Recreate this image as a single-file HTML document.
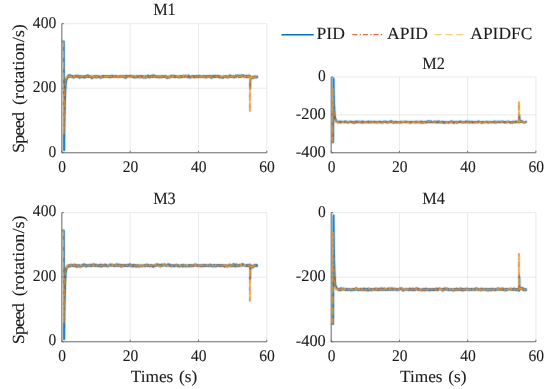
<!DOCTYPE html>
<html><head><meta charset="utf-8"><title>Motor speeds</title>
<style>
html,body{margin:0;padding:0;background:#fff;}
body{width:550px;height:389px;overflow:hidden;}
svg text{font-family:"Liberation Serif", "DejaVu Serif", serif;fill:#1c1c1c;stroke:#1c1c1c;stroke-width:0.1px;text-rendering:geometricPrecision;}
</style></head><body>
<svg width="550" height="389" viewBox="0 0 550 389" style="display:block">
<rect width="550" height="389" fill="#fff"/>
<defs><filter id="soft" x="-5%" y="-5%" width="110%" height="110%" color-interpolation-filters="sRGB"><feConvolveMatrix order="3" kernelMatrix="0.02 0.09 0.02 0.09 0.56 0.09 0.02 0.09 0.02" divisor="1" edgeMode="none" preserveAlpha="false"/></filter></defs>
<g><line x1="61.85" y1="23.7" x2="61.85" y2="152.75" stroke="#e4e4e4" stroke-width="0.8"/><line x1="130.17" y1="23.7" x2="130.17" y2="152.75" stroke="#e4e4e4" stroke-width="0.8"/><line x1="198.48" y1="23.7" x2="198.48" y2="152.75" stroke="#e4e4e4" stroke-width="0.8"/><line x1="266.80" y1="23.7" x2="266.80" y2="152.75" stroke="#e4e4e4" stroke-width="0.8"/><line x1="61.85" y1="152.75" x2="266.8" y2="152.75" stroke="#e4e4e4" stroke-width="0.8"/><line x1="61.85" y1="88.22" x2="266.8" y2="88.22" stroke="#e4e4e4" stroke-width="0.8"/><line x1="61.85" y1="23.70" x2="266.8" y2="23.70" stroke="#e4e4e4" stroke-width="0.8"/><path d="M61.85 23.7V152.75H266.8" fill="none" stroke="#707070" stroke-width="1"/><path d="M61.85 152.75v-2M130.17 152.75v-2M198.48 152.75v-2M266.80 152.75v-2M61.85 152.75h2M61.85 88.22h2M61.85 23.70h2" fill="none" stroke="#707070" stroke-width="1"/><g filter="url(#soft)"><polyline points="61.9,41.4 61.9,41.4 61.9,41.4 62.0,41.4 62.0,41.4 62.0,41.4 62.1,41.4 62.1,41.4 62.1,41.4 62.2,41.4 62.2,41.4 62.2,41.4 62.3,41.4 62.3,41.4 62.3,41.4 62.4,41.4 62.4,41.4 62.4,41.4 62.5,41.4 62.5,41.4 62.5,41.4 62.6,41.4 62.6,41.4 62.6,41.4 62.7,41.4 62.7,41.4 62.7,41.4 62.8,41.4 62.8,41.4 62.8,41.4 62.9,41.4 62.9,41.4 62.9,41.4 63.0,41.4 63.0,41.4 63.0,41.4 63.1,41.4 63.1,41.4 63.1,41.4 63.2,41.4 63.2,41.4 63.3,41.4 63.3,41.4 63.3,41.4 63.4,41.4 63.4,41.4 63.4,41.4 63.5,41.4 63.5,41.4 63.5,41.4 63.6,41.4 63.6,41.4 63.6,41.4 63.7,41.4 63.7,41.4 63.7,41.4 63.8,41.4 63.8,41.4 63.8,52.3 63.9,63.2 63.9,74.1 63.9,84.9 64.0,95.8 64.0,106.7 64.0,117.6 64.1,128.4 64.1,139.3 64.1,150.2 64.2,146.7 64.2,143.5 64.2,140.4 64.3,137.4 64.3,134.6 64.3,131.9 64.4,129.3 64.4,126.4 64.4,125.1 64.5,122.0 64.5,120.5 64.5,118.3 64.6,115.7 64.6,113.9 64.7,113.3 64.7,111.0 64.7,109.4 64.8,108.6 64.8,106.6 64.8,104.9 64.9,103.7 64.9,103.0 64.9,100.8 65.0,100.2 65.0,99.3 65.0,98.6 65.1,96.9 65.1,96.0 65.1,95.7 65.2,94.6 65.2,93.6 65.2,93.5 65.3,92.2 65.3,91.8 65.3,90.9 65.4,89.7 65.4,89.5 65.4,88.7 65.5,87.9 65.5,87.3 65.5,86.7 65.6,86.6 65.6,86.0 65.6,85.5 65.7,84.0 65.7,85.0 65.7,84.3 65.8,84.3 65.8,83.8 65.8,83.6 65.9,82.7 65.9,83.2 65.9,82.7 66.0,82.8 66.0,81.3 66.1,80.5 66.1,81.3 66.1,80.8 66.2,80.3 66.2,80.6 66.2,80.2 66.3,80.0 66.3,80.3 66.3,80.5 66.4,80.3 66.4,79.5 66.4,79.9 66.5,79.7 66.5,78.9 66.5,79.5 66.6,78.4 66.6,78.7 66.6,79.2 66.7,79.5 66.7,78.8 66.7,78.9 66.8,78.5 66.8,78.1 66.8,79.0 66.9,78.5 66.9,78.3 66.9,77.8 67.0,78.1 67.0,78.5 67.0,77.4 67.1,77.3 67.1,77.8 67.1,77.7 67.2,77.8 67.2,77.3 67.2,77.0 67.3,78.4 67.3,76.9 67.5,77.2 67.6,76.6 67.7,76.5 67.9,77.2 68.0,76.9 68.1,76.3 68.3,76.5 68.4,75.7 68.5,76.6 68.7,76.7 68.8,75.6 69.0,75.1 69.1,75.8 69.2,76.1 69.4,76.0 69.5,75.4 69.6,75.7 69.8,75.4 69.9,76.1 70.0,76.7 70.2,76.2 70.3,75.8 70.5,75.6 70.6,75.5 70.7,76.3 70.9,76.1 71.0,76.4 71.1,76.5 71.3,76.2 71.4,76.1 71.6,76.5 71.7,76.5 71.8,76.4 72.0,76.6 72.1,76.5 72.2,76.2 72.4,76.9 72.5,76.1 72.6,76.7 72.8,76.8 72.9,76.2 73.1,77.2 73.2,76.4 73.3,77.4 73.5,77.8 73.6,76.8 73.7,77.0 73.9,77.3 74.0,76.9 74.1,76.9 74.3,76.5 74.4,76.3 74.6,76.8 74.7,77.0 74.8,76.2 75.0,76.8 75.1,76.0 75.2,75.8 75.4,75.8 75.5,76.1 75.6,75.8 75.8,75.7 75.9,76.7 76.1,76.4 76.2,75.7 76.3,76.6 76.5,76.4 76.6,76.3 76.7,76.4 76.9,76.6 77.0,76.1 77.2,76.1 77.3,75.9 77.4,76.3 77.6,76.4 77.7,76.6 77.8,76.7 78.0,76.9 78.1,75.8 78.2,77.1 78.4,76.2 78.5,76.8 78.7,77.2 78.8,77.0 78.9,76.5 79.1,76.3 79.2,77.4 79.3,75.9 79.5,76.7 79.6,77.0 79.7,77.1 79.9,77.8 80.0,76.4 80.2,76.9 80.3,76.7 80.4,76.7 80.6,76.6 80.7,76.8 80.8,77.2 81.0,76.1 81.1,76.9 81.3,76.4 81.4,77.1 81.5,76.9 81.7,76.4 81.8,76.8 81.9,76.5 82.1,76.5 82.2,77.1 82.3,76.5 82.5,76.5 82.6,76.7 82.8,77.0 82.9,77.3 83.0,76.9 83.2,76.8 83.3,76.9 83.4,76.5 83.6,76.5 83.7,77.4 83.8,76.9 84.0,76.6 84.1,76.6 84.3,76.1 84.4,76.7 84.5,76.6 84.7,76.8 84.8,76.8 84.9,77.6 85.1,77.1 85.2,76.9 85.4,76.5 85.5,76.8 85.6,76.3 85.8,76.6 85.9,76.4 86.0,76.4 86.2,76.6 86.3,76.1 86.4,75.8 86.6,76.4 86.7,76.6 86.9,76.7 87.0,76.5 87.1,75.9 87.3,75.8 87.4,76.4 87.5,76.1 87.7,77.0 87.8,75.3 87.9,76.7 88.1,75.6 88.2,76.8 88.4,75.7 88.5,76.2 88.6,76.5 88.8,76.7 88.9,77.1 89.0,76.8 89.2,76.3 89.3,76.7 89.4,76.8 89.6,76.4 89.7,76.8 89.9,76.3 90.0,77.0 90.1,76.6 90.3,76.2 90.4,76.5 90.5,77.0 90.7,76.6 90.8,76.7 91.0,77.0 91.1,76.2 91.2,76.7 91.4,77.4 91.5,77.1 91.6,77.1 91.8,78.3 91.9,77.0 92.0,76.9 92.2,77.5 92.3,77.1 92.5,77.2 92.6,77.5 92.7,76.8 92.9,77.2 93.0,76.6 93.1,77.3 93.3,77.3 93.4,76.6 93.5,76.9 93.7,76.9 93.8,77.3 94.0,76.4 94.1,76.0 94.2,76.0 94.4,76.3 94.5,76.5 94.6,76.5 94.8,76.2 94.9,76.6 95.1,76.6 95.2,77.0 95.3,76.5 95.5,76.5 95.6,77.3 95.7,76.6 95.9,76.0 96.0,76.5 96.1,77.3 96.3,76.4 96.4,77.6 96.6,76.3 96.7,76.5 96.8,76.4 97.0,77.2 97.1,77.4 97.2,76.4 97.4,76.7 97.5,76.4 97.6,77.1 97.8,76.8 97.9,76.2 98.1,76.6 98.2,76.6 98.3,76.5 98.5,76.6 98.6,76.7 98.7,76.8 98.9,76.3 99.0,76.6 99.2,76.5 99.3,76.8 99.4,76.4 99.6,77.5 99.7,77.2 99.8,77.1 100.0,76.7 100.1,77.2 100.2,77.6 100.4,77.1 100.5,76.9 100.7,77.9 100.8,77.1 100.9,77.2 101.1,77.3 101.2,77.3 101.3,77.0 101.5,77.0 101.6,76.6 101.7,77.4 101.9,76.2 102.0,77.2 102.2,77.0 102.3,76.4 102.4,76.2 102.6,76.6 102.7,76.9 102.8,76.4 103.0,76.0 103.1,76.7 103.2,76.5 103.4,76.0 103.5,76.8 103.7,77.1 103.8,76.6 103.9,76.6 104.1,77.0 104.2,76.7 104.3,76.4 104.5,76.6 104.6,76.4 104.8,76.4 104.9,76.0 105.0,76.5 105.2,76.8 105.3,76.6 105.4,76.3 105.6,77.0 105.7,76.7 105.8,76.7 106.0,76.2 106.1,76.7 106.3,76.7 106.4,76.6 106.5,76.4 106.7,76.4 106.8,76.3 106.9,76.8 107.1,76.0 107.2,76.1 107.3,76.2 107.5,76.1 107.6,76.0 107.8,76.7 107.9,75.9 108.0,76.9 108.2,76.8 108.3,76.8 108.4,76.9 108.6,76.0 108.7,76.8 108.9,77.2 109.0,76.6 109.1,76.7 109.3,77.0 109.4,76.5 109.5,76.6 109.7,76.7 109.8,76.3 109.9,76.2 110.1,76.5 110.2,76.4 110.4,77.4 110.5,76.9 110.6,77.0 110.8,76.1 110.9,76.9 111.0,76.0 111.2,76.9 111.3,76.7 111.4,76.6 111.6,76.1 111.7,76.8 111.9,76.0 112.0,76.4 112.1,75.6 112.3,76.8 112.4,76.8 112.5,76.3 112.7,76.9 112.8,76.3 113.0,77.1 113.1,76.6 113.2,76.5 113.4,76.9 113.5,77.1 113.6,76.9 113.8,76.6 113.9,76.3 114.0,76.6 114.2,77.0 114.3,76.3 114.5,76.7 114.6,76.8 114.7,76.2 114.9,76.7 115.0,76.4 115.1,76.2 115.3,76.6 115.4,76.5 115.5,76.7 115.7,76.1 115.8,76.6 116.0,76.9 116.1,76.3 116.2,76.4 116.4,76.2 116.5,76.0 116.6,76.5 116.8,76.8 116.9,76.5 117.0,76.5 117.2,76.7 117.3,76.9 117.5,76.9 117.6,77.0 117.7,76.8 117.9,76.8 118.0,77.2 118.1,77.1 118.3,76.9 118.4,76.9 118.6,76.5 118.7,77.0 118.8,76.4 119.0,76.9 119.1,76.5 119.2,76.8 119.4,76.7 119.5,76.8 119.6,76.2 119.8,77.1 119.9,76.6 120.1,76.2 120.2,75.9 120.3,75.9 120.5,76.8 120.6,76.4 120.7,76.6 120.9,76.3 121.0,76.5 121.1,76.3 121.3,76.1 121.4,76.4 121.6,76.0 121.7,76.5 121.8,76.4 122.0,76.3 122.1,76.5 122.2,76.5 122.4,77.0 122.5,76.9 122.7,76.2 122.8,76.0 122.9,76.4 123.1,76.6 123.2,76.5 123.3,77.0 123.5,76.6 123.6,76.6 123.7,77.0 123.9,76.7 124.0,77.2 124.2,77.3 124.3,76.8 124.4,77.2 124.6,77.1 124.7,76.5 124.8,77.7 125.0,77.4 125.1,76.6 125.2,75.8 125.4,76.8 125.5,76.1 125.7,77.2 125.8,76.0 125.9,77.3 126.1,77.6 126.2,76.6 126.3,76.4 126.5,76.5 126.6,76.5 126.8,75.9 126.9,76.9 127.0,76.3 127.2,77.1 127.3,75.9 127.4,76.7 127.6,76.8 127.7,76.9 127.8,77.0 128.0,76.9 128.1,76.9 128.3,76.3 128.4,75.9 128.5,76.8 128.7,76.0 128.8,76.4 128.9,76.4 129.1,76.1 129.2,76.1 129.3,76.4 129.5,76.4 129.6,76.0 129.8,75.8 129.9,75.7 130.0,75.8 130.2,76.3 130.3,76.0 130.4,76.4 130.6,76.0 130.7,76.0 130.8,76.1 131.0,76.2 131.1,76.0 131.3,76.0 131.4,76.5 131.5,75.8 131.7,75.8 131.8,76.3 131.9,76.4 132.1,77.0 132.2,76.4 132.4,76.6 132.5,76.5 132.6,76.6 132.8,75.9 132.9,76.1 133.0,76.4 133.2,77.2 133.3,76.2 133.4,77.0 133.6,76.0 133.7,77.1 133.9,76.6 134.0,76.8 134.1,76.9 134.3,76.6 134.4,76.6 134.5,76.7 134.7,77.3 134.8,77.6 134.9,77.2 135.1,76.9 135.2,76.8 135.4,76.8 135.5,76.8 135.6,76.8 135.8,77.0 135.9,76.6 136.0,76.4 136.2,76.7 136.3,77.2 136.5,76.8 136.6,76.0 136.7,76.9 136.9,76.5 137.0,77.2 137.1,76.8 137.3,76.5 137.4,76.9 137.5,76.8 137.7,76.5 137.8,76.6 138.0,76.6 138.1,76.8 138.2,76.2 138.4,76.4 138.5,77.2 138.6,77.0 138.8,76.6 138.9,76.1 139.0,77.2 139.2,77.3 139.3,76.6 139.5,76.7 139.6,77.1 139.7,77.5 139.9,77.3 140.0,77.2 140.1,77.4 140.3,76.6 140.4,77.1 140.6,76.1 140.7,76.9 140.8,77.3 141.0,77.2 141.1,76.8 141.2,76.3 141.4,76.8 141.5,76.2 141.6,76.5 141.8,76.4 141.9,77.0 142.1,76.7 142.2,77.1 142.3,77.3 142.5,76.7 142.6,77.3 142.7,76.5 142.9,76.0 143.0,76.5 143.1,76.9 143.3,76.4 143.4,76.6 143.6,76.9 143.7,77.0 143.8,77.7 144.0,76.8 144.1,76.9 144.2,77.4 144.4,77.2 144.5,76.9 144.6,77.3 144.8,76.8 144.9,77.6 145.1,76.8 145.2,77.0 145.3,77.0 145.5,76.3 145.6,77.0 145.7,77.7 145.9,77.5 146.0,77.2 146.2,77.1 146.3,77.1 146.4,76.7 146.6,76.5 146.7,76.4 146.8,77.2 147.0,76.3 147.1,76.5 147.2,77.1 147.4,76.6 147.5,76.1 147.7,76.0 147.8,76.9 147.9,75.5 148.1,76.2 148.2,76.1 148.3,77.0 148.5,75.8 148.6,76.8 148.7,77.1 148.9,76.9 149.0,76.7 149.2,77.1 149.3,76.2 149.4,77.0 149.6,77.5 149.7,76.6 149.8,76.9 150.0,77.3 150.1,76.7 150.3,76.5 150.4,77.1 150.5,76.7 150.7,76.7 150.8,76.1 150.9,76.3 151.1,75.7 151.2,76.4 151.3,76.3 151.5,76.0 151.6,76.7 151.8,76.3 151.9,76.9 152.0,76.0 152.2,76.4 152.3,76.1 152.4,75.6 152.6,76.2 152.7,76.6 152.8,76.1 153.0,76.9 153.1,76.4 153.3,76.1 153.4,76.7 153.5,75.9 153.7,75.7 153.8,76.3 153.9,75.3 154.1,76.7 154.2,76.1 154.4,76.4 154.5,76.7 154.6,76.3 154.8,76.3 154.9,76.3 155.0,76.4 155.2,76.5 155.3,76.2 155.4,77.1 155.6,76.8 155.7,75.9 155.9,76.6 156.0,76.7 156.1,77.1 156.3,77.1 156.4,77.0 156.5,76.6 156.7,77.1 156.8,76.9 156.9,76.9 157.1,77.1 157.2,76.9 157.4,77.1 157.5,76.4 157.6,76.8 157.8,76.9 157.9,76.5 158.0,76.8 158.2,76.7 158.3,76.6 158.4,77.0 158.6,76.6 158.7,76.2 158.9,76.8 159.0,77.0 159.1,77.3 159.3,77.4 159.4,76.9 159.5,76.8 159.7,76.6 159.8,76.8 160.0,76.6 160.1,76.5 160.2,76.2 160.4,76.9 160.5,76.5 160.6,77.0 160.8,77.1 160.9,76.7 161.0,76.8 161.2,77.0 161.3,77.5 161.5,76.4 161.6,76.4 161.7,76.6 161.9,76.1 162.0,76.5 162.1,76.9 162.3,75.9 162.4,76.3 162.5,76.3 162.7,76.2 162.8,76.6 163.0,77.0 163.1,76.6 163.2,76.6 163.4,77.0 163.5,76.7 163.6,76.7 163.8,76.5 163.9,77.0 164.1,76.6 164.2,76.9 164.3,76.7 164.5,76.4 164.6,76.6 164.7,76.1 164.9,77.1 165.0,76.5 165.1,76.2 165.3,76.6 165.4,76.9 165.6,76.3 165.7,76.8 165.8,76.9 166.0,77.2 166.1,77.4 166.2,76.8 166.4,76.7 166.5,76.4 166.6,76.7 166.8,77.0 166.9,77.3 167.1,76.8 167.2,77.0 167.3,78.1 167.5,76.7 167.6,77.1 167.7,76.8 167.9,77.2 168.0,77.8 168.2,76.8 168.3,77.2 168.4,77.2 168.6,76.9 168.7,76.9 168.8,76.8 169.0,77.0 169.1,77.3 169.2,77.0 169.4,77.5 169.5,76.5 169.7,77.1 169.8,76.7 169.9,76.7 170.1,77.2 170.2,76.3 170.3,77.0 170.5,76.7 170.6,77.0 170.7,76.8 170.9,77.1 171.0,76.6 171.2,76.5 171.3,76.4 171.4,75.8 171.6,76.2 171.7,76.6 171.8,76.2 172.0,76.1 172.1,76.2 172.2,76.5 172.4,75.8 172.5,76.2 172.7,76.6 172.8,76.3 172.9,76.5 173.1,76.4 173.2,76.7 173.3,75.8 173.5,76.3 173.6,76.2 173.8,76.8 173.9,76.6 174.0,76.4 174.2,76.3 174.3,75.8 174.4,76.8 174.6,76.8 174.7,76.4 174.8,77.0 175.0,76.7 175.1,76.6 175.3,76.5 175.4,76.7 175.5,76.1 175.7,76.6 175.8,77.2 175.9,76.6 176.1,76.3 176.2,76.2 176.3,76.4 176.5,76.1 176.6,76.9 176.8,76.2 176.9,77.0 177.0,76.5 177.2,76.9 177.3,76.6 177.4,76.7 177.6,76.8 177.7,76.6 177.9,77.3 178.0,76.9 178.1,76.9 178.3,76.8 178.4,77.0 178.5,76.6 178.7,76.6 178.8,77.1 178.9,77.0 179.1,77.5 179.2,76.8 179.4,76.2 179.5,77.1 179.6,76.5 179.8,76.9 179.9,76.9 180.0,76.0 180.2,76.6 180.3,76.7 180.4,76.3 180.6,76.5 180.7,76.4 180.9,77.2 181.0,76.6 181.1,76.4 181.3,76.4 181.4,76.9 181.5,77.1 181.7,76.0 181.8,76.5 182.0,76.3 182.1,75.9 182.2,76.9 182.4,76.3 182.5,76.0 182.6,76.1 182.8,76.2 182.9,76.7 183.0,75.9 183.2,76.0 183.3,75.8 183.5,75.5 183.6,76.8 183.7,75.9 183.9,76.6 184.0,76.4 184.1,76.4 184.3,76.4 184.4,76.5 184.5,76.5 184.7,76.9 184.8,76.5 185.0,76.4 185.1,76.8 185.2,76.4 185.4,76.1 185.5,75.8 185.6,76.3 185.8,75.4 185.9,76.3 186.0,76.3 186.2,76.5 186.3,76.4 186.5,76.0 186.6,76.7 186.7,76.0 186.9,76.4 187.0,76.7 187.1,76.0 187.3,75.9 187.4,76.2 187.6,76.7 187.7,76.3 187.8,77.1 188.0,76.5 188.1,77.3 188.2,77.2 188.4,77.0 188.5,76.4 188.6,75.5 188.8,77.1 188.9,76.6 189.1,76.8 189.2,76.8 189.3,76.7 189.5,77.4 189.6,76.4 189.7,76.8 189.9,77.2 190.0,76.9 190.1,77.6 190.3,77.2 190.4,76.8 190.6,77.2 190.7,77.6 190.8,77.4 191.0,77.0 191.1,76.8 191.2,77.3 191.4,77.2 191.5,77.3 191.7,77.2 191.8,76.3 191.9,76.4 192.1,76.6 192.2,76.1 192.3,77.0 192.5,76.1 192.6,76.6 192.7,76.8 192.9,76.7 193.0,76.6 193.2,76.2 193.3,77.0 193.4,76.6 193.6,76.5 193.7,76.6 193.8,76.6 194.0,75.9 194.1,76.5 194.2,77.4 194.4,76.5 194.5,76.4 194.7,76.7 194.8,76.4 194.9,76.3 195.1,76.5 195.2,77.1 195.3,76.9 195.5,76.5 195.6,77.2 195.8,76.5 195.9,76.4 196.0,77.0 196.2,76.8 196.3,76.7 196.4,76.1 196.6,76.7 196.7,77.0 196.8,76.6 197.0,76.4 197.1,76.3 197.3,76.0 197.4,75.9 197.5,76.6 197.7,76.5 197.8,76.2 197.9,76.7 198.1,76.5 198.2,76.2 198.3,76.0 198.5,77.3 198.6,76.9 198.8,77.2 198.9,75.7 199.0,76.1 199.2,76.4 199.3,76.6 199.4,76.6 199.6,76.3 199.7,76.7 199.8,76.6 200.0,76.2 200.1,75.9 200.3,76.9 200.4,76.7 200.5,76.9 200.7,76.6 200.8,77.2 200.9,76.4 201.1,76.9 201.2,76.9 201.4,76.8 201.5,76.8 201.6,76.5 201.8,76.9 201.9,76.4 202.0,76.7 202.2,77.0 202.3,76.4 202.4,76.4 202.6,77.1 202.7,76.9 202.9,76.7 203.0,76.3 203.1,76.7 203.3,75.9 203.4,77.1 203.5,76.8 203.7,76.1 203.8,76.3 203.9,77.1 204.1,76.6 204.2,77.0 204.4,76.5 204.5,76.3 204.6,76.4 204.8,77.4 204.9,77.1 205.0,76.8 205.2,76.8 205.3,76.9 205.5,76.0 205.6,77.2 205.7,76.6 205.9,76.8 206.0,77.2 206.1,76.2 206.3,77.2 206.4,77.6 206.5,76.7 206.7,77.1 206.8,76.5 207.0,76.3 207.1,77.0 207.2,77.0 207.4,77.0 207.5,75.9 207.6,76.8 207.8,76.2 207.9,76.9 208.0,76.9 208.2,76.8 208.3,76.6 208.5,76.4 208.6,76.2 208.7,76.4 208.9,76.4 209.0,75.9 209.1,76.4 209.3,76.3 209.4,76.2 209.6,75.9 209.7,75.7 209.8,76.5 210.0,76.6 210.1,76.2 210.2,75.9 210.4,77.1 210.5,76.6 210.6,76.6 210.8,76.2 210.9,76.6 211.1,77.1 211.2,76.9 211.3,78.0 211.5,77.4 211.6,77.6 211.7,77.3 211.9,76.7 212.0,77.3 212.1,77.1 212.3,76.2 212.4,76.7 212.6,76.0 212.7,76.7 212.8,77.3 213.0,76.6 213.1,76.6 213.2,77.1 213.4,76.3 213.5,76.9 213.6,75.7 213.8,76.8 213.9,75.9 214.1,76.3 214.2,76.4 214.3,76.5 214.5,76.2 214.6,76.8 214.7,76.6 214.9,77.0 215.0,76.4 215.2,76.5 215.3,76.7 215.4,75.7 215.6,76.9 215.7,76.8 215.8,76.1 216.0,76.5 216.1,76.1 216.2,76.6 216.4,76.8 216.5,76.3 216.7,76.6 216.8,76.3 216.9,76.3 217.1,76.0 217.2,75.9 217.3,76.3 217.5,76.1 217.6,76.3 217.7,75.8 217.9,75.9 218.0,76.1 218.2,76.2 218.3,76.4 218.4,77.0 218.6,76.6 218.7,77.0 218.8,76.2 219.0,77.0 219.1,76.8 219.3,76.4 219.4,77.1 219.5,77.5 219.7,77.0 219.8,76.4 219.9,76.4 220.1,76.7 220.2,76.3 220.3,76.9 220.5,77.2 220.6,76.4 220.8,77.1 220.9,77.5 221.0,77.2 221.2,77.2 221.3,77.0 221.4,77.1 221.6,76.7 221.7,77.3 221.8,77.1 222.0,77.1 222.1,77.3 222.3,77.2 222.4,77.6 222.5,76.7 222.7,77.2 222.8,77.0 222.9,78.0 223.1,77.0 223.2,76.6 223.4,76.7 223.5,77.1 223.6,77.2 223.8,76.8 223.9,76.8 224.0,76.2 224.2,76.7 224.3,76.7 224.4,76.8 224.6,76.0 224.7,76.1 224.9,76.8 225.0,76.7 225.1,76.3 225.3,76.4 225.4,76.4 225.5,76.1 225.7,76.6 225.8,76.2 225.9,76.6 226.1,76.7 226.2,76.2 226.4,76.4 226.5,77.3 226.6,76.6 226.8,76.5 226.9,76.6 227.0,77.1 227.2,76.5 227.3,77.2 227.4,76.9 227.6,76.7 227.7,76.7 227.9,76.8 228.0,76.3 228.1,77.0 228.3,77.5 228.4,76.8 228.5,76.9 228.7,76.8 228.8,77.0 229.0,76.4 229.1,76.9 229.2,76.5 229.4,76.9 229.5,76.3 229.6,76.4 229.8,75.9 229.9,75.3 230.0,76.3 230.2,76.6 230.3,76.1 230.5,76.1 230.6,76.8 230.7,76.3 230.9,76.4 231.0,76.9 231.1,76.5 231.3,76.5 231.4,76.4 231.5,76.3 231.7,76.0 231.8,76.8 232.0,76.3 232.1,76.5 232.2,76.3 232.4,76.8 232.5,76.4 232.6,77.0 232.8,76.8 232.9,76.9 233.1,77.3 233.2,76.4 233.3,77.1 233.5,76.8 233.6,76.5 233.7,76.4 233.9,76.8 234.0,76.9 234.1,76.6 234.3,77.2 234.4,76.5 234.6,76.4 234.7,76.6 234.8,77.2 235.0,75.9 235.1,76.0 235.2,76.1 235.4,76.7 235.5,75.5 235.6,76.8 235.8,76.2 235.9,75.8 236.1,76.9 236.2,75.7 236.3,75.8 236.5,75.9 236.6,75.9 236.7,75.6 236.9,75.6 237.0,75.6 237.2,75.7 237.3,75.5 237.4,76.0 237.6,76.1 237.7,76.0 237.8,75.7 238.0,76.2 238.1,76.3 238.2,76.4 238.4,76.1 238.5,76.8 238.7,77.1 238.8,76.4 238.9,76.8 239.1,75.6 239.2,75.9 239.3,76.5 239.5,76.3 239.6,76.7 239.7,76.2 239.9,76.7 240.0,76.3 240.2,76.0 240.3,75.7 240.4,76.4 240.6,76.3 240.7,76.5 240.8,76.5 241.0,77.0 241.1,76.9 241.2,75.4 241.4,76.2 241.5,75.6 241.7,76.0 241.8,76.2 241.9,75.9 242.1,75.7 242.2,75.5 242.3,76.2 242.5,76.3 242.6,75.6 242.8,75.7 242.9,75.9 243.0,75.7 243.2,75.2 243.3,76.3 243.4,75.8 243.6,75.8 243.7,75.6 243.8,76.3 244.0,76.5 244.1,75.7 244.3,75.9 244.4,76.5 244.5,76.9 244.7,76.7 244.8,76.5 244.9,77.2 245.1,76.2 245.2,76.4 245.3,77.1 245.5,76.9 245.6,76.5 245.8,75.8 245.9,76.9 246.0,76.3 246.2,76.6 246.3,77.0 246.4,76.2 246.6,75.7 246.7,76.0 246.9,76.3 247.0,76.5 247.1,76.5 247.3,76.2 247.4,76.2 247.5,77.2 247.7,76.3 247.8,76.9 247.9,76.1 248.1,75.7 248.2,76.7 248.4,76.5 248.5,76.1 248.6,76.2 248.8,75.7 248.9,76.5 249.0,76.5 249.2,75.9 249.3,76.5 249.4,75.7 249.4,76.0 249.4,75.9 249.5,76.5 249.5,76.5 249.6,76.4 249.6,76.8 249.6,75.9 249.7,76.7 249.7,76.4 249.7,75.7 249.8,76.5 249.8,76.7 249.8,76.1 249.9,77.3 249.9,77.2 249.9,76.9 250.0,76.6 250.0,77.0 250.0,76.7 250.1,76.2 250.1,79.6 250.1,82.7 250.2,85.9 250.2,88.8 250.2,86.3 250.3,83.4 250.3,81.9 250.3,81.5 250.4,80.0 250.4,79.8 250.4,78.7 250.5,79.0 250.5,78.1 250.5,77.9 250.6,78.0 250.6,78.2 250.6,77.6 250.7,78.4 250.7,78.8 250.7,78.4 250.8,77.7 250.8,77.1 250.8,76.7 250.9,77.3 250.9,76.8 251.0,77.2 251.0,77.4 251.0,77.3 251.1,77.4 251.1,77.5 251.1,76.9 251.2,77.3 251.2,77.1 251.2,77.0 251.3,77.6 251.3,77.5 251.3,77.5 251.4,77.6 251.4,77.5 251.4,77.3 251.5,77.4 251.5,77.2 251.5,77.3 251.6,77.3 251.6,78.2 251.6,77.6 251.7,77.2 251.7,77.2 251.7,78.0 251.8,77.6 251.8,77.0 251.8,77.9 251.9,78.1 251.9,77.1 251.9,77.6 252.0,78.1 252.0,77.7 252.0,77.4 252.1,76.8 252.1,77.5 252.1,77.3 252.2,77.7 252.2,77.8 252.2,78.2 252.3,78.1 252.3,77.9 252.4,77.8 252.4,77.9 252.4,77.7 252.5,76.5 252.6,78.0 252.7,77.7 252.9,77.0 253.0,77.5 253.1,76.9 253.3,77.6 253.4,77.6 253.5,77.9 253.7,77.4 253.8,77.7 254.0,77.5 254.1,76.9 254.2,76.9 254.4,77.3 254.5,76.6 254.6,77.3 254.8,76.4 254.9,76.5 255.0,76.9 255.2,76.6 255.3,77.2 255.5,77.0 255.6,77.0 255.7,76.9 255.9,77.0 256.0,77.6 256.1,76.6 256.3,77.0 256.4,77.4 256.6,76.9 256.7,77.1 256.8,76.8 257.0,77.1 257.1,76.6 257.2,77.1 257.4,76.5" fill="none" stroke="#0072BD" stroke-width="2.0" stroke-linejoin="round"/><polyline points="61.9,41.4 61.9,41.4 61.9,41.4 62.0,41.4 62.0,41.4 62.0,41.4 62.1,41.4 62.1,41.4 62.1,41.4 62.2,41.4 62.2,41.4 62.2,41.4 62.3,41.4 62.3,41.4 62.3,41.4 62.4,41.4 62.4,41.4 62.4,41.4 62.5,41.4 62.5,41.4 62.5,41.4 62.6,41.4 62.6,41.4 62.6,41.4 62.7,41.4 62.7,41.4 62.7,41.4 62.8,41.4 62.8,41.4 62.8,41.4 62.9,41.4 62.9,41.4 62.9,41.4 63.0,41.4 63.0,41.4 63.0,41.4 63.1,41.4 63.1,41.4 63.1,41.4 63.2,41.4 63.2,41.4 63.3,41.4 63.3,41.4 63.3,41.4 63.4,41.4 63.4,41.4 63.4,41.4 63.5,41.4 63.5,50.7 63.5,60.0 63.6,69.2 63.6,78.5 63.6,87.7 63.7,97.0 63.7,106.3 63.7,115.5 63.8,124.8 63.8,134.0 63.8,131.4 63.9,128.8 63.9,126.4 63.9,124.1 64.0,121.9 64.0,119.8 64.0,117.8 64.1,115.8 64.1,114.0 64.1,112.3 64.2,110.6 64.2,109.0 64.2,107.5 64.3,106.1 64.3,104.7 64.3,103.4 64.4,102.2 64.4,101.1 64.4,99.7 64.5,98.8 64.5,97.9 64.5,97.1 64.6,95.7 64.6,95.5 64.7,93.9 64.7,92.8 64.7,92.8 64.8,92.0 64.8,91.4 64.8,90.2 64.9,90.1 64.9,89.1 64.9,88.6 65.0,88.2 65.0,87.4 65.0,87.6 65.1,86.7 65.1,86.3 65.1,85.8 65.2,85.8 65.2,85.0 65.2,84.5 65.3,84.2 65.3,83.7 65.3,83.9 65.4,83.2 65.4,82.8 65.4,82.4 65.5,81.9 65.5,81.5 65.5,80.9 65.6,81.2 65.6,80.7 65.6,81.2 65.7,80.9 65.7,80.3 65.7,80.2 65.8,80.2 65.8,79.8 65.8,80.1 65.9,79.3 65.9,79.4 65.9,79.8 66.0,79.4 66.0,78.9 66.1,78.2 66.1,79.6 66.1,78.6 66.2,78.5 66.2,78.5 66.2,78.3 66.3,78.1 66.3,78.5 66.3,78.3 66.4,78.2 66.4,78.3 66.4,78.0 66.5,77.7 66.5,77.7 66.5,78.2 66.6,77.9 66.6,77.9 66.6,78.3 66.7,77.7 66.7,77.6 66.7,77.6 66.8,78.0 66.8,77.9 66.8,77.6 66.9,77.5 66.9,77.7 66.9,77.3 67.0,77.3 67.0,78.1 67.0,77.3 67.1,77.1 67.1,77.4 67.1,76.9 67.2,76.9 67.2,76.9 67.2,77.1 67.3,77.3 67.3,76.8 67.5,76.9 67.6,76.4 67.7,76.6 67.9,76.1 68.0,75.8 68.1,75.6 68.3,75.7 68.4,75.6 68.5,76.2 68.7,76.2 68.8,75.5 69.0,75.5 69.1,76.0 69.2,76.0 69.4,75.7 69.5,75.5 69.6,75.9 69.8,76.1 69.9,75.9 70.0,76.6 70.2,75.6 70.3,76.0 70.5,75.8 70.6,76.2 70.7,76.8 70.9,76.6 71.0,76.3 71.1,76.0 71.3,76.7 71.4,76.4 71.6,76.4 71.7,76.6 71.8,76.8 72.0,76.5 72.1,76.9 72.2,76.6 72.4,76.2 72.5,76.6 72.6,76.4 72.8,76.4 72.9,76.2 73.1,77.3 73.2,76.5 73.3,76.8 73.5,77.5 73.6,77.4 73.7,77.3 73.9,77.4 74.0,76.7 74.1,76.8 74.3,76.6 74.4,76.0 74.6,76.7 74.7,77.3 74.8,76.3 75.0,76.4 75.1,76.3 75.2,76.0 75.4,76.7 75.5,75.8 75.6,76.6 75.8,76.1 75.9,76.1 76.1,76.4 76.2,75.4 76.3,77.0 76.5,76.2 76.6,76.3 76.7,76.5 76.9,76.1 77.0,76.6 77.2,76.0 77.3,75.8 77.4,76.6 77.6,76.7 77.7,76.6 77.8,76.6 78.0,76.4 78.1,76.1 78.2,76.1 78.4,76.1 78.5,76.4 78.7,76.8 78.8,76.9 78.9,76.6 79.1,76.7 79.2,76.7 79.3,76.7 79.5,77.1 79.6,76.9 79.7,77.1 79.9,77.5 80.0,76.2 80.2,76.5 80.3,77.3 80.4,76.6 80.6,76.9 80.7,76.8 80.8,76.5 81.0,76.6 81.1,76.7 81.3,76.1 81.4,76.9 81.5,76.7 81.7,76.5 81.8,76.4 81.9,76.7 82.1,76.5 82.2,76.6 82.3,76.3 82.5,76.4 82.6,76.9 82.8,77.0 82.9,76.7 83.0,76.9 83.2,77.4 83.3,76.7 83.4,77.0 83.6,77.0 83.7,77.0 83.8,77.2 84.0,76.9 84.1,76.5 84.3,76.9 84.4,76.7 84.5,76.8 84.7,76.8 84.8,77.1 84.9,76.4 85.1,76.9 85.2,76.4 85.4,76.9 85.5,76.7 85.6,76.7 85.8,76.9 85.9,77.2 86.0,76.0 86.2,77.0 86.3,76.6 86.4,76.0 86.6,76.6 86.7,76.4 86.9,76.5 87.0,76.7 87.1,75.7 87.3,76.5 87.4,76.4 87.5,76.1 87.7,76.2 87.8,76.2 87.9,76.5 88.1,76.3 88.2,77.1 88.4,76.2 88.5,76.7 88.6,76.8 88.8,76.6 88.9,76.9 89.0,76.4 89.2,76.3 89.3,77.3 89.4,76.5 89.6,77.0 89.7,76.3 89.9,76.3 90.0,76.4 90.1,76.2 90.3,76.4 90.4,76.4 90.5,77.2 90.7,76.7 90.8,77.1 91.0,76.9 91.1,76.8 91.2,76.6 91.4,77.5 91.5,77.1 91.6,77.7 91.8,77.2 91.9,77.7 92.0,76.9 92.2,77.8 92.3,77.2 92.5,76.9 92.6,77.7 92.7,77.5 92.9,77.1 93.0,77.1 93.1,77.6 93.3,76.5 93.4,76.7 93.5,76.5 93.7,76.4 93.8,77.0 94.0,76.8 94.1,76.1 94.2,76.8 94.4,76.6 94.5,76.4 94.6,76.3 94.8,76.0 94.9,77.2 95.1,75.9 95.2,76.6 95.3,76.5 95.5,76.6 95.6,77.3 95.7,76.9 95.9,76.8 96.0,76.5 96.1,77.2 96.3,77.3 96.4,76.8 96.6,76.4 96.7,76.5 96.8,75.9 97.0,77.1 97.1,77.0 97.2,76.4 97.4,76.2 97.5,76.4 97.6,77.2 97.8,77.1 97.9,76.6 98.1,77.0 98.2,76.3 98.3,76.7 98.5,76.8 98.6,76.9 98.7,76.5 98.9,76.2 99.0,76.8 99.2,76.4 99.3,76.9 99.4,76.5 99.6,76.9 99.7,76.8 99.8,76.9 100.0,76.5 100.1,77.1 100.2,77.0 100.4,77.1 100.5,77.2 100.7,77.3 100.8,77.5 100.9,77.4 101.1,77.3 101.2,76.8 101.3,76.9 101.5,77.2 101.6,76.7 101.7,76.1 101.9,76.7 102.0,77.1 102.2,77.4 102.3,76.7 102.4,77.2 102.6,76.1 102.7,77.0 102.8,76.5 103.0,76.6 103.1,76.9 103.2,76.6 103.4,76.3 103.5,76.6 103.7,76.5 103.8,76.5 103.9,77.3 104.1,77.1 104.2,76.9 104.3,76.8 104.5,77.2 104.6,77.3 104.8,76.7 104.9,76.9 105.0,76.5 105.2,76.6 105.3,76.1 105.4,76.7 105.6,76.9 105.7,76.8 105.8,76.8 106.0,76.5 106.1,76.3 106.3,76.0 106.4,76.2 106.5,76.2 106.7,76.4 106.8,76.0 106.9,76.4 107.1,75.8 107.2,76.3 107.3,76.3 107.5,76.7 107.6,76.3 107.8,76.1 107.9,76.3 108.0,76.3 108.2,77.1 108.3,76.7 108.4,77.2 108.6,76.4 108.7,76.5 108.9,77.1 109.0,77.0 109.1,76.9 109.3,75.8 109.4,76.7 109.5,76.9 109.7,76.5 109.8,76.7 109.9,76.8 110.1,76.6 110.2,76.9 110.4,76.3 110.5,76.9 110.6,76.9 110.8,76.8 110.9,76.6 111.0,76.4 111.2,76.8 111.3,76.4 111.4,76.5 111.6,76.2 111.7,76.1 111.9,76.2 112.0,75.9 112.1,76.4 112.3,76.8 112.4,76.4 112.5,76.4 112.7,76.3 112.8,76.4 113.0,76.9 113.1,76.7 113.2,76.4 113.4,77.4 113.5,77.0 113.6,76.8 113.8,76.8 113.9,76.9 114.0,76.6 114.2,77.1 114.3,76.8 114.5,76.4 114.6,76.8 114.7,76.3 114.9,77.2 115.0,76.4 115.1,76.1 115.3,76.4 115.4,76.7 115.5,76.4 115.7,76.8 115.8,76.2 116.0,76.4 116.1,76.0 116.2,76.4 116.4,76.5 116.5,76.3 116.6,76.7 116.8,76.3 116.9,76.3 117.0,76.3 117.2,76.3 117.3,76.0 117.5,77.3 117.6,76.6 117.7,76.2 117.9,76.2 118.0,77.0 118.1,76.8 118.3,76.7 118.4,76.7 118.6,76.9 118.7,76.7 118.8,77.1 119.0,77.1 119.1,76.3 119.2,77.0 119.4,76.5 119.5,76.4 119.6,76.3 119.8,76.4 119.9,76.9 120.1,76.1 120.2,76.2 120.3,76.5 120.5,76.5 120.6,75.9 120.7,76.8 120.9,76.0 121.0,76.8 121.1,76.5 121.3,76.0 121.4,76.4 121.6,75.9 121.7,76.1 121.8,76.6 122.0,76.4 122.1,76.4 122.2,75.6 122.4,76.5 122.5,77.0 122.7,75.7 122.8,75.9 122.9,76.8 123.1,77.1 123.2,76.7 123.3,76.7 123.5,76.1 123.6,77.1 123.7,77.0 123.9,76.9 124.0,76.7 124.2,77.5 124.3,77.2 124.4,76.8 124.6,76.9 124.7,76.7 124.8,77.0 125.0,77.0 125.1,76.8 125.2,76.6 125.4,76.5 125.5,76.6 125.7,76.8 125.8,76.3 125.9,77.2 126.1,76.8 126.2,76.8 126.3,76.7 126.5,75.7 126.6,76.4 126.8,75.8 126.9,76.3 127.0,76.4 127.2,76.8 127.3,76.3 127.4,76.9 127.6,76.4 127.7,77.2 127.8,76.8 128.0,76.9 128.1,76.9 128.3,76.7 128.4,76.6 128.5,76.8 128.7,76.3 128.8,76.5 128.9,76.4 129.1,76.1 129.2,76.5 129.3,77.0 129.5,76.5 129.6,75.8 129.8,76.3 129.9,76.2 130.0,76.0 130.2,75.9 130.3,76.3 130.4,75.5 130.6,76.2 130.7,75.8 130.8,76.2 131.0,75.8 131.1,76.0 131.3,76.0 131.4,76.4 131.5,76.7 131.7,76.0 131.8,76.6 131.9,75.8 132.1,76.0 132.2,76.6 132.4,77.1 132.5,75.9 132.6,76.8 132.8,76.4 132.9,76.6 133.0,76.3 133.2,77.0 133.3,76.3 133.4,77.0 133.6,76.2 133.7,77.4 133.9,76.7 134.0,77.0 134.1,76.8 134.3,77.1 134.4,77.3 134.5,76.4 134.7,77.1 134.8,77.1 134.9,77.1 135.1,76.9 135.2,76.8 135.4,77.2 135.5,77.3 135.6,76.4 135.8,77.4 135.9,76.5 136.0,76.6 136.2,76.0 136.3,76.5 136.5,77.0 136.6,76.4 136.7,76.8 136.9,76.1 137.0,76.7 137.1,76.6 137.3,76.3 137.4,76.4 137.5,76.6 137.7,76.5 137.8,76.2 138.0,76.5 138.1,76.4 138.2,76.6 138.4,76.4 138.5,77.0 138.6,76.8 138.8,76.3 138.9,76.5 139.0,77.3 139.2,77.0 139.3,76.8 139.5,77.5 139.6,76.7 139.7,77.9 139.9,77.2 140.0,77.3 140.1,76.9 140.3,77.1 140.4,77.1 140.6,76.8 140.7,76.5 140.8,76.6 141.0,77.0 141.1,77.6 141.2,76.8 141.4,76.8 141.5,75.7 141.6,77.0 141.8,76.8 141.9,76.8 142.1,76.3 142.2,77.0 142.3,76.6 142.5,77.0 142.6,77.0 142.7,76.2 142.9,76.8 143.0,76.6 143.1,75.9 143.3,76.8 143.4,76.8 143.6,76.9 143.7,76.7 143.8,77.7 144.0,77.0 144.1,77.5 144.2,77.4 144.4,77.0 144.5,77.1 144.6,77.3 144.8,77.1 144.9,77.4 145.1,77.2 145.2,76.6 145.3,76.7 145.5,76.6 145.6,76.9 145.7,76.7 145.9,77.0 146.0,76.7 146.2,77.3 146.3,77.4 146.4,77.5 146.6,76.4 146.7,76.5 146.8,76.6 147.0,76.9 147.1,76.4 147.2,77.1 147.4,76.5 147.5,76.4 147.7,76.3 147.8,76.7 147.9,76.6 148.1,76.2 148.2,76.1 148.3,76.3 148.5,76.2 148.6,76.8 148.7,76.7 148.9,76.1 149.0,76.9 149.2,76.6 149.3,76.6 149.4,76.5 149.6,76.9 149.7,76.6 149.8,76.7 150.0,77.4 150.1,77.1 150.3,77.2 150.4,77.2 150.5,76.9 150.7,76.5 150.8,76.5 150.9,76.2 151.1,75.9 151.2,76.4 151.3,76.6 151.5,76.1 151.6,75.7 151.8,76.3 151.9,76.9 152.0,76.0 152.2,76.4 152.3,76.0 152.4,76.2 152.6,75.9 152.7,76.5 152.8,76.6 153.0,76.5 153.1,76.1 153.3,75.8 153.4,76.7 153.5,75.6 153.7,75.8 153.8,76.0 153.9,75.8 154.1,76.4 154.2,75.9 154.4,76.2 154.5,76.2 154.6,77.0 154.8,76.3 154.9,76.5 155.0,77.1 155.2,76.4 155.3,77.0 155.4,76.4 155.6,76.9 155.7,76.6 155.9,76.8 156.0,75.7 156.1,76.4 156.3,76.9 156.4,76.3 156.5,76.3 156.7,76.4 156.8,76.7 156.9,76.2 157.1,76.6 157.2,76.8 157.4,76.2 157.5,76.5 157.6,76.3 157.8,76.1 157.9,76.7 158.0,76.2 158.2,76.6 158.3,76.6 158.4,76.6 158.6,76.5 158.7,76.7 158.9,76.6 159.0,77.0 159.1,77.1 159.3,76.8 159.4,76.6 159.5,76.2 159.7,77.5 159.8,76.8 160.0,76.9 160.1,76.8 160.2,76.6 160.4,77.0 160.5,77.1 160.6,76.9 160.8,76.5 160.9,76.5 161.0,77.0 161.2,77.1 161.3,77.1 161.5,76.3 161.6,76.7 161.7,77.0 161.9,76.7 162.0,75.9 162.1,76.3 162.3,76.0 162.4,76.4 162.5,76.3 162.7,76.3 162.8,77.0 163.0,76.8 163.1,76.7 163.2,76.4 163.4,76.9 163.5,77.2 163.6,76.4 163.8,76.5 163.9,77.1 164.1,76.2 164.2,76.5 164.3,76.2 164.5,76.9 164.6,76.2 164.7,76.4 164.9,77.0 165.0,76.7 165.1,76.5 165.3,76.8 165.4,76.5 165.6,76.6 165.7,77.3 165.8,76.4 166.0,77.0 166.1,77.2 166.2,77.1 166.4,77.3 166.5,76.9 166.6,76.8 166.8,76.4 166.9,77.2 167.1,77.1 167.2,77.2 167.3,78.2 167.5,77.2 167.6,77.5 167.7,77.0 167.9,77.7 168.0,77.2 168.2,76.5 168.3,77.3 168.4,77.0 168.6,76.8 168.7,77.0 168.8,76.9 169.0,76.7 169.1,77.1 169.2,76.9 169.4,77.6 169.5,76.1 169.7,77.0 169.8,77.2 169.9,76.8 170.1,77.0 170.2,76.9 170.3,77.3 170.5,76.3 170.6,76.7 170.7,76.8 170.9,76.6 171.0,76.9 171.2,76.4 171.3,76.3 171.4,76.7 171.6,76.0 171.7,76.4 171.8,76.1 172.0,76.0 172.1,76.0 172.2,75.7 172.4,76.1 172.5,76.0 172.7,75.9 172.8,76.6 172.9,76.6 173.1,76.3 173.2,76.7 173.3,76.0 173.5,76.9 173.6,76.2 173.8,76.5 173.9,76.4 174.0,76.3 174.2,76.7 174.3,76.2 174.4,76.7 174.6,76.9 174.7,76.9 174.8,76.5 175.0,76.1 175.1,76.7 175.3,76.5 175.4,76.7 175.5,76.0 175.7,76.5 175.8,76.7 175.9,76.4 176.1,76.4 176.2,76.3 176.3,76.4 176.5,75.9 176.6,76.4 176.8,76.4 176.9,76.8 177.0,76.7 177.2,76.5 177.3,76.4 177.4,76.8 177.6,76.8 177.7,76.6 177.9,76.8 178.0,77.0 178.1,76.2 178.3,76.9 178.4,77.1 178.5,76.6 178.7,76.7 178.8,76.8 178.9,77.1 179.1,76.8 179.2,77.1 179.4,76.8 179.5,76.5 179.6,76.9 179.8,76.8 179.9,77.2 180.0,76.8 180.2,76.5 180.3,76.5 180.4,76.8 180.6,76.4 180.7,76.4 180.9,76.6 181.0,76.7 181.1,76.8 181.3,75.9 181.4,77.0 181.5,76.8 181.7,76.6 181.8,76.6 182.0,76.2 182.1,76.6 182.2,76.5 182.4,76.5 182.5,76.2 182.6,76.2 182.8,76.6 182.9,75.8 183.0,75.8 183.2,76.6 183.3,75.5 183.5,75.6 183.6,76.5 183.7,76.6 183.9,76.0 184.0,76.5 184.1,76.3 184.3,76.0 184.4,76.8 184.5,76.5 184.7,76.0 184.8,76.9 185.0,76.9 185.1,76.5 185.2,76.2 185.4,76.0 185.5,76.2 185.6,76.5 185.8,75.9 185.9,75.8 186.0,76.4 186.2,76.1 186.3,75.9 186.5,75.9 186.6,76.5 186.7,75.5 186.9,76.0 187.0,75.9 187.1,76.4 187.3,76.1 187.4,76.4 187.6,76.7 187.7,76.0 187.8,76.1 188.0,76.9 188.1,76.9 188.2,77.0 188.4,76.5 188.5,76.2 188.6,76.1 188.8,77.0 188.9,77.3 189.1,76.8 189.2,77.4 189.3,76.6 189.5,76.7 189.6,76.7 189.7,76.8 189.9,77.0 190.0,77.1 190.1,77.2 190.3,77.0 190.4,76.8 190.6,77.0 190.7,77.0 190.8,77.3 191.0,77.0 191.1,77.1 191.2,77.0 191.4,77.2 191.5,77.2 191.7,77.3 191.8,76.6 191.9,76.8 192.1,76.5 192.2,76.7 192.3,77.3 192.5,76.3 192.6,76.4 192.7,77.5 192.9,76.8 193.0,76.4 193.2,76.8 193.3,76.9 193.4,76.3 193.6,76.4 193.7,76.8 193.8,76.5 194.0,76.8 194.1,76.6 194.2,76.9 194.4,76.2 194.5,76.8 194.7,76.3 194.8,76.6 194.9,76.3 195.1,76.7 195.2,76.8 195.3,76.8 195.5,76.8 195.6,76.6 195.8,76.7 195.9,76.1 196.0,76.9 196.2,77.1 196.3,76.3 196.4,76.7 196.6,76.8 196.7,76.2 196.8,76.3 197.0,76.4 197.1,76.6 197.3,75.9 197.4,76.1 197.5,76.3 197.7,76.2 197.8,76.9 197.9,76.9 198.1,76.7 198.2,76.6 198.3,76.1 198.5,76.4 198.6,75.8 198.8,76.7 198.9,76.2 199.0,76.4 199.2,76.2 199.3,76.4 199.4,77.0 199.6,76.5 199.7,76.5 199.8,77.2 200.0,76.6 200.1,75.9 200.3,76.8 200.4,76.7 200.5,76.9 200.7,77.0 200.8,76.9 200.9,77.1 201.1,76.7 201.2,77.2 201.4,76.6 201.5,76.7 201.6,76.6 201.8,77.4 201.9,76.7 202.0,76.8 202.2,76.6 202.3,77.1 202.4,76.8 202.6,76.8 202.7,76.9 202.9,76.8 203.0,76.3 203.1,77.2 203.3,77.2 203.4,77.0 203.5,76.7 203.7,77.1 203.8,76.4 203.9,76.9 204.1,76.7 204.2,77.1 204.4,76.7 204.5,76.1 204.6,76.5 204.8,76.8 204.9,77.0 205.0,77.1 205.2,76.1 205.3,76.9 205.5,76.6 205.6,77.0 205.7,76.2 205.9,77.1 206.0,76.7 206.1,76.8 206.3,76.8 206.4,77.0 206.5,76.4 206.7,76.8 206.8,77.1 207.0,76.3 207.1,76.5 207.2,76.6 207.4,76.8 207.5,76.7 207.6,77.4 207.8,76.8 207.9,76.8 208.0,76.7 208.2,76.5 208.3,77.3 208.5,77.0 208.6,76.4 208.7,76.2 208.9,77.0 209.0,76.7 209.1,76.1 209.3,76.4 209.4,76.5 209.6,76.9 209.7,76.2 209.8,76.4 210.0,76.3 210.1,76.5 210.2,76.3 210.4,76.4 210.5,76.7 210.6,76.5 210.8,76.9 210.9,76.8 211.1,77.6 211.2,77.4 211.3,77.3 211.5,77.3 211.6,76.9 211.7,77.2 211.9,76.6 212.0,77.2 212.1,77.2 212.3,76.8 212.4,77.4 212.6,76.5 212.7,76.9 212.8,76.4 213.0,76.4 213.1,76.3 213.2,76.6 213.4,76.2 213.5,76.9 213.6,76.2 213.8,76.3 213.9,76.0 214.1,76.3 214.2,76.3 214.3,76.7 214.5,76.4 214.6,76.4 214.7,76.8 214.9,76.9 215.0,76.8 215.2,76.4 215.3,76.3 215.4,76.1 215.6,76.7 215.7,76.4 215.8,76.1 216.0,76.3 216.1,76.9 216.2,77.6 216.4,76.6 216.5,76.5 216.7,76.5 216.8,77.0 216.9,76.9 217.1,76.4 217.2,76.0 217.3,76.7 217.5,75.9 217.6,76.2 217.7,76.2 217.9,76.3 218.0,76.3 218.2,76.2 218.3,76.9 218.4,76.2 218.6,76.8 218.7,76.4 218.8,76.2 219.0,76.7 219.1,77.2 219.3,76.6 219.4,76.9 219.5,77.2 219.7,77.2 219.8,76.8 219.9,76.5 220.1,76.8 220.2,76.1 220.3,76.6 220.5,77.5 220.6,76.9 220.8,77.4 220.9,77.2 221.0,76.9 221.2,76.8 221.3,77.2 221.4,77.1 221.6,76.7 221.7,76.6 221.8,77.0 222.0,76.9 222.1,77.0 222.3,77.2 222.4,77.3 222.5,77.0 222.7,76.9 222.8,77.0 222.9,77.2 223.1,76.5 223.2,76.9 223.4,77.2 223.5,77.1 223.6,76.5 223.8,76.5 223.9,76.7 224.0,76.2 224.2,77.1 224.3,76.3 224.4,76.9 224.6,76.1 224.7,76.1 224.9,76.7 225.0,76.5 225.1,75.7 225.3,76.5 225.4,76.5 225.5,76.7 225.7,77.0 225.8,76.2 225.9,77.0 226.1,76.6 226.2,76.7 226.4,77.1 226.5,76.6 226.6,76.8 226.8,76.6 226.9,76.4 227.0,77.0 227.2,76.8 227.3,76.9 227.4,76.4 227.6,77.4 227.7,77.1 227.9,77.5 228.0,76.8 228.1,76.8 228.3,77.0 228.4,76.3 228.5,76.5 228.7,76.2 228.8,76.7 229.0,75.6 229.1,76.8 229.2,76.5 229.4,76.5 229.5,76.5 229.6,75.8 229.8,75.6 229.9,76.0 230.0,75.9 230.2,76.6 230.3,76.0 230.5,76.3 230.6,76.4 230.7,76.4 230.9,76.1 231.0,76.6 231.1,76.3 231.3,76.1 231.4,76.4 231.5,75.8 231.7,75.7 231.8,76.7 232.0,76.2 232.1,77.0 232.2,76.7 232.4,76.7 232.5,76.6 232.6,77.1 232.8,76.6 232.9,76.5 233.1,77.2 233.2,76.5 233.3,76.8 233.5,76.2 233.6,77.2 233.7,76.3 233.9,77.2 234.0,76.8 234.1,76.9 234.3,76.6 234.4,76.3 234.6,76.4 234.7,76.1 234.8,76.5 235.0,76.1 235.1,76.0 235.2,76.3 235.4,76.8 235.5,76.4 235.6,76.3 235.8,76.3 235.9,75.5 236.1,76.4 236.2,75.6 236.3,76.4 236.5,75.9 236.6,76.3 236.7,75.6 236.9,76.0 237.0,75.8 237.2,75.8 237.3,75.7 237.4,75.7 237.6,76.0 237.7,75.3 237.8,76.0 238.0,76.6 238.1,75.8 238.2,76.0 238.4,75.9 238.5,75.7 238.7,76.6 238.8,76.7 238.9,76.8 239.1,76.3 239.2,76.1 239.3,76.2 239.5,76.6 239.6,76.9 239.7,76.0 239.9,77.0 240.0,76.8 240.2,76.7 240.3,75.7 240.4,76.2 240.6,76.2 240.7,76.0 240.8,76.4 241.0,75.9 241.1,76.3 241.2,76.0 241.4,76.2 241.5,76.0 241.7,76.7 241.8,76.0 241.9,75.8 242.1,76.0 242.2,75.5 242.3,75.4 242.5,75.5 242.6,75.7 242.8,75.9 242.9,75.1 243.0,76.0 243.2,75.8 243.3,75.7 243.4,75.4 243.6,75.6 243.7,75.9 243.8,76.6 244.0,76.4 244.1,76.2 244.3,75.9 244.4,76.0 244.5,77.3 244.7,76.6 244.8,76.7 244.9,77.1 245.1,76.6 245.2,76.7 245.3,77.2 245.5,76.5 245.6,76.3 245.8,76.0 245.9,76.8 246.0,76.7 246.2,77.3 246.3,76.9 246.4,76.5 246.6,76.9 246.7,76.5 246.9,76.4 247.0,76.2 247.1,76.1 247.3,76.4 247.4,75.9 247.5,76.6 247.7,76.4 247.8,76.3 247.9,76.2 248.1,76.4 248.2,76.2 248.4,76.7 248.5,76.2 248.6,76.6 248.8,76.1 248.9,76.4 249.0,76.6 249.2,75.8 249.3,76.3 249.4,76.5 249.4,75.8 249.4,76.2 249.5,76.1 249.5,76.6 249.6,76.0 249.6,76.7 249.6,76.4 249.7,76.3 249.7,76.8 249.7,76.5 249.8,85.1 249.8,94.4 249.8,103.6 249.9,112.5 249.9,104.8 249.9,97.6 250.0,93.3 250.0,89.2 250.0,86.5 250.1,83.8 250.1,82.5 250.1,80.8 250.2,80.4 250.2,79.9 250.2,79.3 250.3,78.7 250.3,78.4 250.3,77.9 250.4,77.4 250.4,77.6 250.4,77.5 250.5,77.6 250.5,77.4 250.5,77.3 250.6,78.0 250.6,77.6 250.6,77.6 250.7,78.4 250.7,78.1 250.7,77.9 250.8,77.3 250.8,77.4 250.8,77.3 250.9,77.6 250.9,77.0 251.0,77.0 251.0,77.0 251.0,77.7 251.1,76.7 251.1,77.1 251.1,77.1 251.2,77.3 251.2,77.2 251.2,76.8 251.3,77.5 251.3,77.6 251.3,77.6 251.4,77.3 251.4,77.6 251.4,76.9 251.5,78.0 251.5,77.1 251.5,77.4 251.6,77.1 251.6,77.4 251.6,77.2 251.7,77.7 251.7,77.3 251.7,77.9 251.8,77.6 251.8,77.4 251.8,78.1 251.9,78.0 251.9,77.6 251.9,77.4 252.0,78.2 252.0,78.0 252.0,77.3 252.1,77.7 252.1,77.0 252.1,77.8 252.2,77.7 252.2,77.8 252.2,78.4 252.3,77.3 252.3,77.7 252.4,77.6 252.4,77.8 252.4,77.4 252.5,77.1 252.6,78.0 252.7,78.1 252.9,77.1 253.0,77.7 253.1,77.3 253.3,76.9 253.4,77.9 253.5,77.4 253.7,77.3 253.8,77.2 254.0,77.1 254.1,77.2 254.2,76.6 254.4,77.2 254.5,76.3 254.6,76.4 254.8,76.8 254.9,76.4 255.0,77.0 255.2,76.6 255.3,77.0 255.5,76.9 255.6,76.4 255.7,76.7 255.9,77.1 256.0,77.0 256.1,77.3 256.3,76.9 256.4,76.8 256.6,77.3 256.7,76.9" fill="none" stroke="#D95319" stroke-width="1.3" stroke-linejoin="round" stroke-dasharray="5 2.35 1.2 2.05" stroke-dashoffset="6"/><polyline points="61.9,41.4 61.9,41.4 61.9,41.4 62.0,41.4 62.0,41.4 62.0,41.4 62.1,41.4 62.1,41.4 62.1,41.4 62.2,41.4 62.2,41.4 62.2,41.4 62.3,41.4 62.3,41.4 62.3,41.4 62.4,41.4 62.4,41.4 62.4,41.4 62.5,41.4 62.5,41.4 62.5,41.4 62.6,41.4 62.6,41.4 62.6,41.4 62.7,41.4 62.7,41.4 62.7,41.4 62.8,41.4 62.8,41.4 62.8,41.4 62.9,41.4 62.9,41.4 62.9,41.4 63.0,41.4 63.0,41.4 63.0,41.4 63.1,41.4 63.1,41.4 63.1,41.4 63.2,41.4 63.2,41.4 63.3,41.4 63.3,41.4 63.3,41.4 63.4,41.4 63.4,41.4 63.4,41.4 63.5,41.4 63.5,50.6 63.5,59.8 63.6,69.0 63.6,78.2 63.6,87.4 63.7,96.6 63.7,105.8 63.7,115.0 63.8,124.2 63.8,133.4 63.8,130.8 63.9,128.2 63.9,125.8 63.9,123.5 64.0,121.4 64.0,119.3 64.0,117.3 64.1,115.4 64.1,113.6 64.1,111.9 64.2,110.2 64.2,108.7 64.2,107.2 64.3,105.8 64.3,104.4 64.3,103.1 64.4,101.9 64.4,101.0 64.4,99.9 64.5,98.4 64.5,97.3 64.5,96.2 64.6,95.8 64.6,94.9 64.7,93.9 64.7,92.9 64.7,92.3 64.8,91.3 64.8,91.0 64.8,90.7 64.9,89.4 64.9,89.1 64.9,88.2 65.0,88.0 65.0,87.4 65.0,87.2 65.1,86.5 65.1,86.7 65.1,85.5 65.2,85.4 65.2,85.2 65.2,84.2 65.3,84.2 65.3,83.5 65.3,83.3 65.4,83.0 65.4,83.2 65.4,82.6 65.5,81.6 65.5,81.6 65.5,81.3 65.6,81.1 65.6,80.9 65.6,80.3 65.7,80.2 65.7,80.2 65.7,79.9 65.8,80.4 65.8,79.7 65.8,80.3 65.9,80.0 65.9,79.3 65.9,79.5 66.0,78.9 66.0,79.2 66.1,78.4 66.1,79.3 66.1,78.5 66.2,78.6 66.2,77.9 66.2,78.8 66.3,77.7 66.3,78.3 66.3,78.6 66.4,78.6 66.4,77.6 66.4,78.0 66.5,78.1 66.5,77.5 66.5,77.9 66.6,78.0 66.6,78.0 66.6,77.5 66.7,78.0 66.7,77.4 66.7,77.6 66.8,78.0 66.8,77.6 66.8,77.9 66.9,77.5 66.9,77.8 66.9,77.3 67.0,77.6 67.0,77.7 67.0,77.4 67.1,76.9 67.1,76.8 67.1,76.8 67.2,76.8 67.2,76.7 67.2,77.0 67.3,76.9 67.3,76.6 67.5,76.7 67.6,76.3 67.7,76.6 67.9,76.0 68.0,76.4 68.1,76.2 68.3,76.5 68.4,75.4 68.5,76.7 68.7,76.4 68.8,76.2 69.0,74.9 69.1,75.4 69.2,76.1 69.4,76.4 69.5,75.8 69.6,76.1 69.8,75.9 69.9,75.9 70.0,76.5 70.2,76.0 70.3,75.9 70.5,75.8 70.6,76.1 70.7,76.5 70.9,76.2 71.0,76.1 71.1,76.7 71.3,76.2 71.4,76.4 71.6,76.2 71.7,76.6 71.8,76.2 72.0,76.6 72.1,76.6 72.2,76.5 72.4,76.8 72.5,76.3 72.6,76.7 72.8,77.1 72.9,76.9 73.1,77.1 73.2,76.6 73.3,77.3 73.5,76.9 73.6,76.9 73.7,76.7 73.9,76.5 74.0,76.3 74.1,76.8 74.3,77.3 74.4,76.6 74.6,76.7 74.7,76.4 74.8,76.4 75.0,75.8 75.1,76.0 75.2,76.1 75.4,76.3 75.5,75.9 75.6,76.3 75.8,76.2 75.9,76.3 76.1,76.3 76.2,76.3 76.3,76.2 76.5,75.9 76.6,76.1 76.7,75.9 76.9,76.7 77.0,76.6 77.2,75.8 77.3,75.9 77.4,76.0 77.6,76.5 77.7,76.4 77.8,76.7 78.0,76.8 78.1,75.9 78.2,76.4 78.4,76.4 78.5,76.2 78.7,76.9 78.8,77.1 78.9,76.7 79.1,76.6 79.2,76.4 79.3,76.7 79.5,76.9 79.6,76.8 79.7,76.8 79.9,77.1 80.0,76.6 80.2,76.6 80.3,77.4 80.4,76.2 80.6,76.7 80.7,77.0 80.8,77.5 81.0,76.8 81.1,77.1 81.3,76.0 81.4,76.2 81.5,76.9 81.7,76.2 81.8,76.7 81.9,76.7 82.1,77.0 82.2,77.0 82.3,76.5 82.5,76.6 82.6,76.5 82.8,76.6 82.9,76.5 83.0,76.8 83.2,77.0 83.3,76.6 83.4,77.0 83.6,76.3 83.7,77.2 83.8,76.8 84.0,76.9 84.1,76.7 84.3,76.4 84.4,76.7 84.5,76.7 84.7,76.9 84.8,77.1 84.9,76.8 85.1,77.1 85.2,77.1 85.4,76.6 85.5,76.5 85.6,77.0 85.8,76.7 85.9,76.7 86.0,76.3 86.2,76.6 86.3,76.7 86.4,76.3 86.6,76.5 86.7,76.4 86.9,76.4 87.0,76.2 87.1,75.8 87.3,75.7 87.4,76.3 87.5,76.2 87.7,76.6 87.8,75.8 87.9,76.1 88.1,76.4 88.2,76.9 88.4,76.3 88.5,76.2 88.6,76.2 88.8,76.6 88.9,77.3 89.0,77.2 89.2,76.6 89.3,76.8 89.4,76.5 89.6,76.8 89.7,76.6 89.9,76.3 90.0,76.7 90.1,76.7 90.3,76.7 90.4,76.3 90.5,76.6 90.7,76.2 90.8,76.5 91.0,77.1 91.1,75.7 91.2,77.2 91.4,77.5 91.5,77.3 91.6,78.0 91.8,77.6 91.9,77.4 92.0,77.2 92.2,77.4 92.3,77.4 92.5,77.3 92.6,77.7 92.7,77.1 92.9,77.0 93.0,76.6 93.1,77.5 93.3,76.6 93.4,76.8 93.5,76.6 93.7,76.9 93.8,76.9 94.0,76.7 94.1,76.0 94.2,76.9 94.4,76.3 94.5,76.5 94.6,76.4 94.8,76.4 94.9,77.2 95.1,76.1 95.2,76.9 95.3,76.4 95.5,76.8 95.6,77.2 95.7,76.3 95.9,76.6 96.0,77.0 96.1,76.9 96.3,76.6 96.4,77.3 96.6,76.3 96.7,76.6 96.8,76.4 97.0,76.8 97.1,76.9 97.2,76.6 97.4,76.6 97.5,76.8 97.6,76.8 97.8,76.3 97.9,76.3 98.1,76.4 98.2,76.9 98.3,77.0 98.5,76.6 98.6,76.8 98.7,76.6 98.9,76.3 99.0,76.8 99.2,76.5 99.3,77.0 99.4,77.2 99.6,76.9 99.7,76.8 99.8,76.9 100.0,76.8 100.1,77.5 100.2,77.2 100.4,77.0 100.5,76.9 100.7,77.7 100.8,77.1 100.9,77.6 101.1,77.3 101.2,76.7 101.3,77.3 101.5,76.9 101.6,76.4 101.7,76.2 101.9,76.6 102.0,76.8 102.2,77.2 102.3,76.4 102.4,76.6 102.6,76.5 102.7,77.0 102.8,76.4 103.0,76.3 103.1,76.5 103.2,76.6 103.4,76.3 103.5,76.4 103.7,76.8 103.8,77.2 103.9,77.0 104.1,77.1 104.2,76.6 104.3,76.7 104.5,76.5 104.6,77.0 104.8,76.3 104.9,76.6 105.0,77.0 105.2,76.5 105.3,76.7 105.4,76.1 105.6,76.1 105.7,77.2 105.8,76.8 106.0,75.6 106.1,76.8 106.3,76.2 106.4,77.0 106.5,76.2 106.7,76.5 106.8,76.3 106.9,76.7 107.1,75.8 107.2,76.2 107.3,76.1 107.5,76.3 107.6,76.6 107.8,76.2 107.9,75.8 108.0,76.4 108.2,76.5 108.3,76.5 108.4,76.8 108.6,75.9 108.7,76.3 108.9,77.0 109.0,76.5 109.1,76.8 109.3,76.4 109.4,76.5 109.5,77.1 109.7,76.5 109.8,76.2 109.9,77.0 110.1,76.7 110.2,76.8 110.4,76.8 110.5,76.6 110.6,77.1 110.8,75.9 110.9,76.9 111.0,76.3 111.2,76.1 111.3,76.2 111.4,76.1 111.6,76.2 111.7,76.3 111.9,76.4 112.0,75.7 112.1,76.4 112.3,76.8 112.4,76.6 112.5,76.5 112.7,76.8 112.8,76.5 113.0,77.0 113.1,76.6 113.2,76.4 113.4,77.2 113.5,77.0 113.6,77.4 113.8,77.1 113.9,76.9 114.0,77.2 114.2,76.5 114.3,76.9 114.5,76.6 114.6,76.3 114.7,76.4 114.9,76.6 115.0,76.5 115.1,76.1 115.3,77.1 115.4,76.1 115.5,76.6 115.7,75.8 115.8,76.3 116.0,76.3 116.1,75.6 116.2,76.2 116.4,76.1 116.5,76.0 116.6,75.9 116.8,76.4 116.9,76.9 117.0,76.4 117.2,76.5 117.3,76.2 117.5,76.8 117.6,76.8 117.7,76.7 117.9,76.4 118.0,76.7 118.1,76.4 118.3,76.2 118.4,76.9 118.6,76.9 118.7,76.6 118.8,77.5 119.0,76.7 119.1,76.9 119.2,76.8 119.4,77.1 119.5,76.9 119.6,76.4 119.8,77.2 119.9,76.7 120.1,76.6 120.2,76.0 120.3,76.4 120.5,76.7 120.6,76.3 120.7,76.8 120.9,76.7 121.0,76.4 121.1,76.3 121.3,76.0 121.4,76.6 121.6,75.8 121.7,76.3 121.8,76.3 122.0,76.0 122.1,77.0 122.2,76.4 122.4,76.7 122.5,77.2 122.7,76.0 122.8,76.5 122.9,76.2 123.1,77.0 123.2,76.6 123.3,77.0 123.5,76.3 123.6,77.0 123.7,76.8 123.9,76.9 124.0,76.4 124.2,77.0 124.3,77.1 124.4,76.7 124.6,77.1 124.7,77.1 124.8,77.6 125.0,77.8 125.1,77.2 125.2,77.1 125.4,77.1 125.5,76.1 125.7,77.1 125.8,76.8 125.9,76.8 126.1,76.7 126.2,76.2 126.3,76.3 126.5,76.3 126.6,76.1 126.8,76.1 126.9,76.6 127.0,76.7 127.2,76.1 127.3,76.6 127.4,76.7 127.6,76.5 127.7,76.7 127.8,76.5 128.0,77.8 128.1,77.0 128.3,76.7 128.4,76.3 128.5,77.1 128.7,76.5 128.8,76.3 128.9,76.4 129.1,76.1 129.2,76.1 129.3,76.3 129.5,76.6 129.6,76.5 129.8,76.2 129.9,76.0 130.0,75.8 130.2,76.5 130.3,76.3 130.4,76.1 130.6,76.1 130.7,75.8 130.8,76.1 131.0,76.0 131.1,76.1 131.3,76.1 131.4,76.6 131.5,76.1 131.7,76.7 131.8,76.1 131.9,75.9 132.1,76.2 132.2,76.0 132.4,76.1 132.5,75.9 132.6,76.8 132.8,76.3 132.9,75.7 133.0,76.6 133.2,76.8 133.3,76.6 133.4,77.1 133.6,76.6 133.7,77.3 133.9,77.4 134.0,77.4 134.1,76.7 134.3,76.2 134.4,76.3 134.5,76.9 134.7,77.1 134.8,77.1 134.9,76.8 135.1,76.7 135.2,76.4 135.4,76.5 135.5,76.9 135.6,76.9 135.8,77.3 135.9,76.2 136.0,76.9 136.2,76.5 136.3,76.9 136.5,76.3 136.6,76.2 136.7,76.6 136.9,76.8 137.0,77.0 137.1,76.8 137.3,76.4 137.4,75.9 137.5,77.0 137.7,76.9 137.8,76.5 138.0,76.4 138.1,76.8 138.2,76.7 138.4,76.6 138.5,77.0 138.6,76.9 138.8,76.6 138.9,76.8 139.0,77.2 139.2,76.7 139.3,76.8 139.5,77.0 139.6,77.0 139.7,77.5 139.9,77.2 140.0,77.6 140.1,77.4 140.3,77.9 140.4,76.7 140.6,76.7 140.7,76.6 140.8,77.1 141.0,77.0 141.1,77.1 141.2,76.8 141.4,76.7 141.5,76.5 141.6,76.9 141.8,76.8 141.9,77.1 142.1,76.4 142.2,77.0 142.3,77.1 142.5,76.6 142.6,76.5 142.7,76.5 142.9,76.5 143.0,76.3 143.1,76.0 143.3,76.3 143.4,76.5 143.6,76.4 143.7,77.0 143.8,77.8 144.0,76.4 144.1,77.0 144.2,77.1 144.4,77.4 144.5,76.8 144.6,77.1 144.8,77.6 144.9,76.9 145.1,76.5 145.2,76.6 145.3,76.8 145.5,76.2 145.6,77.3 145.7,76.9 145.9,77.2 146.0,77.1 146.2,77.2 146.3,77.4 146.4,76.9 146.6,76.7 146.7,76.1 146.8,77.2 147.0,76.2 147.1,76.4 147.2,76.7 147.4,76.7 147.5,76.3 147.7,76.8 147.8,76.2 147.9,76.5 148.1,76.3 148.2,76.4 148.3,76.2 148.5,76.8 148.6,76.7 148.7,77.1 148.9,76.5 149.0,76.4 149.2,76.4 149.3,76.6 149.4,76.9 149.6,76.9 149.7,76.2 149.8,76.3 150.0,76.6 150.1,77.0 150.3,76.5 150.4,76.6 150.5,76.4 150.7,76.1 150.8,76.5 150.9,76.1 151.1,76.5 151.2,76.0 151.3,76.4 151.5,76.2 151.6,76.3 151.8,76.0 151.9,76.7 152.0,76.1 152.2,76.5 152.3,76.2 152.4,76.0 152.6,75.7 152.7,76.6 152.8,76.0 153.0,76.0 153.1,76.2 153.3,76.0 153.4,76.4 153.5,75.7 153.7,75.8 153.8,76.0 153.9,76.0 154.1,76.6 154.2,76.1 154.4,76.9 154.5,76.1 154.6,76.1 154.8,75.9 154.9,76.5 155.0,76.5 155.2,76.5 155.3,76.6 155.4,77.0 155.6,77.2 155.7,76.0 155.9,76.8 156.0,76.3 156.1,76.8 156.3,77.1 156.4,76.5 156.5,76.7 156.7,75.9 156.8,76.3 156.9,76.3 157.1,76.3 157.2,76.6 157.4,76.3 157.5,77.0 157.6,76.7 157.8,76.9 157.9,76.8 158.0,77.1 158.2,76.4 158.3,76.5 158.4,76.4 158.6,76.4 158.7,77.0 158.9,76.8 159.0,76.1 159.1,76.2 159.3,77.2 159.4,77.2 159.5,76.7 159.7,76.5 159.8,77.2 160.0,77.1 160.1,77.1 160.2,76.6 160.4,76.6 160.5,76.7 160.6,77.3 160.8,76.6 160.9,76.1 161.0,77.1 161.2,77.2 161.3,76.7 161.5,76.7 161.6,76.1 161.7,76.7 161.9,76.1 162.0,76.7 162.1,76.6 162.3,76.3 162.4,76.4 162.5,76.6 162.7,76.5 162.8,76.5 163.0,76.7 163.1,76.4 163.2,76.6 163.4,77.1 163.5,76.9 163.6,76.7 163.8,76.4 163.9,76.9 164.1,76.9 164.2,76.5 164.3,76.4 164.5,76.9 164.6,76.0 164.7,76.3 164.9,76.7 165.0,76.3 165.1,76.5 165.3,76.7 165.4,76.6 165.6,76.6 165.7,76.4 165.8,76.4 166.0,76.9 166.1,76.6 166.2,77.1 166.4,77.2 166.5,77.3 166.6,76.6 166.8,77.0 166.9,77.4 167.1,76.6 167.2,76.7 167.3,77.3 167.5,77.1 167.6,77.7 167.7,76.4 167.9,76.9 168.0,77.0 168.2,77.0 168.3,77.1 168.4,77.7 168.6,76.8 168.7,76.8 168.8,77.1 169.0,77.0 169.1,76.7 169.2,76.8 169.4,76.6 169.5,76.5 169.7,77.3 169.8,76.8 169.9,76.4 170.1,77.0 170.2,76.8 170.3,76.6 170.5,76.7 170.6,77.5 170.7,76.7 170.9,76.8 171.0,77.1 171.2,75.9 171.3,76.5 171.4,76.3 171.6,76.7 171.7,76.5 171.8,76.8 172.0,76.5 172.1,76.7 172.2,76.0 172.4,76.3 172.5,75.9 172.7,76.2 172.8,76.8 172.9,76.3 173.1,76.3 173.2,76.5 173.3,75.6 173.5,76.4 173.6,76.3 173.8,76.7 173.9,76.3 174.0,76.6 174.2,76.2 174.3,76.7 174.4,76.8 174.6,77.1 174.7,77.0 174.8,76.8 175.0,76.4 175.1,77.0 175.3,76.5 175.4,76.3 175.5,76.2 175.7,75.9 175.8,76.6 175.9,76.4 176.1,76.4 176.2,76.6 176.3,76.2 176.5,76.0 176.6,76.8 176.8,76.7 176.9,76.5 177.0,76.9 177.2,76.5 177.3,76.6 177.4,76.6 177.6,77.1 177.7,76.1 177.9,77.2 178.0,76.6 178.1,76.7 178.3,77.5 178.4,77.5 178.5,76.3 178.7,76.8 178.8,77.4 178.9,76.8 179.1,76.9 179.2,76.4 179.4,77.2 179.5,77.3 179.6,76.4 179.8,76.8 179.9,76.7 180.0,76.8 180.2,76.4 180.3,76.8 180.4,76.5 180.6,76.4 180.7,76.2 180.9,76.9 181.0,76.4 181.1,76.1 181.3,76.4 181.4,76.7 181.5,77.0 181.7,76.5 181.8,76.7 182.0,76.3 182.1,76.5 182.2,76.8 182.4,76.2 182.5,76.2 182.6,76.8 182.8,76.4 182.9,77.0 183.0,75.7 183.2,76.1 183.3,75.6 183.5,76.0 183.6,76.5 183.7,76.3 183.9,75.5 184.0,76.0 184.1,76.8 184.3,76.1 184.4,76.4 184.5,76.5 184.7,76.3 184.8,76.2 185.0,76.7 185.1,76.4 185.2,76.3 185.4,75.8 185.5,76.4 185.6,75.9 185.8,75.7 185.9,75.9 186.0,76.5 186.2,76.4 186.3,76.4 186.5,76.1 186.6,76.2 186.7,75.3 186.9,75.6 187.0,75.5 187.1,76.3 187.3,76.5 187.4,76.5 187.6,76.6 187.7,76.4 187.8,76.3 188.0,76.7 188.1,76.8 188.2,76.7 188.4,76.4 188.5,76.3 188.6,76.5 188.8,77.0 188.9,76.8 189.1,77.2 189.2,77.2 189.3,77.1 189.5,77.2 189.6,76.9 189.7,77.1 189.9,77.1 190.0,77.2 190.1,77.2 190.3,77.0 190.4,77.4 190.6,77.3 190.7,77.5 190.8,77.3 191.0,77.0 191.1,77.0 191.2,77.0 191.4,77.2 191.5,77.1 191.7,77.6 191.8,77.0 191.9,76.6 192.1,76.0 192.2,76.6 192.3,77.1 192.5,76.3 192.6,76.3 192.7,77.3 192.9,76.7 193.0,77.0 193.2,76.8 193.3,76.8 193.4,76.6 193.6,76.8 193.7,76.9 193.8,76.7 194.0,76.5 194.1,76.5 194.2,77.0 194.4,76.7 194.5,76.7 194.7,76.5 194.8,76.8 194.9,76.9 195.1,76.6 195.2,76.5 195.3,76.7 195.5,76.5 195.6,76.6 195.8,76.7 195.9,76.5 196.0,76.9 196.2,76.9 196.3,76.6 196.4,76.6 196.6,77.0 196.7,76.8 196.8,76.7 197.0,76.6 197.1,76.5 197.3,76.4 197.4,76.2 197.5,76.1 197.7,76.1 197.8,75.8 197.9,77.0 198.1,76.3 198.2,76.0 198.3,75.8 198.5,76.3 198.6,76.8 198.8,77.1 198.9,76.1 199.0,76.2 199.2,76.0 199.3,76.3 199.4,76.6 199.6,76.4 199.7,77.1 199.8,76.8 200.0,76.5 200.1,76.3 200.3,77.2 200.4,77.1 200.5,77.0 200.7,76.6 200.8,76.4 200.9,76.8 201.1,76.4 201.2,77.1 201.4,76.7 201.5,76.7 201.6,76.4 201.8,77.3 201.9,76.4 202.0,77.0 202.2,76.5 202.3,76.8 202.4,76.5 202.6,76.8 202.7,76.8 202.9,76.8 203.0,76.0 203.1,76.3 203.3,77.0 203.4,76.6 203.5,76.9 203.7,76.3 203.8,76.7 203.9,77.1 204.1,76.7 204.2,76.6 204.4,76.5 204.5,76.5 204.6,77.0 204.8,76.8 204.9,77.3 205.0,77.6 205.2,76.4 205.3,76.5 205.5,75.9 205.6,76.6 205.7,76.6 205.9,76.5 206.0,77.1 206.1,76.9 206.3,77.0 206.4,77.1 206.5,77.0 206.7,76.8 206.8,76.6 207.0,77.1 207.1,77.2 207.2,76.7 207.4,76.3 207.5,76.7 207.6,76.6 207.8,76.9 207.9,77.1 208.0,76.9 208.2,76.2 208.3,76.8 208.5,76.6 208.6,76.6 208.7,76.6 208.9,77.0 209.0,76.9 209.1,76.7 209.3,76.6 209.4,76.1 209.6,76.1 209.7,75.5 209.8,76.4 210.0,76.6 210.1,76.2 210.2,75.7 210.4,77.1 210.5,76.5 210.6,76.5 210.8,76.9 210.9,77.5 211.1,77.6 211.2,76.8 211.3,77.1 211.5,77.0 211.6,77.2 211.7,77.1 211.9,77.0 212.0,77.0 212.1,77.2 212.3,76.7 212.4,76.7 212.6,76.8 212.7,76.6 212.8,76.5 213.0,76.4 213.1,76.3 213.2,76.7 213.4,76.5 213.5,76.2 213.6,76.1 213.8,76.2 213.9,76.8 214.1,76.0 214.2,76.3 214.3,76.4 214.5,76.1 214.6,75.9 214.7,76.2 214.9,76.1 215.0,76.6 215.2,76.2 215.3,76.1 215.4,76.2 215.6,76.4 215.7,76.8 215.8,76.7 216.0,76.2 216.1,76.8 216.2,77.0 216.4,76.6 216.5,76.6 216.7,76.2 216.8,76.8 216.9,76.5 217.1,76.2 217.2,76.2 217.3,76.2 217.5,76.0 217.6,76.6 217.7,76.1 217.9,76.4 218.0,76.3 218.2,76.3 218.3,76.7 218.4,77.0 218.6,76.8 218.7,76.5 218.8,76.9 219.0,77.1 219.1,76.9 219.3,77.0 219.4,77.0 219.5,76.7 219.7,77.1 219.8,76.5 219.9,76.7 220.1,76.8 220.2,76.8 220.3,76.8 220.5,77.1 220.6,76.8 220.8,77.2 220.9,76.7 221.0,77.0 221.2,77.1 221.3,77.1 221.4,76.9 221.6,76.6 221.7,76.7 221.8,76.6 222.0,76.7 222.1,77.0 222.3,76.7 222.4,76.9 222.5,77.3 222.7,77.0 222.8,76.5 222.9,78.1 223.1,76.9 223.2,76.7 223.4,76.9 223.5,77.3 223.6,76.8 223.8,76.7 223.9,77.0 224.0,76.4 224.2,76.6 224.3,75.8 224.4,76.6 224.6,76.2 224.7,76.5 224.9,76.0 225.0,76.4 225.1,76.2 225.3,76.6 225.4,76.1 225.5,75.8 225.7,76.5 225.8,76.8 225.9,76.7 226.1,76.2 226.2,76.8 226.4,75.8 226.5,76.4 226.6,76.8 226.8,76.5 226.9,76.9 227.0,77.2 227.2,77.2 227.3,77.2 227.4,76.8 227.6,77.1 227.7,76.4 227.9,76.9 228.0,76.8 228.1,77.0 228.3,77.2 228.4,76.9 228.5,76.7 228.7,77.3 228.8,77.0 229.0,75.7 229.1,76.4 229.2,76.7 229.4,76.4 229.5,76.7 229.6,76.2 229.8,76.0 229.9,76.2 230.0,76.1 230.2,76.4 230.3,76.5 230.5,76.2 230.6,75.9 230.7,76.6 230.9,76.5 231.0,76.1 231.1,76.6 231.3,76.6 231.4,76.2 231.5,76.3 231.7,76.4 231.8,76.6 232.0,76.2 232.1,76.7 232.2,76.3 232.4,76.5 232.5,76.4 232.6,76.6 232.8,76.9 232.9,76.4 233.1,77.4 233.2,76.1 233.3,77.7 233.5,76.5 233.6,76.8 233.7,76.6 233.9,76.6 234.0,76.1 234.1,76.7 234.3,76.7 234.4,76.3 234.6,76.3 234.7,76.7 234.8,76.4 235.0,76.0 235.1,76.5 235.2,76.2 235.4,76.2 235.5,75.7 235.6,76.4 235.8,76.2 235.9,75.4 236.1,76.4 236.2,76.0 236.3,76.1 236.5,75.7 236.6,76.0 236.7,76.1 236.9,75.5 237.0,76.3 237.2,75.6 237.3,75.5 237.4,75.7 237.6,75.9 237.7,75.9 237.8,75.8 238.0,76.1 238.1,76.4 238.2,76.4 238.4,76.3 238.5,76.2 238.7,77.1 238.8,76.6 238.9,76.2 239.1,76.0 239.2,75.9 239.3,76.8 239.5,76.4 239.6,76.8 239.7,76.3 239.9,77.1 240.0,76.8 240.2,76.6 240.3,75.4 240.4,76.7 240.6,76.3 240.7,76.7 240.8,77.0 241.0,76.4 241.1,76.2 241.2,76.6 241.4,77.0 241.5,76.3 241.7,75.9 241.8,75.6 241.9,75.8 242.1,75.8 242.2,75.7 242.3,76.0 242.5,75.7 242.6,75.6 242.8,75.7 242.9,75.5 243.0,75.4 243.2,76.4 243.3,77.0 243.4,76.2 243.6,76.0 243.7,76.3 243.8,76.3 244.0,76.6 244.1,76.4 244.3,76.0 244.4,76.1 244.5,77.0 244.7,76.6 244.8,76.5 244.9,76.9 245.1,75.6 245.2,76.9 245.3,77.6 245.5,76.3 245.6,76.3 245.8,76.2 245.9,76.6 246.0,76.1 246.2,77.2 246.3,76.9 246.4,76.7 246.6,76.3 246.7,76.3 246.9,76.3 247.0,76.4 247.1,75.8 247.3,76.8 247.4,76.1 247.5,76.9 247.7,76.4 247.8,76.4 247.9,76.5 248.1,76.2 248.2,76.4 248.4,76.6 248.5,76.3 248.6,75.7 248.8,76.2 248.9,76.7 249.0,76.6 249.2,76.1 249.3,76.1 249.4,76.4 249.4,75.6 249.4,76.7 249.5,76.1 249.5,76.5 249.6,76.1 249.6,76.6 249.6,76.2 249.7,76.5 249.7,76.4 249.7,76.9 249.8,85.5 249.8,93.9 249.8,102.2 249.9,112.0 249.9,103.9 249.9,96.6 250.0,92.0 250.0,88.6 250.0,85.9 250.1,84.0 250.1,82.9 250.1,81.5 250.2,80.8 250.2,80.5 250.2,79.3 250.3,78.7 250.3,78.0 250.3,78.3 250.4,77.8 250.4,77.7 250.4,78.2 250.5,77.8 250.5,77.9 250.5,76.8 250.6,77.5 250.6,77.9 250.6,77.3 250.7,77.7 250.7,78.6 250.7,78.2 250.8,77.7 250.8,77.2 250.8,77.6 250.9,77.4 250.9,77.4 251.0,76.8 251.0,76.8 251.0,77.6 251.1,76.7 251.1,77.6 251.1,77.8 251.2,77.7 251.2,77.5 251.2,77.3 251.3,76.9 251.3,77.5 251.3,77.4 251.4,77.7 251.4,77.5 251.4,77.0 251.5,77.8 251.5,77.4 251.5,78.2 251.6,76.8 251.6,77.3 251.6,77.3 251.7,77.7 251.7,77.5 251.7,77.1 251.8,77.7 251.8,77.5 251.8,77.7 251.9,77.9 251.9,77.5 251.9,77.8 252.0,77.4 252.0,78.1 252.0,77.5 252.1,77.2 252.1,77.8 252.1,77.8 252.2,77.6 252.2,77.4 252.2,77.9 252.3,76.9 252.3,77.6 252.4,76.8 252.4,77.5 252.4,77.8 252.5,76.6 252.6,77.7 252.7,77.3 252.9,77.5 253.0,77.6 253.1,77.2 253.3,77.7 253.4,77.7 253.5,77.2 253.7,78.0 253.8,77.3 254.0,77.0 254.1,77.6 254.2,76.7 254.4,77.0 254.5,76.4 254.6,77.2 254.8,76.8 254.9,76.7 255.0,77.4 255.2,76.9 255.3,77.1 255.5,76.8 255.6,76.8 255.7,76.7 255.9,76.6 256.0,77.0 256.1,77.0 256.3,76.8 256.4,77.1 256.6,77.1 256.7,76.8" fill="none" stroke="#EDB120" stroke-width="0.8" stroke-linejoin="round" stroke-dasharray="7.2 3.7" stroke-dashoffset="0"/></g><text x="62.15" y="172.10" text-anchor="middle" font-size="16.3" textLength="7.73" lengthAdjust="spacingAndGlyphs">0</text><text x="130.47" y="172.10" text-anchor="middle" font-size="16.3" textLength="15.56" lengthAdjust="spacingAndGlyphs">20</text><text x="198.78" y="172.10" text-anchor="middle" font-size="16.3" textLength="15.56" lengthAdjust="spacingAndGlyphs">40</text><text x="267.10" y="172.10" text-anchor="middle" font-size="16.3" textLength="15.56" lengthAdjust="spacingAndGlyphs">60</text><text x="56.25" y="156.60" text-anchor="end" font-size="16.3" textLength="7.73" lengthAdjust="spacingAndGlyphs">0</text><text x="56.25" y="92.07" text-anchor="end" font-size="16.3" textLength="23.39" lengthAdjust="spacingAndGlyphs">200</text><text x="56.25" y="27.55" text-anchor="end" font-size="16.3" textLength="23.39" lengthAdjust="spacingAndGlyphs">400</text><text x="164.43" y="15.35" text-anchor="middle" font-size="17.3" textLength="22.6" lengthAdjust="spacingAndGlyphs">M1</text><text transform="translate(23.6 88.55) rotate(-90)" text-anchor="middle" font-size="17" textLength="128.9" lengthAdjust="spacingAndGlyphs" word-spacing="3.0"><tspan letter-spacing="-0.8">Speed</tspan> (rotation/s)</text></g>
<g><line x1="331.20" y1="77.0" x2="331.20" y2="152.75" stroke="#e4e4e4" stroke-width="0.8"/><line x1="399.43" y1="77.0" x2="399.43" y2="152.75" stroke="#e4e4e4" stroke-width="0.8"/><line x1="467.67" y1="77.0" x2="467.67" y2="152.75" stroke="#e4e4e4" stroke-width="0.8"/><line x1="535.90" y1="77.0" x2="535.90" y2="152.75" stroke="#e4e4e4" stroke-width="0.8"/><line x1="331.2" y1="152.75" x2="535.9" y2="152.75" stroke="#e4e4e4" stroke-width="0.8"/><line x1="331.2" y1="114.88" x2="535.9" y2="114.88" stroke="#e4e4e4" stroke-width="0.8"/><line x1="331.2" y1="77.00" x2="535.9" y2="77.00" stroke="#e4e4e4" stroke-width="0.8"/><path d="M331.2 77.0V152.75H535.9" fill="none" stroke="#707070" stroke-width="1"/><path d="M331.20 152.75v-2M399.43 152.75v-2M467.67 152.75v-2M535.90 152.75v-2M331.2 152.75h2M331.2 114.88h2M331.2 77.00h2" fill="none" stroke="#707070" stroke-width="1"/><g filter="url(#soft)"><polyline points="331.2,142.3 331.2,142.3 331.3,142.3 331.3,142.3 331.3,142.3 331.4,142.3 331.4,142.3 331.4,142.3 331.5,142.3 331.5,142.3 331.5,142.3 331.6,142.3 331.6,142.3 331.6,142.3 331.7,142.3 331.7,142.3 331.7,142.3 331.8,142.3 331.8,142.3 331.8,142.3 331.9,142.3 331.9,142.3 332.0,142.3 332.0,142.3 332.0,142.3 332.1,142.3 332.1,142.3 332.1,142.3 332.2,142.3 332.2,142.3 332.2,142.3 332.3,142.3 332.3,142.3 332.3,142.3 332.4,142.3 332.4,142.3 332.4,142.3 332.5,142.3 332.5,142.3 332.5,142.3 332.6,142.3 332.6,142.3 332.6,142.3 332.7,142.3 332.7,142.3 332.7,142.3 332.8,142.3 332.8,142.3 332.8,142.3 332.9,142.3 332.9,142.3 332.9,142.3 333.0,142.3 333.0,142.3 333.0,142.3 333.1,142.3 333.1,142.3 333.1,142.3 333.2,136.0 333.2,129.6 333.2,123.2 333.3,116.8 333.3,110.4 333.3,104.0 333.4,97.7 333.4,91.3 333.5,84.9 333.5,78.5 333.5,80.5 333.6,82.5 333.6,84.3 333.6,86.1 333.7,87.7 333.7,89.3 333.7,90.9 333.8,92.6 333.8,93.8 333.8,95.0 333.9,96.3 333.9,97.5 333.9,98.7 334.0,99.4 334.0,101.5 334.0,102.1 334.1,103.0 334.1,104.0 334.1,104.8 334.2,105.4 334.2,106.1 334.2,106.9 334.3,107.9 334.3,108.0 334.3,108.9 334.4,109.2 334.4,109.9 334.4,110.3 334.5,111.2 334.5,111.6 334.5,112.3 334.6,112.6 334.6,113.6 334.6,113.8 334.7,113.7 334.7,114.8 334.7,115.3 334.8,115.6 334.8,115.7 334.9,116.3 334.9,116.6 334.9,116.8 335.0,117.0 335.0,117.6 335.0,117.1 335.1,118.0 335.1,117.5 335.1,117.9 335.2,118.4 335.2,118.5 335.2,118.6 335.3,118.9 335.3,118.6 335.3,119.1 335.4,119.2 335.4,119.2 335.4,119.0 335.5,119.2 335.5,119.2 335.5,119.5 335.6,119.5 335.6,120.0 335.6,119.5 335.7,119.6 335.7,119.6 335.7,119.7 335.8,119.6 335.8,120.1 335.8,119.9 335.9,120.2 335.9,120.2 335.9,120.2 336.0,120.0 336.0,121.0 336.0,120.4 336.1,120.7 336.1,120.4 336.1,121.0 336.2,121.0 336.2,121.5 336.2,121.2 336.3,121.1 336.3,121.3 336.4,121.2 336.4,121.4 336.4,121.1 336.5,121.4 336.5,121.5 336.5,121.5 336.6,121.3 336.6,121.7 336.6,121.6 336.7,121.9 336.8,121.8 336.9,121.6 337.1,121.8 337.2,121.9 337.3,122.2 337.5,122.3 337.6,122.3 337.8,122.1 337.9,122.4 338.0,121.8 338.2,122.2 338.3,122.1 338.4,122.1 338.6,121.7 338.7,122.0 338.8,122.0 339.0,122.1 339.1,121.9 339.3,122.2 339.4,121.8 339.5,122.0 339.7,121.8 339.8,121.8 339.9,122.3 340.1,122.1 340.2,122.1 340.3,122.0 340.5,122.4 340.6,122.2 340.8,122.4 340.9,122.2 341.0,121.6 341.2,122.1 341.3,122.1 341.4,121.8 341.6,122.2 341.7,122.4 341.8,122.1 342.0,122.3 342.1,122.3 342.3,122.3 342.4,122.1 342.5,122.0 342.7,122.2 342.8,122.0 342.9,121.8 343.1,122.1 343.2,121.9 343.3,122.3 343.5,122.2 343.6,122.3 343.8,122.2 343.9,122.0 344.0,122.0 344.2,121.5 344.3,122.1 344.4,122.4 344.6,121.9 344.7,121.9 344.8,122.1 345.0,121.7 345.1,121.7 345.3,121.5 345.4,122.1 345.5,122.1 345.7,121.5 345.8,121.9 345.9,122.2 346.1,121.9 346.2,122.2 346.3,121.7 346.5,122.0 346.6,122.0 346.8,121.7 346.9,121.7 347.0,122.3 347.2,122.0 347.3,122.2 347.4,122.3 347.6,122.5 347.7,122.3 347.8,122.4 348.0,122.2 348.1,122.3 348.3,121.8 348.4,122.1 348.5,122.0 348.7,122.5 348.8,122.3 348.9,122.2 349.1,122.1 349.2,122.3 349.4,122.3 349.5,122.2 349.6,121.9 349.8,122.1 349.9,122.1 350.0,122.1 350.2,122.0 350.3,122.1 350.4,122.1 350.6,122.1 350.7,121.6 350.9,121.8 351.0,121.6 351.1,122.1 351.3,122.1 351.4,122.1 351.5,122.1 351.7,122.3 351.8,122.1 351.9,122.2 352.1,122.0 352.2,122.4 352.4,122.6 352.5,122.0 352.6,122.1 352.8,121.7 352.9,121.9 353.0,122.2 353.2,122.1 353.3,121.9 353.4,122.4 353.6,122.4 353.7,122.5 353.9,122.4 354.0,122.5 354.1,122.1 354.3,122.9 354.4,122.4 354.5,123.1 354.7,121.9 354.8,122.6 354.9,122.2 355.1,122.4 355.2,121.8 355.4,122.2 355.5,122.0 355.6,121.8 355.8,122.1 355.9,122.3 356.0,121.8 356.2,121.7 356.3,121.6 356.4,122.0 356.6,121.6 356.7,122.2 356.9,121.9 357.0,122.2 357.1,121.9 357.3,121.8 357.4,121.9 357.5,121.5 357.7,121.6 357.8,121.8 357.9,121.7 358.1,122.1 358.2,121.9 358.4,122.2 358.5,122.3 358.6,122.0 358.8,122.2 358.9,121.8 359.0,122.3 359.2,121.9 359.3,121.9 359.4,121.9 359.6,122.2 359.7,122.0 359.9,121.6 360.0,121.7 360.1,121.8 360.3,122.0 360.4,121.8 360.5,122.3 360.7,122.1 360.8,122.4 360.9,121.8 361.1,122.3 361.2,122.1 361.4,122.1 361.5,121.8 361.6,122.1 361.8,122.5 361.9,121.7 362.0,122.2 362.2,122.6 362.3,122.0 362.5,121.8 362.6,122.1 362.7,121.9 362.9,122.1 363.0,121.8 363.1,121.6 363.3,121.8 363.4,122.4 363.5,121.8 363.7,122.1 363.8,122.1 364.0,122.1 364.1,122.2 364.2,122.0 364.4,122.3 364.5,121.7 364.6,121.8 364.8,122.0 364.9,122.0 365.0,122.2 365.2,122.1 365.3,122.4 365.5,122.3 365.6,121.9 365.7,122.5 365.9,122.3 366.0,122.2 366.1,122.1 366.3,121.9 366.4,122.2 366.5,122.1 366.7,122.3 366.8,122.3 367.0,122.3 367.1,121.9 367.2,122.1 367.4,121.9 367.5,122.2 367.6,121.9 367.8,121.8 367.9,121.8 368.0,122.3 368.2,121.8 368.3,122.0 368.5,122.2 368.6,122.4 368.7,121.8 368.9,122.2 369.0,121.8 369.1,122.4 369.3,122.3 369.4,122.0 369.5,122.3 369.7,122.0 369.8,122.0 370.0,122.0 370.1,121.9 370.2,122.4 370.4,122.3 370.5,122.0 370.6,122.0 370.8,121.9 370.9,122.2 371.0,122.2 371.2,121.7 371.3,122.2 371.5,121.9 371.6,122.2 371.7,121.9 371.9,122.4 372.0,122.2 372.1,122.0 372.3,122.2 372.4,122.0 372.5,122.3 372.7,122.0 372.8,122.1 373.0,122.0 373.1,122.2 373.2,121.9 373.4,121.7 373.5,121.9 373.6,122.1 373.8,121.5 373.9,121.6 374.1,122.0 374.2,122.2 374.3,122.1 374.5,122.3 374.6,122.1 374.7,122.1 374.9,121.7 375.0,121.9 375.1,122.1 375.3,122.1 375.4,122.3 375.6,122.3 375.7,122.2 375.8,122.0 376.0,122.1 376.1,122.1 376.2,122.1 376.4,122.4 376.5,122.1 376.6,122.1 376.8,122.0 376.9,122.2 377.1,122.1 377.2,121.9 377.3,122.4 377.5,122.3 377.6,122.2 377.7,122.2 377.9,122.4 378.0,122.1 378.1,122.1 378.3,122.0 378.4,121.9 378.6,122.1 378.7,122.2 378.8,122.0 379.0,122.0 379.1,122.2 379.2,122.1 379.4,121.5 379.5,121.7 379.6,122.0 379.8,122.2 379.9,121.7 380.1,121.7 380.2,121.9 380.3,121.9 380.5,122.0 380.6,122.0 380.7,122.0 380.9,121.9 381.0,122.2 381.1,122.4 381.3,122.4 381.4,122.4 381.6,122.1 381.7,122.2 381.8,122.1 382.0,122.4 382.1,122.5 382.2,122.2 382.4,122.3 382.5,122.6 382.6,121.9 382.8,122.1 382.9,122.0 383.1,122.1 383.2,121.9 383.3,122.6 383.5,121.9 383.6,122.1 383.7,122.2 383.9,122.3 384.0,122.1 384.1,121.6 384.3,122.1 384.4,121.8 384.6,121.9 384.7,121.8 384.8,122.0 385.0,121.6 385.1,122.1 385.2,122.0 385.4,121.9 385.5,121.8 385.7,121.7 385.8,121.7 385.9,122.2 386.1,122.2 386.2,121.9 386.3,122.2 386.5,122.1 386.6,122.4 386.7,121.7 386.9,122.3 387.0,122.2 387.2,122.2 387.3,122.4 387.4,121.9 387.6,122.4 387.7,122.0 387.8,121.9 388.0,122.4 388.1,121.9 388.2,122.0 388.4,122.3 388.5,121.9 388.7,122.0 388.8,122.6 388.9,122.2 389.1,122.3 389.2,122.1 389.3,122.2 389.5,121.8 389.6,121.4 389.7,121.9 389.9,122.3 390.0,121.7 390.2,121.8 390.3,122.0 390.4,121.3 390.6,121.4 390.7,122.0 390.8,121.5 391.0,121.5 391.1,121.3 391.2,121.5 391.4,121.5 391.5,121.9 391.7,121.5 391.8,121.9 391.9,121.5 392.1,122.1 392.2,121.6 392.3,121.8 392.5,122.0 392.6,121.8 392.7,122.5 392.9,121.7 393.0,122.0 393.2,122.6 393.3,122.5 393.4,122.1 393.6,121.9 393.7,122.1 393.8,122.0 394.0,122.0 394.1,122.6 394.2,122.8 394.4,122.3 394.5,122.2 394.7,122.4 394.8,121.9 394.9,121.9 395.1,122.2 395.2,122.1 395.3,121.9 395.5,121.7 395.6,122.1 395.7,121.7 395.9,121.8 396.0,122.2 396.2,122.1 396.3,122.3 396.4,122.2 396.6,122.5 396.7,122.1 396.8,122.2 397.0,122.3 397.1,122.1 397.2,122.0 397.4,122.2 397.5,122.1 397.7,122.6 397.8,122.4 397.9,122.2 398.1,122.1 398.2,122.1 398.3,122.4 398.5,122.0 398.6,122.2 398.8,121.9 398.9,121.9 399.0,121.9 399.2,122.1 399.3,122.4 399.4,122.2 399.6,122.1 399.7,122.1 399.8,122.2 400.0,122.0 400.1,122.5 400.3,121.9 400.4,122.3 400.5,122.2 400.7,122.5 400.8,121.8 400.9,122.6 401.1,122.5 401.2,122.5 401.3,122.3 401.5,122.1 401.6,121.9 401.8,122.2 401.9,122.0 402.0,122.0 402.2,121.9 402.3,122.1 402.4,122.2 402.6,122.1 402.7,122.1 402.8,122.2 403.0,121.8 403.1,122.2 403.3,122.1 403.4,122.1 403.5,121.8 403.7,121.7 403.8,122.2 403.9,121.8 404.1,121.7 404.2,121.9 404.3,121.6 404.5,121.8 404.6,121.9 404.8,121.8 404.9,121.9 405.0,122.0 405.2,121.9 405.3,122.0 405.4,122.1 405.6,122.0 405.7,121.9 405.8,122.0 406.0,122.0 406.1,122.4 406.3,121.7 406.4,121.8 406.5,122.3 406.7,122.2 406.8,121.7 406.9,122.1 407.1,122.0 407.2,121.9 407.3,122.1 407.5,122.0 407.6,122.1 407.8,122.1 407.9,122.2 408.0,122.2 408.2,122.2 408.3,122.0 408.4,122.1 408.6,122.2 408.7,122.1 408.8,122.4 409.0,121.9 409.1,122.4 409.3,122.3 409.4,122.5 409.5,122.0 409.7,122.1 409.8,122.1 409.9,122.2 410.1,122.7 410.2,122.6 410.4,121.7 410.5,121.8 410.6,121.7 410.8,122.5 410.9,122.1 411.0,122.1 411.2,122.2 411.3,122.4 411.4,122.2 411.6,122.4 411.7,122.0 411.9,122.1 412.0,122.1 412.1,122.2 412.3,122.2 412.4,122.3 412.5,122.2 412.7,121.9 412.8,122.2 412.9,122.2 413.1,122.1 413.2,122.0 413.4,122.2 413.5,121.8 413.6,122.1 413.8,121.9 413.9,122.1 414.0,122.3 414.2,122.2 414.3,122.0 414.4,122.3 414.6,122.5 414.7,122.0 414.9,122.5 415.0,122.6 415.1,122.3 415.3,122.2 415.4,122.2 415.5,122.3 415.7,121.9 415.8,122.1 415.9,121.7 416.1,122.2 416.2,121.8 416.4,122.3 416.5,121.9 416.6,121.8 416.8,121.6 416.9,121.8 417.0,122.0 417.2,121.9 417.3,122.0 417.4,122.2 417.6,122.4 417.7,122.0 417.9,121.7 418.0,122.1 418.1,122.4 418.3,121.9 418.4,122.1 418.5,122.1 418.7,122.4 418.8,122.0 418.9,122.2 419.1,122.3 419.2,122.1 419.4,122.0 419.5,121.7 419.6,122.0 419.8,121.7 419.9,122.0 420.0,122.0 420.2,122.4 420.3,122.1 420.4,122.3 420.6,121.7 420.7,121.8 420.9,122.3 421.0,121.6 421.1,122.4 421.3,122.0 421.4,122.2 421.5,122.4 421.7,121.7 421.8,122.3 422.0,122.5 422.1,122.0 422.2,122.1 422.4,121.9 422.5,122.3 422.6,122.2 422.8,122.7 422.9,122.3 423.0,122.4 423.2,122.3 423.3,122.4 423.5,122.6 423.6,122.3 423.7,122.0 423.9,122.0 424.0,121.9 424.1,121.7 424.3,122.0 424.4,122.1 424.5,121.9 424.7,122.3 424.8,122.1 425.0,122.1 425.1,122.5 425.2,122.4 425.4,122.2 425.5,122.3 425.6,122.3 425.8,122.3 425.9,122.0 426.0,121.7 426.2,121.8 426.3,122.0 426.5,122.0 426.6,122.1 426.7,121.9 426.9,122.4 427.0,122.5 427.1,121.8 427.3,122.1 427.4,121.7 427.5,121.5 427.7,121.6 427.8,122.0 428.0,121.7 428.1,121.8 428.2,121.1 428.4,121.9 428.5,121.7 428.6,121.8 428.8,121.8 428.9,121.6 429.0,122.2 429.2,121.7 429.3,121.9 429.5,121.5 429.6,121.8 429.7,121.7 429.9,122.1 430.0,121.9 430.1,121.7 430.3,122.0 430.4,121.2 430.5,121.6 430.7,122.1 430.8,121.9 431.0,121.7 431.1,121.6 431.2,121.9 431.4,121.9 431.5,122.0 431.6,121.7 431.8,122.2 431.9,122.1 432.0,121.9 432.2,122.1 432.3,122.0 432.5,122.3 432.6,122.4 432.7,121.9 432.9,122.3 433.0,122.2 433.1,122.2 433.3,122.3 433.4,122.0 433.6,122.3 433.7,122.0 433.8,121.9 434.0,122.3 434.1,121.6 434.2,121.8 434.4,121.8 434.5,122.1 434.6,121.7 434.8,122.1 434.9,121.4 435.1,122.2 435.2,121.7 435.3,122.0 435.5,121.7 435.6,121.7 435.7,122.2 435.9,121.7 436.0,122.3 436.1,122.1 436.3,122.5 436.4,122.3 436.6,122.1 436.7,122.1 436.8,122.5 437.0,122.3 437.1,122.1 437.2,121.9 437.4,122.6 437.5,122.2 437.6,121.5 437.8,122.1 437.9,122.0 438.1,121.9 438.2,122.0 438.3,122.0 438.5,121.8 438.6,121.8 438.7,122.2 438.9,122.0 439.0,121.2 439.1,121.9 439.3,122.3 439.4,121.7 439.6,122.1 439.7,122.6 439.8,122.4 440.0,122.2 440.1,122.4 440.2,121.9 440.4,122.4 440.5,122.2 440.6,122.2 440.8,122.5 440.9,122.3 441.1,122.1 441.2,122.2 441.3,122.2 441.5,122.3 441.6,121.8 441.7,122.0 441.9,121.9 442.0,121.9 442.1,121.4 442.3,121.7 442.4,122.0 442.6,122.1 442.7,122.0 442.8,122.3 443.0,122.5 443.1,122.3 443.2,122.6 443.4,122.0 443.5,122.1 443.6,122.7 443.8,122.1 443.9,122.3 444.1,121.9 444.2,122.5 444.3,122.6 444.5,122.4 444.6,122.0 444.7,122.2 444.9,122.6 445.0,122.7 445.1,122.6 445.3,122.5 445.4,122.4 445.6,122.0 445.7,122.7 445.8,122.7 446.0,122.4 446.1,122.2 446.2,122.5 446.4,122.3 446.5,122.0 446.7,121.9 446.8,122.1 446.9,122.2 447.1,122.1 447.2,122.1 447.3,122.2 447.5,122.1 447.6,122.4 447.7,122.0 447.9,122.3 448.0,122.5 448.2,122.1 448.3,122.2 448.4,122.4 448.6,122.3 448.7,122.6 448.8,122.4 449.0,122.1 449.1,122.0 449.2,122.5 449.4,122.4 449.5,122.3 449.7,122.2 449.8,122.5 449.9,122.1 450.1,122.2 450.2,122.0 450.3,122.0 450.5,122.2 450.6,121.5 450.7,122.2 450.9,122.1 451.0,121.9 451.2,122.1 451.3,121.6 451.4,121.9 451.6,121.7 451.7,121.5 451.8,122.0 452.0,121.5 452.1,122.0 452.2,122.2 452.4,121.4 452.5,122.4 452.7,122.0 452.8,122.0 452.9,122.5 453.1,122.5 453.2,122.2 453.3,122.2 453.5,122.3 453.6,122.3 453.7,122.3 453.9,123.1 454.0,122.3 454.2,122.4 454.3,122.4 454.4,122.4 454.6,122.2 454.7,122.1 454.8,122.1 455.0,121.7 455.1,122.1 455.2,122.1 455.4,122.0 455.5,122.1 455.7,122.0 455.8,122.0 455.9,122.3 456.1,122.1 456.2,122.0 456.3,122.1 456.5,122.0 456.6,121.9 456.7,122.5 456.9,122.9 457.0,122.5 457.2,121.8 457.3,122.1 457.4,122.0 457.6,122.0 457.7,122.2 457.8,122.3 458.0,122.0 458.1,121.8 458.3,121.9 458.4,122.2 458.5,122.3 458.7,122.1 458.8,122.0 458.9,122.1 459.1,121.8 459.2,122.1 459.3,121.9 459.5,122.2 459.6,122.2 459.8,121.9 459.9,122.0 460.0,122.1 460.2,121.8 460.3,122.1 460.4,122.1 460.6,121.6 460.7,122.1 460.8,122.0 461.0,121.8 461.1,121.8 461.3,122.2 461.4,122.1 461.5,121.9 461.7,122.4 461.8,122.4 461.9,122.1 462.1,121.9 462.2,122.2 462.3,122.0 462.5,122.4 462.6,122.3 462.8,122.3 462.9,122.1 463.0,122.5 463.2,121.9 463.3,122.4 463.4,122.2 463.6,122.5 463.7,122.1 463.8,122.5 464.0,122.4 464.1,122.3 464.3,122.1 464.4,122.0 464.5,122.0 464.7,121.8 464.8,122.2 464.9,121.9 465.1,121.9 465.2,122.0 465.3,121.6 465.5,122.3 465.6,121.8 465.8,121.8 465.9,122.1 466.0,122.3 466.2,121.9 466.3,122.2 466.4,122.3 466.6,121.8 466.7,122.1 466.8,121.9 467.0,121.7 467.1,122.2 467.3,121.8 467.4,121.8 467.5,122.2 467.7,121.7 467.8,122.0 467.9,122.2 468.1,121.8 468.2,122.1 468.3,122.1 468.5,122.2 468.6,121.7 468.8,122.2 468.9,122.6 469.0,121.8 469.2,122.1 469.3,122.3 469.4,121.8 469.6,121.8 469.7,121.9 469.9,121.9 470.0,122.2 470.1,122.1 470.3,122.4 470.4,122.0 470.5,122.1 470.7,121.8 470.8,122.5 470.9,121.7 471.1,122.4 471.2,122.1 471.4,121.9 471.5,122.3 471.6,122.0 471.8,122.1 471.9,122.2 472.0,122.2 472.2,122.4 472.3,121.9 472.4,122.2 472.6,121.8 472.7,121.9 472.9,121.8 473.0,122.5 473.1,122.2 473.3,122.4 473.4,122.2 473.5,122.4 473.7,122.6 473.8,122.3 473.9,122.6 474.1,122.5 474.2,122.4 474.4,122.3 474.5,122.0 474.6,122.0 474.8,122.2 474.9,122.3 475.0,121.8 475.2,122.3 475.3,122.2 475.4,122.3 475.6,122.1 475.7,122.4 475.9,122.1 476.0,122.0 476.1,122.5 476.3,122.3 476.4,122.3 476.5,122.1 476.7,121.9 476.8,121.9 476.9,122.1 477.1,122.3 477.2,121.7 477.4,122.2 477.5,121.9 477.6,121.9 477.8,122.1 477.9,121.9 478.0,121.7 478.2,121.6 478.3,121.9 478.4,122.0 478.6,121.8 478.7,121.6 478.9,122.4 479.0,122.2 479.1,121.6 479.3,121.9 479.4,121.7 479.5,122.0 479.7,121.9 479.8,122.1 479.9,122.1 480.1,122.0 480.2,121.9 480.4,122.1 480.5,122.4 480.6,122.4 480.8,122.4 480.9,122.2 481.0,122.6 481.2,122.3 481.3,122.2 481.4,122.3 481.6,122.1 481.7,122.8 481.9,122.3 482.0,122.3 482.1,122.1 482.3,122.3 482.4,122.0 482.5,122.2 482.7,121.9 482.8,122.2 483.0,122.2 483.1,122.5 483.2,122.0 483.4,122.2 483.5,121.9 483.6,122.1 483.8,122.0 483.9,122.2 484.0,122.1 484.2,122.2 484.3,122.1 484.5,122.2 484.6,122.0 484.7,122.4 484.9,122.4 485.0,122.2 485.1,122.4 485.3,121.9 485.4,121.9 485.5,121.9 485.7,121.8 485.8,122.1 486.0,122.1 486.1,121.9 486.2,121.8 486.4,122.2 486.5,122.1 486.6,121.9 486.8,122.2 486.9,121.8 487.0,122.0 487.2,122.1 487.3,122.3 487.5,122.2 487.6,122.2 487.7,122.3 487.9,122.5 488.0,122.4 488.1,122.2 488.3,122.2 488.4,122.4 488.5,122.4 488.7,121.9 488.8,122.1 489.0,122.0 489.1,122.2 489.2,122.1 489.4,122.4 489.5,121.9 489.6,121.9 489.8,122.0 489.9,121.9 490.0,121.8 490.2,121.9 490.3,121.7 490.5,122.0 490.6,121.8 490.7,122.0 490.9,122.2 491.0,122.0 491.1,122.2 491.3,122.4 491.4,121.9 491.5,122.3 491.7,122.5 491.8,122.3 492.0,122.3 492.1,122.3 492.2,122.3 492.4,122.2 492.5,122.3 492.6,122.0 492.8,122.3 492.9,122.0 493.0,122.3 493.2,122.3 493.3,121.9 493.5,121.8 493.6,121.7 493.7,121.9 493.9,121.8 494.0,122.0 494.1,122.2 494.3,122.4 494.4,121.9 494.6,121.6 494.7,121.7 494.8,121.8 495.0,122.4 495.1,121.6 495.2,121.8 495.4,122.0 495.5,121.7 495.6,122.4 495.8,122.4 495.9,122.2 496.1,122.6 496.2,121.8 496.3,122.5 496.5,122.1 496.6,122.1 496.7,121.9 496.9,121.9 497.0,122.0 497.1,121.8 497.3,122.2 497.4,121.9 497.6,121.9 497.7,121.8 497.8,122.1 498.0,121.7 498.1,122.0 498.2,121.5 498.4,121.6 498.5,122.1 498.6,121.7 498.8,121.8 498.9,122.2 499.1,122.0 499.2,122.0 499.3,122.1 499.5,122.0 499.6,122.1 499.7,122.1 499.9,122.0 500.0,122.1 500.1,122.3 500.3,121.9 500.4,122.2 500.6,122.0 500.7,122.0 500.8,122.4 501.0,121.6 501.1,122.2 501.2,121.7 501.4,121.9 501.5,121.8 501.6,121.7 501.8,121.9 501.9,121.7 502.1,121.5 502.2,121.5 502.3,121.7 502.5,121.6 502.6,121.6 502.7,121.6 502.9,121.8 503.0,121.8 503.1,121.8 503.3,121.7 503.4,122.3 503.6,122.2 503.7,121.8 503.8,122.1 504.0,122.2 504.1,122.0 504.2,122.0 504.4,122.0 504.5,122.0 504.6,122.4 504.8,122.0 504.9,122.4 505.1,122.0 505.2,122.2 505.3,122.3 505.5,121.9 505.6,121.9 505.7,121.9 505.9,122.5 506.0,121.8 506.2,122.0 506.3,122.6 506.4,121.7 506.6,121.9 506.7,121.9 506.8,122.1 507.0,122.3 507.1,122.0 507.2,121.9 507.4,122.0 507.5,122.2 507.7,122.3 507.8,121.9 507.9,121.7 508.1,121.9 508.2,121.4 508.3,121.8 508.5,121.8 508.6,121.6 508.7,121.7 508.9,121.9 509.0,121.9 509.2,121.8 509.3,122.0 509.4,122.3 509.6,122.1 509.7,122.6 509.8,122.3 510.0,122.3 510.1,122.7 510.2,122.2 510.4,122.3 510.5,122.6 510.7,122.3 510.8,122.1 510.9,122.4 511.1,122.4 511.2,122.1 511.3,122.4 511.5,122.3 511.6,122.4 511.7,122.4 511.9,122.3 512.0,122.3 512.2,122.0 512.3,122.2 512.4,122.4 512.6,122.7 512.7,122.4 512.8,122.0 513.0,121.5 513.1,122.1 513.2,122.1 513.4,122.2 513.5,122.2 513.7,122.2 513.8,122.0 513.9,122.2 514.1,122.1 514.2,122.1 514.3,121.9 514.5,122.3 514.6,122.0 514.7,122.4 514.9,122.0 515.0,122.0 515.2,122.1 515.3,122.2 515.4,122.0 515.6,121.8 515.7,121.6 515.8,121.8 516.0,121.4 516.1,121.7 516.2,122.0 516.4,122.1 516.5,122.1 516.7,122.3 516.8,122.0 516.9,122.2 517.1,122.1 517.2,121.9 517.3,122.2 517.5,121.6 517.6,121.8 517.7,121.7 517.9,121.8 518.0,121.9 518.2,122.1 518.3,121.7 518.4,121.9 518.5,122.0 518.5,121.7 518.6,122.0 518.6,122.2 518.6,121.8 518.7,121.9 518.7,121.9 518.7,121.9 518.8,122.0 518.8,121.9 518.8,122.2 518.9,122.6 518.9,121.9 518.9,122.3 519.0,122.2 519.0,122.1 519.0,122.6 519.1,122.1 519.1,122.1 519.1,122.3 519.2,122.2 519.2,120.6 519.3,118.6 519.3,116.7 519.3,115.2 519.4,116.5 519.4,117.6 519.4,118.3 519.5,119.3 519.5,120.3 519.5,120.6 519.6,120.5 519.6,120.6 519.6,121.4 519.7,121.1 519.7,121.2 519.7,121.6 519.8,121.5 519.8,121.5 519.8,121.9 519.9,121.4 519.9,121.7 519.9,121.9 520.0,121.9 520.0,121.6 520.0,122.0 520.1,121.6 520.1,121.6 520.1,121.7 520.2,121.8 520.2,121.9 520.2,121.7 520.3,121.4 520.3,121.8 520.3,121.8 520.4,121.7 520.4,121.8 520.4,121.7 520.5,122.1 520.5,121.8 520.5,121.8 520.6,121.1 520.6,121.7 520.6,121.2 520.7,121.6 520.7,121.1 520.8,121.1 520.8,121.2 520.8,121.4 520.9,120.8 520.9,121.1 520.9,120.9 521.0,120.8 521.0,121.2 521.0,121.2 521.1,121.4 521.1,121.2 521.1,121.4 521.2,121.1 521.2,121.5 521.2,121.9 521.3,121.6 521.3,121.3 521.3,121.2 521.4,121.2 521.4,121.6 521.4,121.3 521.5,121.6 521.5,121.7 521.5,121.6 521.6,121.8 521.7,121.1 521.8,121.4 522.0,122.0 522.1,121.5 522.3,121.6 522.4,121.8 522.5,121.5 522.7,121.6 522.8,122.1 522.9,121.7 523.1,121.8 523.2,121.9 523.3,122.4 523.5,122.2 523.6,122.1 523.8,122.2 523.9,122.2 524.0,122.3 524.2,122.4 524.3,122.5 524.4,122.0 524.6,122.2 524.7,122.3 524.8,122.2 525.0,122.1 525.1,122.2 525.3,121.8 525.4,121.8 525.5,122.3 525.7,122.1 525.8,122.1 525.9,122.1 526.1,121.7 526.2,122.1 526.3,122.0 526.5,122.0" fill="none" stroke="#0072BD" stroke-width="2.0" stroke-linejoin="round"/><polyline points="331.2,142.3 331.2,142.3 331.3,142.3 331.3,142.3 331.3,142.3 331.4,142.3 331.4,142.3 331.4,142.3 331.5,142.3 331.5,142.3 331.5,142.3 331.6,142.3 331.6,142.3 331.6,142.3 331.7,142.3 331.7,142.3 331.7,142.3 331.8,142.3 331.8,142.3 331.8,142.3 331.9,142.3 331.9,142.3 332.0,142.3 332.0,142.3 332.0,142.3 332.1,142.3 332.1,142.3 332.1,142.3 332.2,142.3 332.2,142.3 332.2,142.3 332.3,142.3 332.3,142.3 332.3,142.3 332.4,142.3 332.4,142.3 332.4,142.3 332.5,142.3 332.5,142.3 332.5,142.3 332.6,142.3 332.6,142.3 332.6,142.3 332.7,142.3 332.7,142.3 332.7,142.3 332.8,142.3 332.8,142.3 332.8,136.9 332.9,131.5 332.9,126.0 332.9,120.6 333.0,115.2 333.0,109.7 333.0,104.3 333.1,98.9 333.1,93.4 333.1,88.0 333.2,89.6 333.2,91.1 333.2,92.5 333.3,93.9 333.3,95.2 333.3,96.5 333.4,97.6 333.4,98.8 333.5,99.9 333.5,100.9 333.5,101.9 333.6,102.8 333.6,103.7 333.6,104.6 333.7,105.4 333.7,106.2 333.7,106.9 333.8,107.7 333.8,108.6 333.8,109.3 333.9,109.3 333.9,109.9 333.9,110.9 334.0,111.1 334.0,112.0 334.0,113.0 334.1,112.7 334.1,113.4 334.1,113.6 334.2,114.3 334.2,114.3 334.2,114.8 334.3,115.0 334.3,115.2 334.3,115.8 334.4,115.7 334.4,116.3 334.4,116.8 334.5,116.8 334.5,116.9 334.5,117.2 334.6,117.7 334.6,117.9 334.6,118.0 334.7,118.1 334.7,118.3 334.7,119.0 334.8,119.0 334.8,118.8 334.9,119.7 334.9,119.7 334.9,119.5 335.0,120.2 335.0,119.9 335.0,120.0 335.1,120.3 335.1,120.4 335.1,120.5 335.2,120.1 335.2,120.7 335.2,120.4 335.3,120.8 335.3,120.5 335.3,120.4 335.4,120.8 335.4,120.8 335.4,120.6 335.5,120.7 335.5,120.7 335.5,120.7 335.6,121.0 335.6,120.5 335.6,120.7 335.7,120.8 335.7,120.8 335.7,120.5 335.8,120.5 335.8,120.9 335.8,120.9 335.9,120.7 335.9,121.0 335.9,120.9 336.0,120.9 336.0,121.2 336.0,121.1 336.1,121.2 336.1,121.3 336.1,121.2 336.2,121.6 336.2,121.3 336.2,121.3 336.3,121.6 336.3,121.7 336.4,121.6 336.4,121.6 336.4,121.8 336.5,121.6 336.5,121.7 336.5,121.8 336.6,121.9 336.6,121.7 336.6,121.7 336.7,122.0 336.8,121.9 336.9,122.2 337.1,121.7 337.2,122.3 337.3,122.3 337.5,122.5 337.6,122.4 337.8,122.2 337.9,122.6 338.0,122.3 338.2,122.0 338.3,122.0 338.4,122.2 338.6,121.7 338.7,122.5 338.8,122.0 339.0,122.0 339.1,122.2 339.3,122.1 339.4,121.3 339.5,122.3 339.7,121.7 339.8,122.2 339.9,122.1 340.1,121.8 340.2,121.8 340.3,122.2 340.5,122.3 340.6,121.9 340.8,122.4 340.9,122.0 341.0,121.9 341.2,122.0 341.3,122.1 341.4,122.3 341.6,122.0 341.7,122.2 341.8,122.1 342.0,122.1 342.1,122.2 342.3,122.2 342.4,121.8 342.5,122.1 342.7,122.4 342.8,122.0 342.9,122.2 343.1,122.0 343.2,121.9 343.3,121.9 343.5,122.2 343.6,122.4 343.8,122.2 343.9,121.8 344.0,121.8 344.2,122.1 344.3,121.9 344.4,121.8 344.6,122.0 344.7,121.9 344.8,121.9 345.0,121.6 345.1,121.9 345.3,121.8 345.4,122.2 345.5,122.0 345.7,121.7 345.8,121.9 345.9,122.1 346.1,122.0 346.2,121.9 346.3,121.7 346.5,121.9 346.6,122.1 346.8,121.9 346.9,121.9 347.0,122.0 347.2,121.6 347.3,122.3 347.4,122.6 347.6,122.4 347.7,122.0 347.8,122.1 348.0,122.1 348.1,121.9 348.3,122.0 348.4,122.1 348.5,122.0 348.7,122.2 348.8,122.2 348.9,122.2 349.1,122.1 349.2,121.8 349.4,122.0 349.5,122.2 349.6,121.8 349.8,121.8 349.9,122.0 350.0,121.8 350.2,122.4 350.3,122.0 350.4,122.2 350.6,122.2 350.7,121.8 350.9,121.9 351.0,122.1 351.1,121.7 351.3,122.2 351.4,122.0 351.5,122.3 351.7,122.2 351.8,121.7 351.9,122.2 352.1,122.1 352.2,122.4 352.4,122.4 352.5,122.0 352.6,122.1 352.8,121.9 352.9,122.2 353.0,122.3 353.2,121.9 353.3,122.2 353.4,122.3 353.6,122.3 353.7,122.4 353.9,122.3 354.0,122.2 354.1,122.2 354.3,122.8 354.4,122.4 354.5,122.5 354.7,122.2 354.8,122.2 354.9,122.2 355.1,121.9 355.2,122.0 355.4,122.2 355.5,122.2 355.6,121.9 355.8,121.8 355.9,121.8 356.0,122.0 356.2,122.0 356.3,121.7 356.4,122.2 356.6,121.4 356.7,122.0 356.9,121.8 357.0,122.1 357.1,122.0 357.3,121.8 357.4,121.9 357.5,121.7 357.7,121.9 357.8,121.8 357.9,122.1 358.1,122.1 358.2,122.0 358.4,122.5 358.5,122.4 358.6,121.8 358.8,122.1 358.9,122.1 359.0,122.0 359.2,122.0 359.3,122.1 359.4,122.1 359.6,121.9 359.7,122.1 359.9,121.6 360.0,121.8 360.1,121.7 360.3,121.7 360.4,121.8 360.5,122.3 360.7,122.0 360.8,122.1 360.9,121.9 361.1,122.3 361.2,121.8 361.4,122.1 361.5,122.0 361.6,122.0 361.8,122.5 361.9,122.2 362.0,122.0 362.2,122.2 362.3,122.2 362.5,122.1 362.6,122.4 362.7,122.3 362.9,122.1 363.0,122.3 363.1,121.8 363.3,122.1 363.4,122.1 363.5,121.6 363.7,121.7 363.8,122.0 364.0,122.1 364.1,122.2 364.2,122.1 364.4,122.5 364.5,122.1 364.6,121.9 364.8,122.2 364.9,122.0 365.0,121.9 365.2,122.0 365.3,122.4 365.5,121.9 365.6,121.7 365.7,122.4 365.9,122.2 366.0,122.2 366.1,122.2 366.3,122.2 366.4,122.1 366.5,121.9 366.7,122.3 366.8,122.3 367.0,121.9 367.1,122.1 367.2,122.0 367.4,122.2 367.5,122.3 367.6,122.2 367.8,121.7 367.9,122.2 368.0,122.6 368.2,121.8 368.3,122.1 368.5,122.1 368.6,121.9 368.7,122.0 368.9,122.3 369.0,122.1 369.1,121.9 369.3,122.0 369.4,122.1 369.5,121.6 369.7,122.0 369.8,121.9 370.0,121.9 370.1,122.0 370.2,122.0 370.4,122.1 370.5,122.3 370.6,122.1 370.8,122.1 370.9,121.9 371.0,122.2 371.2,122.1 371.3,122.0 371.5,122.1 371.6,122.4 371.7,121.9 371.9,122.3 372.0,122.0 372.1,122.3 372.3,122.3 372.4,122.1 372.5,121.9 372.7,122.2 372.8,122.5 373.0,122.4 373.1,122.2 373.2,122.0 373.4,121.6 373.5,121.9 373.6,122.0 373.8,121.7 373.9,121.7 374.1,122.0 374.2,122.2 374.3,122.1 374.5,122.0 374.6,122.5 374.7,122.1 374.9,122.1 375.0,122.5 375.1,122.3 375.3,122.2 375.4,122.2 375.6,122.2 375.7,122.2 375.8,122.1 376.0,122.1 376.1,122.2 376.2,122.3 376.4,122.4 376.5,122.2 376.6,122.1 376.8,121.8 376.9,122.2 377.1,122.6 377.2,122.1 377.3,122.2 377.5,122.2 377.6,122.3 377.7,121.8 377.9,122.4 378.0,122.2 378.1,121.6 378.3,121.9 378.4,122.0 378.6,122.5 378.7,122.0 378.8,122.0 379.0,121.6 379.1,121.8 379.2,121.9 379.4,121.7 379.5,121.8 379.6,122.2 379.8,121.9 379.9,121.7 380.1,121.8 380.2,122.1 380.3,121.9 380.5,121.8 380.6,122.2 380.7,121.9 380.9,122.0 381.0,122.2 381.1,122.1 381.3,122.2 381.4,122.1 381.6,122.4 381.7,122.6 381.8,122.3 382.0,122.3 382.1,122.1 382.2,122.2 382.4,122.2 382.5,122.3 382.6,122.1 382.8,122.0 382.9,122.1 383.1,122.1 383.2,122.1 383.3,122.3 383.5,121.9 383.6,122.2 383.7,122.5 383.9,122.1 384.0,122.4 384.1,122.0 384.3,122.1 384.4,122.3 384.6,121.8 384.7,121.8 384.8,121.7 385.0,121.8 385.1,122.0 385.2,121.9 385.4,122.0 385.5,121.8 385.7,121.8 385.8,122.0 385.9,121.8 386.1,122.1 386.2,121.6 386.3,121.9 386.5,121.8 386.6,122.2 386.7,121.9 386.9,122.3 387.0,122.4 387.2,122.2 387.3,122.2 387.4,122.2 387.6,122.1 387.7,122.3 387.8,122.2 388.0,122.0 388.1,122.0 388.2,122.3 388.4,122.5 388.5,122.0 388.7,122.2 388.8,122.2 388.9,121.8 389.1,122.3 389.2,122.0 389.3,122.3 389.5,122.0 389.6,121.9 389.7,122.0 389.9,122.0 390.0,121.7 390.2,121.8 390.3,121.4 390.4,121.5 390.6,121.6 390.7,121.6 390.8,121.9 391.0,121.5 391.1,121.3 391.2,121.8 391.4,121.8 391.5,121.6 391.7,121.6 391.8,121.7 391.9,121.9 392.1,122.1 392.2,121.7 392.3,121.8 392.5,122.1 392.6,121.9 392.7,122.3 392.9,121.9 393.0,122.1 393.2,122.0 393.3,122.4 393.4,121.8 393.6,122.0 393.7,122.5 393.8,122.1 394.0,122.4 394.1,122.0 394.2,122.0 394.4,122.4 394.5,122.3 394.7,122.4 394.8,122.0 394.9,122.1 395.1,122.4 395.2,121.6 395.3,121.8 395.5,122.0 395.6,121.7 395.7,122.5 395.9,122.0 396.0,122.2 396.2,122.0 396.3,122.1 396.4,121.9 396.6,122.3 396.7,122.0 396.8,122.3 397.0,122.1 397.1,122.5 397.2,122.4 397.4,122.0 397.5,122.2 397.7,122.2 397.8,122.2 397.9,122.2 398.1,122.0 398.2,122.2 398.3,122.3 398.5,122.2 398.6,122.0 398.8,122.1 398.9,122.1 399.0,121.7 399.2,121.7 399.3,122.5 399.4,122.0 399.6,122.2 399.7,122.2 399.8,122.2 400.0,122.3 400.1,122.2 400.3,122.3 400.4,122.6 400.5,122.4 400.7,122.2 400.8,122.4 400.9,122.2 401.1,121.9 401.2,122.3 401.3,122.5 401.5,121.6 401.6,122.1 401.8,122.1 401.9,122.2 402.0,121.8 402.2,122.1 402.3,122.0 402.4,121.8 402.6,122.0 402.7,121.9 402.8,122.2 403.0,122.0 403.1,122.2 403.3,122.0 403.4,122.4 403.5,121.8 403.7,121.9 403.8,122.5 403.9,121.7 404.1,122.0 404.2,121.9 404.3,121.7 404.5,121.9 404.6,121.5 404.8,121.6 404.9,121.8 405.0,121.8 405.2,122.1 405.3,122.1 405.4,122.2 405.6,122.0 405.7,121.9 405.8,122.2 406.0,121.7 406.1,122.1 406.3,121.9 406.4,122.1 406.5,122.1 406.7,121.9 406.8,122.3 406.9,121.9 407.1,122.3 407.2,122.2 407.3,122.5 407.5,122.2 407.6,122.4 407.8,122.4 407.9,122.5 408.0,122.2 408.2,122.2 408.3,122.0 408.4,122.3 408.6,122.0 408.7,121.9 408.8,122.4 409.0,122.1 409.1,122.3 409.3,122.3 409.4,122.1 409.5,122.4 409.7,122.5 409.8,122.2 409.9,122.2 410.1,122.2 410.2,122.3 410.4,122.0 410.5,122.0 410.6,122.5 410.8,122.4 410.9,122.1 411.0,122.0 411.2,122.5 411.3,122.1 411.4,122.1 411.6,122.4 411.7,122.3 411.9,122.1 412.0,122.2 412.1,121.9 412.3,122.0 412.4,122.4 412.5,121.9 412.7,121.8 412.8,122.2 412.9,122.1 413.1,121.9 413.2,122.0 413.4,122.0 413.5,122.1 413.6,122.1 413.8,122.4 413.9,122.0 414.0,122.2 414.2,122.1 414.3,122.1 414.4,122.3 414.6,122.2 414.7,121.8 414.9,122.4 415.0,122.4 415.1,122.1 415.3,122.0 415.4,122.0 415.5,122.1 415.7,122.0 415.8,122.0 415.9,121.9 416.1,121.9 416.2,121.9 416.4,122.4 416.5,121.6 416.6,121.6 416.8,122.1 416.9,121.7 417.0,121.9 417.2,121.8 417.3,122.2 417.4,121.9 417.6,122.1 417.7,122.4 417.9,121.9 418.0,122.0 418.1,122.3 418.3,121.9 418.4,122.2 418.5,122.0 418.7,122.1 418.8,122.2 418.9,121.9 419.1,121.9 419.2,122.1 419.4,121.7 419.5,122.0 419.6,122.1 419.8,122.1 419.9,122.1 420.0,122.0 420.2,122.3 420.3,122.3 420.4,121.8 420.6,121.6 420.7,122.3 420.9,122.5 421.0,122.0 421.1,122.2 421.3,121.9 421.4,122.2 421.5,122.0 421.7,122.1 421.8,122.2 422.0,122.3 422.1,122.0 422.2,122.1 422.4,122.6 422.5,122.4 422.6,122.2 422.8,122.3 422.9,122.2 423.0,122.3 423.2,122.5 423.3,122.2 423.5,122.0 423.6,122.4 423.7,122.5 423.9,121.8 424.0,122.2 424.1,122.1 424.3,121.7 424.4,122.3 424.5,121.9 424.7,122.3 424.8,122.1 425.0,122.0 425.1,122.1 425.2,122.6 425.4,122.4 425.5,122.4 425.6,122.1 425.8,122.5 425.9,122.3 426.0,121.7 426.2,121.8 426.3,122.1 426.5,121.7 426.6,122.1 426.7,121.9 426.9,122.1 427.0,122.3 427.1,122.0 427.3,122.1 427.4,121.7 427.5,121.9 427.7,121.8 427.8,122.2 428.0,122.0 428.1,122.1 428.2,121.5 428.4,121.8 428.5,121.6 428.6,122.1 428.8,122.1 428.9,121.6 429.0,121.7 429.2,121.6 429.3,121.8 429.5,121.8 429.6,121.9 429.7,121.6 429.9,121.7 430.0,121.6 430.1,121.8 430.3,121.8 430.4,121.7 430.5,121.6 430.7,121.8 430.8,121.5 431.0,121.8 431.1,121.9 431.2,121.7 431.4,122.0 431.5,122.0 431.6,121.8 431.8,122.0 431.9,122.4 432.0,121.8 432.2,122.0 432.3,122.1 432.5,122.2 432.6,122.2 432.7,121.9 432.9,122.2 433.0,122.1 433.1,121.9 433.3,122.6 433.4,122.0 433.6,122.0 433.7,122.1 433.8,121.9 434.0,121.8 434.1,121.4 434.2,121.7 434.4,121.6 434.5,121.7 434.6,122.1 434.8,121.6 434.9,121.5 435.1,121.9 435.2,121.9 435.3,121.7 435.5,121.9 435.6,122.0 435.7,122.0 435.9,122.1 436.0,122.5 436.1,122.3 436.3,122.2 436.4,122.0 436.6,121.9 436.7,122.2 436.8,122.1 437.0,122.0 437.1,121.9 437.2,122.1 437.4,122.3 437.5,122.2 437.6,122.0 437.8,121.7 437.9,121.8 438.1,121.9 438.2,121.5 438.3,121.6 438.5,121.7 438.6,121.6 438.7,122.0 438.9,121.8 439.0,121.8 439.1,122.1 439.3,122.2 439.4,122.1 439.6,121.8 439.7,122.2 439.8,122.0 440.0,121.9 440.1,122.1 440.2,122.1 440.4,122.1 440.5,122.2 440.6,121.9 440.8,122.4 440.9,122.5 441.1,122.3 441.2,122.2 441.3,122.2 441.5,122.1 441.6,122.2 441.7,121.8 441.9,122.1 442.0,121.9 442.1,121.9 442.3,121.8 442.4,121.8 442.6,122.0 442.7,121.9 442.8,122.2 443.0,122.1 443.1,122.0 443.2,122.5 443.4,122.2 443.5,122.3 443.6,122.5 443.8,122.5 443.9,122.2 444.1,122.2 444.2,122.6 444.3,122.5 444.5,122.4 444.6,122.3 444.7,122.5 444.9,122.3 445.0,122.5 445.1,122.6 445.3,122.3 445.4,122.2 445.6,122.2 445.7,122.4 445.8,122.5 446.0,122.1 446.1,122.0 446.2,122.1 446.4,122.3 446.5,122.0 446.7,122.0 446.8,122.0 446.9,122.1 447.1,122.4 447.2,122.0 447.3,122.3 447.5,122.1 447.6,122.1 447.7,121.8 447.9,122.2 448.0,122.8 448.2,121.9 448.3,122.0 448.4,122.2 448.6,121.8 448.7,122.3 448.8,122.3 449.0,122.1 449.1,122.0 449.2,122.2 449.4,122.5 449.5,122.4 449.7,122.0 449.8,122.5 449.9,122.2 450.1,122.4 450.2,122.1 450.3,122.0 450.5,122.4 450.6,122.0 450.7,122.2 450.9,122.0 451.0,122.2 451.2,122.3 451.3,121.8 451.4,121.8 451.6,121.7 451.7,121.9 451.8,122.1 452.0,121.6 452.1,122.3 452.2,121.9 452.4,121.5 452.5,122.0 452.7,122.2 452.8,122.2 452.9,122.2 453.1,122.1 453.2,122.1 453.3,122.1 453.5,122.2 453.6,122.1 453.7,122.4 453.9,122.6 454.0,121.9 454.2,122.0 454.3,122.4 454.4,122.3 454.6,122.3 454.7,122.2 454.8,122.2 455.0,122.1 455.1,122.4 455.2,122.2 455.4,122.0 455.5,122.5 455.7,122.0 455.8,121.9 455.9,122.1 456.1,122.3 456.2,122.1 456.3,122.1 456.5,122.1 456.6,122.2 456.7,122.0 456.9,122.1 457.0,122.2 457.2,121.6 457.3,122.1 457.4,122.2 457.6,122.0 457.7,122.5 457.8,122.2 458.0,122.1 458.1,121.9 458.3,122.1 458.4,121.7 458.5,122.3 458.7,122.0 458.8,122.2 458.9,122.2 459.1,122.0 459.2,122.0 459.3,122.0 459.5,121.9 459.6,122.1 459.8,122.1 459.9,122.2 460.0,121.8 460.2,122.1 460.3,122.1 460.4,121.8 460.6,121.7 460.7,122.0 460.8,121.9 461.0,122.1 461.1,122.0 461.3,121.7 461.4,122.0 461.5,122.0 461.7,122.1 461.8,122.4 461.9,121.9 462.1,122.2 462.2,122.2 462.3,122.1 462.5,122.2 462.6,122.5 462.8,122.2 462.9,122.4 463.0,122.3 463.2,122.2 463.3,122.3 463.4,122.4 463.6,122.0 463.7,122.2 463.8,122.4 464.0,122.4 464.1,122.3 464.3,122.2 464.4,121.8 464.5,122.5 464.7,122.0 464.8,122.0 464.9,122.1 465.1,122.3 465.2,122.3 465.3,121.7 465.5,122.3 465.6,122.1 465.8,121.9 465.9,122.3 466.0,122.1 466.2,121.9 466.3,122.2 466.4,122.1 466.6,122.1 466.7,122.1 466.8,122.2 467.0,121.7 467.1,122.0 467.3,121.9 467.4,122.1 467.5,122.2 467.7,122.3 467.8,122.4 467.9,122.1 468.1,122.1 468.2,122.1 468.3,122.2 468.5,122.1 468.6,122.0 468.8,122.0 468.9,122.1 469.0,122.0 469.2,122.0 469.3,122.1 469.4,122.0 469.6,121.9 469.7,121.7 469.9,121.8 470.0,122.0 470.1,122.2 470.3,122.2 470.4,122.3 470.5,122.1 470.7,121.9 470.8,122.1 470.9,121.9 471.1,122.3 471.2,122.2 471.4,122.2 471.5,122.2 471.6,121.9 471.8,122.2 471.9,122.3 472.0,122.1 472.2,122.1 472.3,122.1 472.4,122.0 472.6,122.1 472.7,121.9 472.9,122.0 473.0,122.4 473.1,122.1 473.3,122.1 473.4,121.9 473.5,122.1 473.7,122.5 473.8,122.5 473.9,122.5 474.1,122.2 474.2,122.3 474.4,122.3 474.5,122.0 474.6,122.0 474.8,122.2 474.9,122.6 475.0,122.2 475.2,122.3 475.3,122.4 475.4,122.2 475.6,122.2 475.7,122.3 475.9,122.3 476.0,122.2 476.1,122.6 476.3,122.6 476.4,122.4 476.5,122.2 476.7,122.1 476.8,121.8 476.9,122.5 477.1,122.1 477.2,121.9 477.4,121.8 477.5,121.9 477.6,121.9 477.8,121.6 477.9,122.0 478.0,121.7 478.2,122.0 478.3,121.6 478.4,121.7 478.6,121.9 478.7,121.7 478.9,121.9 479.0,121.9 479.1,121.8 479.3,121.8 479.4,121.9 479.5,121.9 479.7,122.0 479.8,122.2 479.9,122.1 480.1,121.9 480.2,122.0 480.4,122.3 480.5,122.1 480.6,122.2 480.8,122.5 480.9,122.5 481.0,122.5 481.2,122.3 481.3,122.5 481.4,122.5 481.6,122.1 481.7,122.7 481.9,121.9 482.0,122.3 482.1,122.1 482.3,122.3 482.4,122.3 482.5,122.2 482.7,121.9 482.8,122.1 483.0,121.9 483.1,122.4 483.2,122.2 483.4,122.1 483.5,122.1 483.6,122.3 483.8,122.5 483.9,122.0 484.0,122.0 484.2,121.9 484.3,122.1 484.5,122.4 484.6,122.0 484.7,122.0 484.9,122.5 485.0,121.8 485.1,122.1 485.3,121.9 485.4,121.7 485.5,122.0 485.7,122.1 485.8,122.2 486.0,121.6 486.1,121.9 486.2,121.7 486.4,121.9 486.5,122.0 486.6,122.2 486.8,122.1 486.9,122.3 487.0,122.0 487.2,122.1 487.3,122.1 487.5,122.1 487.6,122.4 487.7,122.2 487.9,122.2 488.0,122.3 488.1,122.4 488.3,121.9 488.4,122.6 488.5,122.4 488.7,122.1 488.8,122.5 489.0,122.6 489.1,122.2 489.2,122.1 489.4,122.2 489.5,122.3 489.6,121.6 489.8,121.9 489.9,122.0 490.0,121.7 490.2,122.1 490.3,122.0 490.5,122.0 490.6,121.8 490.7,122.2 490.9,122.2 491.0,122.1 491.1,122.3 491.3,122.1 491.4,122.3 491.5,122.3 491.7,121.9 491.8,122.1 492.0,122.3 492.1,122.2 492.2,122.4 492.4,122.1 492.5,121.9 492.6,122.0 492.8,122.2 492.9,122.3 493.0,122.0 493.2,122.1 493.3,121.7 493.5,122.0 493.6,122.0 493.7,121.9 493.9,122.2 494.0,121.9 494.1,122.0 494.3,122.1 494.4,121.8 494.6,122.0 494.7,122.0 494.8,121.8 495.0,122.1 495.1,122.4 495.2,121.9 495.4,122.0 495.5,121.7 495.6,122.3 495.8,122.2 495.9,121.9 496.1,122.2 496.2,122.0 496.3,122.2 496.5,122.1 496.6,122.3 496.7,121.7 496.9,121.9 497.0,121.6 497.1,122.0 497.3,122.1 497.4,121.9 497.6,122.2 497.7,121.9 497.8,121.8 498.0,121.8 498.1,122.1 498.2,121.9 498.4,122.0 498.5,121.9 498.6,122.1 498.8,121.8 498.9,121.8 499.1,121.8 499.2,122.1 499.3,122.0 499.5,122.1 499.6,122.0 499.7,122.1 499.9,121.9 500.0,122.1 500.1,122.1 500.3,121.9 500.4,122.2 500.6,122.2 500.7,122.4 500.8,122.3 501.0,122.0 501.1,121.7 501.2,121.7 501.4,122.0 501.5,121.9 501.6,121.9 501.8,121.9 501.9,121.9 502.1,121.9 502.2,121.9 502.3,121.8 502.5,121.8 502.6,121.8 502.7,121.6 502.9,122.0 503.0,121.6 503.1,121.4 503.3,122.0 503.4,122.0 503.6,122.1 503.7,122.1 503.8,122.4 504.0,122.1 504.1,122.0 504.2,122.2 504.4,121.8 504.5,121.8 504.6,122.0 504.8,122.3 504.9,122.5 505.1,122.4 505.2,122.4 505.3,122.3 505.5,121.9 505.6,122.0 505.7,121.9 505.9,122.2 506.0,121.8 506.2,122.1 506.3,122.2 506.4,122.0 506.6,122.0 506.7,121.8 506.8,122.3 507.0,121.9 507.1,121.6 507.2,122.1 507.4,122.2 507.5,121.9 507.7,122.1 507.8,122.3 507.9,121.9 508.1,121.6 508.2,121.8 508.3,121.9 508.5,121.8 508.6,121.9 508.7,121.5 508.9,122.1 509.0,122.0 509.2,122.1 509.3,121.9 509.4,121.8 509.6,122.0 509.7,122.0 509.8,122.4 510.0,121.9 510.1,122.2 510.2,122.3 510.4,122.2 510.5,122.3 510.7,122.3 510.8,122.2 510.9,122.5 511.1,122.2 511.2,122.4 511.3,122.4 511.5,122.7 511.6,122.4 511.7,121.9 511.9,122.1 512.0,122.4 512.2,121.8 512.3,122.4 512.4,122.4 512.6,122.1 512.7,122.1 512.8,122.2 513.0,121.8 513.1,122.1 513.2,122.0 513.4,122.2 513.5,122.0 513.7,121.8 513.8,121.8 513.9,122.2 514.1,121.9 514.2,122.2 514.3,122.3 514.5,122.2 514.6,122.4 514.7,122.3 514.9,121.9 515.0,121.9 515.2,121.9 515.3,121.9 515.4,122.0 515.6,121.7 515.7,121.9 515.8,121.9 516.0,121.9 516.1,121.7 516.2,121.9 516.4,121.7 516.5,122.1 516.7,121.8 516.8,121.9 516.9,122.0 517.1,121.9 517.2,122.0 517.3,121.8 517.5,122.0 517.6,122.1 517.7,121.8 517.9,121.9 518.0,122.3 518.2,122.1 518.3,122.1 518.4,121.9 518.5,122.0 518.5,122.1 518.6,121.9 518.6,122.0 518.6,122.2 518.7,122.0 518.7,122.2 518.7,121.6 518.8,122.4 518.8,122.1 518.8,122.0 518.9,117.2 518.9,111.5 518.9,106.3 519.0,101.1 519.0,105.6 519.0,109.8 519.1,112.5 519.1,114.8 519.1,116.7 519.2,118.0 519.2,118.8 519.3,119.7 519.3,120.1 519.3,120.3 519.4,120.9 519.4,121.0 519.4,121.0 519.5,121.4 519.5,121.6 519.5,121.6 519.6,121.6 519.6,121.8 519.6,121.6 519.7,121.7 519.7,121.7 519.7,121.9 519.8,121.7 519.8,121.6 519.8,121.8 519.9,121.7 519.9,122.0 519.9,122.0 520.0,121.9 520.0,121.6 520.0,121.9 520.1,121.8 520.1,121.6 520.1,121.9 520.2,121.9 520.2,121.7 520.2,121.9 520.3,121.7 520.3,121.4 520.3,121.7 520.4,121.2 520.4,121.6 520.4,121.6 520.5,121.9 520.5,121.6 520.5,121.6 520.6,121.4 520.6,121.8 520.6,121.9 520.7,121.5 520.7,121.4 520.8,121.3 520.8,120.9 520.8,121.2 520.9,120.8 520.9,121.1 520.9,121.3 521.0,121.0 521.0,121.2 521.0,121.1 521.1,121.3 521.1,121.6 521.1,121.3 521.2,121.8 521.2,121.1 521.2,121.5 521.3,121.4 521.3,121.2 521.3,121.5 521.4,121.2 521.4,121.5 521.4,121.3 521.5,121.7 521.5,121.7 521.5,121.8 521.6,121.7 521.7,121.1 521.8,121.4 522.0,121.6 522.1,121.7 522.3,121.5 522.4,121.8 522.5,121.5 522.7,121.6 522.8,122.1 522.9,121.7 523.1,122.2 523.2,121.9 523.3,122.2 523.5,121.9 523.6,122.6 523.8,122.4 523.9,122.1 524.0,122.2 524.2,122.0 524.3,122.4 524.4,122.5 524.6,121.9 524.7,122.1 524.8,122.0 525.0,122.2 525.1,121.9 525.3,121.8 525.4,122.0 525.5,122.1 525.7,121.7 525.8,122.0" fill="none" stroke="#D95319" stroke-width="1.3" stroke-linejoin="round" stroke-dasharray="5 2.35 1.2 2.05" stroke-dashoffset="4.5"/><polyline points="331.2,142.3 331.2,142.3 331.3,142.3 331.3,142.3 331.3,142.3 331.4,142.3 331.4,142.3 331.4,142.3 331.5,142.3 331.5,142.3 331.5,142.3 331.6,142.3 331.6,142.3 331.6,142.3 331.7,142.3 331.7,142.3 331.7,142.3 331.8,142.3 331.8,142.3 331.8,142.3 331.9,142.3 331.9,142.3 332.0,142.3 332.0,142.3 332.0,142.3 332.1,142.3 332.1,142.3 332.1,142.3 332.2,142.3 332.2,142.3 332.2,142.3 332.3,142.3 332.3,142.3 332.3,142.3 332.4,142.3 332.4,142.3 332.4,142.3 332.5,142.3 332.5,142.3 332.5,142.3 332.6,142.3 332.6,142.3 332.6,142.3 332.7,142.3 332.7,142.3 332.7,142.3 332.8,142.3 332.8,142.3 332.8,136.9 332.9,131.5 332.9,126.1 332.9,120.7 333.0,115.3 333.0,110.0 333.0,104.6 333.1,99.2 333.1,93.8 333.1,88.4 333.2,89.9 333.2,91.4 333.2,92.8 333.3,94.2 333.3,95.5 333.3,96.7 333.4,97.9 333.4,99.0 333.5,100.1 333.5,101.1 333.5,102.1 333.6,103.0 333.6,103.9 333.6,104.8 333.7,105.6 333.7,106.3 333.7,107.1 333.8,108.0 333.8,108.4 333.8,109.1 333.9,109.7 333.9,110.2 333.9,111.0 334.0,111.5 334.0,112.3 334.0,113.0 334.1,112.8 334.1,113.5 334.1,113.8 334.2,114.4 334.2,114.7 334.2,114.7 334.3,115.4 334.3,115.7 334.3,116.2 334.4,116.1 334.4,116.5 334.4,116.6 334.5,116.8 334.5,116.7 334.5,117.3 334.6,118.1 334.6,118.0 334.6,118.1 334.7,118.3 334.7,118.5 334.7,118.9 334.8,118.8 334.8,119.3 334.9,119.9 334.9,119.8 334.9,120.1 335.0,120.2 335.0,120.0 335.0,120.0 335.1,120.3 335.1,120.2 335.1,120.5 335.2,120.4 335.2,120.5 335.2,120.6 335.3,120.6 335.3,120.5 335.3,120.9 335.4,120.6 335.4,121.1 335.4,120.6 335.5,120.8 335.5,121.0 335.5,120.9 335.6,120.8 335.6,120.8 335.6,120.8 335.7,120.7 335.7,120.8 335.7,120.6 335.8,120.8 335.8,121.0 335.8,120.7 335.9,120.9 335.9,120.8 335.9,121.1 336.0,120.7 336.0,121.4 336.0,121.1 336.1,121.2 336.1,120.9 336.1,121.2 336.2,121.4 336.2,121.4 336.2,121.3 336.3,121.6 336.3,121.5 336.4,121.5 336.4,121.6 336.4,121.4 336.5,121.5 336.5,122.1 336.5,121.6 336.6,121.9 336.6,121.5 336.6,121.7 336.7,121.9 336.8,121.6 336.9,121.8 337.1,122.2 337.2,122.0 337.3,122.2 337.5,122.1 337.6,122.6 337.8,122.0 337.9,122.1 338.0,122.0 338.2,122.2 338.3,121.9 338.4,121.9 338.6,121.8 338.7,122.1 338.8,122.0 339.0,122.0 339.1,122.1 339.3,121.8 339.4,121.9 339.5,122.1 339.7,122.0 339.8,122.2 339.9,122.1 340.1,121.7 340.2,122.0 340.3,122.0 340.5,122.1 340.6,122.1 340.8,122.2 340.9,122.1 341.0,122.0 341.2,121.7 341.3,122.1 341.4,122.3 341.6,122.1 341.7,122.6 341.8,122.2 342.0,122.2 342.1,122.2 342.3,122.3 342.4,121.8 342.5,122.0 342.7,122.5 342.8,121.9 342.9,122.2 343.1,122.1 343.2,121.8 343.3,122.0 343.5,122.1 343.6,121.9 343.8,122.3 343.9,122.2 344.0,121.8 344.2,122.2 344.3,121.9 344.4,121.9 344.6,121.9 344.7,121.8 344.8,122.0 345.0,121.7 345.1,122.0 345.3,121.8 345.4,121.9 345.5,122.0 345.7,121.5 345.8,122.0 345.9,122.1 346.1,121.7 346.2,122.1 346.3,121.7 346.5,122.0 346.6,122.1 346.8,121.7 346.9,121.9 347.0,122.0 347.2,122.0 347.3,122.2 347.4,122.0 347.6,122.3 347.7,122.3 347.8,122.2 348.0,121.8 348.1,122.0 348.3,122.0 348.4,122.0 348.5,122.1 348.7,122.0 348.8,122.1 348.9,122.1 349.1,121.9 349.2,122.0 349.4,122.3 349.5,122.4 349.6,122.1 349.8,121.7 349.9,121.8 350.0,121.8 350.2,122.2 350.3,122.1 350.4,122.2 350.6,121.8 350.7,121.9 350.9,121.8 351.0,121.8 351.1,121.7 351.3,121.9 351.4,121.9 351.5,122.1 351.7,122.0 351.8,122.1 351.9,122.0 352.1,121.7 352.2,122.4 352.4,122.1 352.5,122.2 352.6,122.2 352.8,122.2 352.9,122.0 353.0,122.2 353.2,122.0 353.3,122.4 353.4,122.6 353.6,122.3 353.7,122.4 353.9,122.3 354.0,122.4 354.1,122.0 354.3,122.7 354.4,122.2 354.5,122.4 354.7,122.1 354.8,122.4 354.9,122.5 355.1,122.2 355.2,122.0 355.4,122.2 355.5,122.1 355.6,122.1 355.8,121.9 355.9,121.7 356.0,121.9 356.2,121.8 356.3,121.6 356.4,121.7 356.6,121.8 356.7,121.6 356.9,121.8 357.0,122.1 357.1,121.8 357.3,121.8 357.4,121.9 357.5,121.7 357.7,121.9 357.8,121.8 357.9,121.7 358.1,122.0 358.2,122.0 358.4,122.6 358.5,122.1 358.6,121.9 358.8,121.9 358.9,122.0 359.0,121.9 359.2,121.9 359.3,122.1 359.4,122.1 359.6,122.1 359.7,122.1 359.9,121.5 360.0,122.1 360.1,122.1 360.3,121.9 360.4,121.6 360.5,122.2 360.7,122.0 360.8,122.1 360.9,122.0 361.1,122.1 361.2,121.9 361.4,122.3 361.5,122.0 361.6,122.2 361.8,122.4 361.9,122.0 362.0,122.1 362.2,122.0 362.3,121.9 362.5,121.9 362.6,122.3 362.7,122.2 362.9,122.3 363.0,122.1 363.1,121.9 363.3,121.9 363.4,122.0 363.5,122.0 363.7,121.8 363.8,122.0 364.0,122.1 364.1,122.2 364.2,121.8 364.4,122.2 364.5,121.8 364.6,121.9 364.8,122.0 364.9,122.5 365.0,122.2 365.2,122.2 365.3,122.1 365.5,121.9 365.6,122.0 365.7,122.4 365.9,122.3 366.0,122.3 366.1,122.6 366.3,122.3 366.4,122.6 366.5,122.0 366.7,122.2 366.8,122.3 367.0,122.1 367.1,122.0 367.2,122.3 367.4,121.9 367.5,122.0 367.6,122.0 367.8,122.0 367.9,121.7 368.0,122.0 368.2,122.1 368.3,122.1 368.5,122.1 368.6,122.0 368.7,121.9 368.9,122.0 369.0,122.0 369.1,122.2 369.3,122.0 369.4,122.3 369.5,122.5 369.7,122.1 369.8,121.9 370.0,121.8 370.1,122.0 370.2,122.1 370.4,122.2 370.5,122.1 370.6,122.3 370.8,122.0 370.9,122.0 371.0,122.3 371.2,121.8 371.3,121.8 371.5,122.1 371.6,122.1 371.7,122.1 371.9,122.6 372.0,122.1 372.1,122.3 372.3,122.3 372.4,122.1 372.5,122.1 372.7,122.0 372.8,122.3 373.0,122.5 373.1,122.3 373.2,121.8 373.4,121.7 373.5,121.9 373.6,121.9 373.8,121.8 373.9,121.9 374.1,121.8 374.2,122.2 374.3,122.0 374.5,122.0 374.6,121.9 374.7,122.0 374.9,122.0 375.0,122.2 375.1,122.5 375.3,122.1 375.4,122.5 375.6,122.2 375.7,122.6 375.8,121.9 376.0,122.2 376.1,122.0 376.2,122.2 376.4,122.3 376.5,122.4 376.6,122.4 376.8,122.2 376.9,122.3 377.1,122.7 377.2,122.3 377.3,122.2 377.5,121.9 377.6,122.1 377.7,122.0 377.9,122.5 378.0,122.3 378.1,122.0 378.3,122.2 378.4,121.8 378.6,122.2 378.7,122.3 378.8,122.0 379.0,122.1 379.1,122.1 379.2,121.7 379.4,121.7 379.5,122.0 379.6,122.0 379.8,121.9 379.9,121.8 380.1,121.9 380.2,122.0 380.3,122.1 380.5,121.9 380.6,122.3 380.7,122.0 380.9,122.5 381.0,122.1 381.1,122.2 381.3,122.2 381.4,122.2 381.6,122.2 381.7,122.2 381.8,122.0 382.0,122.3 382.1,122.1 382.2,122.4 382.4,122.3 382.5,122.4 382.6,122.2 382.8,122.3 382.9,122.3 383.1,122.4 383.2,122.0 383.3,122.4 383.5,122.1 383.6,122.0 383.7,122.1 383.9,122.1 384.0,122.2 384.1,121.9 384.3,122.1 384.4,122.2 384.6,121.9 384.7,121.6 384.8,122.0 385.0,121.4 385.1,122.0 385.2,121.9 385.4,121.9 385.5,121.6 385.7,121.9 385.8,122.1 385.9,121.9 386.1,122.0 386.2,122.0 386.3,122.1 386.5,122.0 386.6,122.0 386.7,122.1 386.9,122.2 387.0,122.4 387.2,122.1 387.3,122.2 387.4,122.2 387.6,122.4 387.7,122.1 387.8,122.1 388.0,122.1 388.1,122.3 388.2,121.9 388.4,122.2 388.5,121.9 388.7,122.1 388.8,122.4 388.9,122.0 389.1,122.4 389.2,122.1 389.3,122.5 389.5,121.9 389.6,121.6 389.7,121.9 389.9,122.0 390.0,121.7 390.2,121.9 390.3,121.6 390.4,121.6 390.6,121.8 390.7,121.2 390.8,121.6 391.0,121.8 391.1,121.4 391.2,121.6 391.4,121.7 391.5,122.1 391.7,121.7 391.8,121.9 391.9,122.1 392.1,121.8 392.2,122.0 392.3,122.0 392.5,122.3 392.6,122.3 392.7,122.6 392.9,121.9 393.0,122.0 393.2,122.3 393.3,122.9 393.4,122.0 393.6,122.1 393.7,122.5 393.8,122.2 394.0,122.3 394.1,122.5 394.2,122.2 394.4,122.1 394.5,122.2 394.7,122.2 394.8,121.9 394.9,121.9 395.1,122.3 395.2,121.9 395.3,122.0 395.5,121.8 395.6,122.0 395.7,122.2 395.9,122.1 396.0,122.1 396.2,121.9 396.3,122.0 396.4,122.0 396.6,122.3 396.7,122.2 396.8,122.3 397.0,122.5 397.1,122.4 397.2,122.2 397.4,122.1 397.5,122.1 397.7,122.2 397.8,122.6 397.9,122.2 398.1,122.4 398.2,122.0 398.3,122.4 398.5,122.0 398.6,121.8 398.8,121.8 398.9,122.3 399.0,122.0 399.2,122.1 399.3,122.2 399.4,122.2 399.6,122.4 399.7,122.2 399.8,121.9 400.0,122.1 400.1,122.1 400.3,122.2 400.4,122.6 400.5,122.4 400.7,122.4 400.8,121.8 400.9,122.4 401.1,122.1 401.2,122.5 401.3,122.1 401.5,121.9 401.6,121.8 401.8,122.1 401.9,121.8 402.0,122.1 402.2,121.9 402.3,122.1 402.4,121.6 402.6,122.2 402.7,122.0 402.8,122.1 403.0,121.8 403.1,122.2 403.3,121.8 403.4,122.3 403.5,121.6 403.7,121.9 403.8,122.2 403.9,121.8 404.1,121.8 404.2,121.9 404.3,121.7 404.5,122.0 404.6,121.5 404.8,121.5 404.9,122.0 405.0,121.6 405.2,121.9 405.3,121.9 405.4,122.2 405.6,122.0 405.7,121.8 405.8,121.9 406.0,121.9 406.1,122.4 406.3,121.9 406.4,122.1 406.5,122.2 406.7,122.2 406.8,122.0 406.9,122.4 407.1,122.3 407.2,122.0 407.3,122.1 407.5,121.8 407.6,121.9 407.8,122.3 407.9,122.2 408.0,122.3 408.2,122.3 408.3,122.3 408.4,122.1 408.6,122.3 408.7,122.0 408.8,122.3 409.0,121.9 409.1,122.2 409.3,122.3 409.4,122.4 409.5,122.0 409.7,122.1 409.8,122.1 409.9,122.3 410.1,122.4 410.2,121.9 410.4,122.0 410.5,122.1 410.6,122.3 410.8,122.5 410.9,121.9 411.0,122.2 411.2,122.2 411.3,122.2 411.4,122.3 411.6,122.3 411.7,122.1 411.9,122.3 412.0,122.5 412.1,122.2 412.3,122.1 412.4,122.4 412.5,122.0 412.7,122.1 412.8,122.0 412.9,122.3 413.1,121.7 413.2,122.1 413.4,122.0 413.5,121.8 413.6,122.1 413.8,122.2 413.9,121.8 414.0,122.2 414.2,122.1 414.3,122.1 414.4,122.0 414.6,122.5 414.7,122.0 414.9,122.2 415.0,122.3 415.1,122.3 415.3,122.2 415.4,122.0 415.5,121.9 415.7,121.9 415.8,122.3 415.9,121.9 416.1,122.0 416.2,121.6 416.4,121.9 416.5,121.4 416.6,122.0 416.8,122.0 416.9,121.8 417.0,121.7 417.2,121.7 417.3,122.0 417.4,122.2 417.6,122.1 417.7,122.2 417.9,121.8 418.0,122.1 418.1,122.4 418.3,121.7 418.4,122.0 418.5,122.3 418.7,122.6 418.8,122.5 418.9,122.0 419.1,122.2 419.2,121.9 419.4,121.7 419.5,121.8 419.6,122.1 419.8,121.9 419.9,122.3 420.0,122.1 420.2,122.0 420.3,122.3 420.4,121.7 420.6,121.9 420.7,122.2 420.9,122.4 421.0,121.9 421.1,122.2 421.3,122.1 421.4,122.0 421.5,122.2 421.7,121.9 421.8,122.2 422.0,122.1 422.1,122.1 422.2,122.0 422.4,122.4 422.5,122.2 422.6,122.2 422.8,122.4 422.9,122.6 423.0,122.1 423.2,122.5 423.3,122.1 423.5,122.3 423.6,122.6 423.7,122.1 423.9,122.3 424.0,122.2 424.1,122.0 424.3,122.1 424.4,122.0 424.5,122.0 424.7,122.5 424.8,122.3 425.0,122.2 425.1,122.0 425.2,122.5 425.4,122.3 425.5,122.1 425.6,122.3 425.8,122.5 425.9,122.4 426.0,122.0 426.2,122.1 426.3,121.9 426.5,122.0 426.6,122.2 426.7,122.0 426.9,122.2 427.0,122.3 427.1,121.8 427.3,122.1 427.4,121.7 427.5,121.9 427.7,121.7 427.8,121.9 428.0,121.8 428.1,122.0 428.2,121.9 428.4,121.4 428.5,121.6 428.6,121.6 428.8,121.8 428.9,121.3 429.0,121.6 429.2,121.8 429.3,121.7 429.5,121.7 429.6,121.5 429.7,121.6 429.9,121.8 430.0,121.7 430.1,121.8 430.3,121.6 430.4,121.9 430.5,121.4 430.7,121.8 430.8,121.8 431.0,121.6 431.1,121.8 431.2,122.3 431.4,122.0 431.5,122.2 431.6,122.0 431.8,122.1 431.9,122.0 432.0,122.1 432.2,121.9 432.3,122.0 432.5,122.1 432.6,122.0 432.7,122.0 432.9,122.4 433.0,122.1 433.1,121.8 433.3,122.2 433.4,122.1 433.6,122.3 433.7,122.1 433.8,122.3 434.0,121.9 434.1,121.7 434.2,121.9 434.4,121.9 434.5,121.9 434.6,121.8 434.8,121.9 434.9,121.5 435.1,121.6 435.2,121.7 435.3,121.9 435.5,121.9 435.6,121.8 435.7,122.1 435.9,122.1 436.0,122.2 436.1,122.2 436.3,122.0 436.4,122.3 436.6,122.1 436.7,121.9 436.8,122.1 437.0,122.4 437.1,122.1 437.2,122.3 437.4,122.3 437.5,121.8 437.6,122.0 437.8,121.9 437.9,121.9 438.1,122.1 438.2,121.9 438.3,121.5 438.5,121.6 438.6,121.8 438.7,121.8 438.9,122.1 439.0,121.7 439.1,121.9 439.3,121.9 439.4,121.8 439.6,122.1 439.7,122.3 439.8,122.3 440.0,121.9 440.1,122.2 440.2,122.2 440.4,122.0 440.5,122.2 440.6,122.1 440.8,122.0 440.9,122.3 441.1,122.5 441.2,122.1 441.3,122.3 441.5,122.1 441.6,122.1 441.7,121.9 441.9,121.9 442.0,121.8 442.1,121.8 442.3,122.0 442.4,122.0 442.6,122.0 442.7,121.6 442.8,121.8 443.0,122.3 443.1,122.1 443.2,122.4 443.4,122.1 443.5,122.2 443.6,122.3 443.8,122.4 443.9,122.4 444.1,122.3 444.2,122.3 444.3,122.2 444.5,122.4 444.6,122.6 444.7,122.7 444.9,122.2 445.0,122.6 445.1,122.3 445.3,122.4 445.4,122.6 445.6,122.2 445.7,122.5 445.8,122.5 446.0,121.9 446.1,122.6 446.2,122.2 446.4,122.3 446.5,122.5 446.7,121.9 446.8,121.9 446.9,122.3 447.1,122.1 447.2,121.9 447.3,122.4 447.5,122.5 447.6,122.2 447.7,122.1 447.9,121.7 448.0,122.4 448.2,121.8 448.3,121.9 448.4,122.2 448.6,122.3 448.7,122.4 448.8,122.1 449.0,122.1 449.1,122.1 449.2,122.2 449.4,122.8 449.5,122.2 449.7,122.3 449.8,122.4 449.9,122.4 450.1,122.3 450.2,122.2 450.3,122.0 450.5,122.2 450.6,122.0 450.7,122.4 450.9,122.1 451.0,122.0 451.2,122.0 451.3,121.9 451.4,121.7 451.6,121.8 451.7,122.1 451.8,122.1 452.0,121.9 452.1,122.2 452.2,122.0 452.4,121.8 452.5,122.1 452.7,122.5 452.8,122.3 452.9,122.1 453.1,122.0 453.2,122.1 453.3,122.2 453.5,122.5 453.6,122.2 453.7,122.5 453.9,122.5 454.0,122.2 454.2,122.1 454.3,122.2 454.4,122.4 454.6,122.1 454.7,121.9 454.8,122.0 455.0,122.2 455.1,122.4 455.2,122.0 455.4,122.3 455.5,122.5 455.7,122.1 455.8,121.9 455.9,122.3 456.1,122.4 456.2,122.0 456.3,122.2 456.5,122.3 456.6,122.0 456.7,122.3 456.9,122.7 457.0,122.4 457.2,122.1 457.3,122.1 457.4,122.1 457.6,122.1 457.7,122.1 457.8,122.4 458.0,122.0 458.1,121.9 458.3,122.1 458.4,122.1 458.5,122.3 458.7,122.1 458.8,122.0 458.9,121.8 459.1,122.1 459.2,121.9 459.3,122.3 459.5,121.8 459.6,122.1 459.8,122.2 459.9,122.0 460.0,122.0 460.2,121.9 460.3,122.1 460.4,121.8 460.6,121.8 460.7,121.9 460.8,122.0 461.0,121.8 461.1,121.8 461.3,121.8 461.4,122.0 461.5,122.1 461.7,122.4 461.8,122.2 461.9,122.0 462.1,122.0 462.2,122.4 462.3,122.2 462.5,121.9 462.6,122.3 462.8,122.0 462.9,122.0 463.0,122.1 463.2,122.4 463.3,122.0 463.4,122.0 463.6,122.3 463.7,122.5 463.8,122.2 464.0,122.2 464.1,122.2 464.3,121.8 464.4,122.0 464.5,121.9 464.7,121.7 464.8,122.1 464.9,122.2 465.1,122.0 465.2,122.0 465.3,122.0 465.5,122.3 465.6,121.9 465.8,121.9 465.9,122.1 466.0,122.0 466.2,121.9 466.3,122.0 466.4,122.1 466.6,122.4 466.7,122.2 466.8,122.0 467.0,122.0 467.1,122.0 467.3,121.9 467.4,122.0 467.5,121.9 467.7,121.9 467.8,122.2 467.9,122.1 468.1,122.3 468.2,121.9 468.3,122.1 468.5,122.1 468.6,122.0 468.8,122.2 468.9,122.0 469.0,121.8 469.2,122.2 469.3,122.2 469.4,122.0 469.6,122.0 469.7,121.9 469.9,121.8 470.0,122.0 470.1,121.9 470.3,122.2 470.4,122.0 470.5,122.3 470.7,122.3 470.8,122.0 470.9,122.0 471.1,122.3 471.2,122.3 471.4,122.2 471.5,122.2 471.6,121.9 471.8,122.3 471.9,122.1 472.0,122.1 472.2,122.1 472.3,122.1 472.4,122.0 472.6,122.0 472.7,122.0 472.9,121.8 473.0,122.1 473.1,122.0 473.3,121.9 473.4,121.9 473.5,122.1 473.7,122.3 473.8,122.3 473.9,122.2 474.1,122.0 474.2,122.1 474.4,122.3 474.5,121.9 474.6,122.1 474.8,122.2 474.9,122.3 475.0,122.1 475.2,122.3 475.3,122.1 475.4,122.3 475.6,122.3 475.7,122.4 475.9,122.4 476.0,122.0 476.1,122.5 476.3,122.3 476.4,122.0 476.5,122.3 476.7,122.1 476.8,121.9 476.9,122.6 477.1,122.3 477.2,122.1 477.4,121.9 477.5,121.5 477.6,121.9 477.8,122.0 477.9,122.1 478.0,121.7 478.2,121.7 478.3,121.8 478.4,121.9 478.6,121.8 478.7,121.4 478.9,121.9 479.0,121.7 479.1,122.1 479.3,122.2 479.4,121.7 479.5,122.4 479.7,122.3 479.8,121.9 479.9,122.2 480.1,122.4 480.2,121.8 480.4,122.1 480.5,122.4 480.6,122.1 480.8,122.4 480.9,122.4 481.0,122.3 481.2,122.0 481.3,122.3 481.4,122.4 481.6,121.9 481.7,122.5 481.9,122.1 482.0,122.6 482.1,122.3 482.3,122.5 482.4,122.3 482.5,122.0 482.7,121.8 482.8,122.1 483.0,122.2 483.1,122.1 483.2,122.0 483.4,122.5 483.5,121.9 483.6,122.5 483.8,121.9 483.9,122.0 484.0,122.0 484.2,122.2 484.3,122.0 484.5,122.4 484.6,122.0 484.7,122.2 484.9,122.2 485.0,122.2 485.1,122.2 485.3,122.1 485.4,121.7 485.5,122.0 485.7,122.1 485.8,122.0 486.0,121.8 486.1,122.2 486.2,121.9 486.4,122.1 486.5,121.9 486.6,122.2 486.8,122.1 486.9,122.4 487.0,122.0 487.2,122.4 487.3,122.3 487.5,122.2 487.6,122.4 487.7,122.2 487.9,122.5 488.0,122.8 488.1,122.6 488.3,122.2 488.4,122.4 488.5,122.4 488.7,122.4 488.8,122.4 489.0,121.9 489.1,122.1 489.2,121.6 489.4,122.2 489.5,122.1 489.6,121.9 489.8,121.9 489.9,121.7 490.0,121.8 490.2,121.8 490.3,121.8 490.5,121.9 490.6,122.0 490.7,122.0 490.9,122.0 491.0,122.1 491.1,122.3 491.3,122.2 491.4,122.1 491.5,122.3 491.7,122.2 491.8,122.4 492.0,122.2 492.1,122.3 492.2,122.3 492.4,122.0 492.5,121.9 492.6,122.2 492.8,122.0 492.9,122.5 493.0,122.1 493.2,122.2 493.3,121.8 493.5,121.9 493.6,121.9 493.7,122.1 493.9,122.1 494.0,121.6 494.1,122.1 494.3,122.2 494.4,121.8 494.6,121.8 494.7,121.6 494.8,121.8 495.0,122.3 495.1,121.9 495.2,122.0 495.4,122.1 495.5,122.1 495.6,122.1 495.8,121.9 495.9,122.2 496.1,122.3 496.2,122.3 496.3,122.0 496.5,122.1 496.6,122.1 496.7,121.8 496.9,121.8 497.0,121.8 497.1,122.1 497.3,121.8 497.4,121.8 497.6,122.0 497.7,121.9 497.8,122.0 498.0,121.6 498.1,121.9 498.2,121.7 498.4,121.8 498.5,121.8 498.6,122.1 498.8,122.2 498.9,122.3 499.1,121.7 499.2,122.0 499.3,122.0 499.5,122.1 499.6,122.2 499.7,121.8 499.9,122.3 500.0,122.2 500.1,121.7 500.3,122.0 500.4,122.4 500.6,122.1 500.7,122.0 500.8,122.2 501.0,122.0 501.1,121.7 501.2,121.5 501.4,122.0 501.5,121.8 501.6,121.9 501.8,121.3 501.9,121.9 502.1,121.7 502.2,121.6 502.3,122.0 502.5,121.9 502.6,122.1 502.7,121.6 502.9,121.9 503.0,121.7 503.1,122.0 503.3,122.1 503.4,121.9 503.6,122.0 503.7,122.2 503.8,122.3 504.0,122.2 504.1,122.1 504.2,122.4 504.4,122.0 504.5,122.1 504.6,121.9 504.8,122.2 504.9,122.3 505.1,122.2 505.2,122.3 505.3,122.2 505.5,122.1 505.6,122.1 505.7,122.0 505.9,122.2 506.0,121.9 506.2,122.0 506.3,122.0 506.4,121.9 506.6,121.9 506.7,122.1 506.8,122.2 507.0,121.8 507.1,121.7 507.2,121.8 507.4,122.3 507.5,122.0 507.7,122.0 507.8,122.1 507.9,121.6 508.1,121.9 508.2,121.6 508.3,122.0 508.5,122.1 508.6,121.6 508.7,121.7 508.9,122.2 509.0,121.8 509.2,122.1 509.3,121.8 509.4,122.1 509.6,122.5 509.7,122.2 509.8,122.3 510.0,122.2 510.1,122.5 510.2,122.1 510.4,122.3 510.5,122.5 510.7,122.2 510.8,122.5 510.9,122.2 511.1,122.3 511.2,122.1 511.3,122.4 511.5,122.4 511.6,122.4 511.7,122.1 511.9,122.2 512.0,122.4 512.2,122.4 512.3,122.1 512.4,122.2 512.6,122.4 512.7,122.4 512.8,122.2 513.0,122.0 513.1,122.0 513.2,121.9 513.4,122.1 513.5,122.1 513.7,121.8 513.8,122.1 513.9,122.2 514.1,122.2 514.2,122.1 514.3,121.9 514.5,122.4 514.6,122.4 514.7,122.3 514.9,122.0 515.0,122.3 515.2,121.5 515.3,122.2 515.4,121.8 515.6,121.8 515.7,121.7 515.8,121.6 516.0,121.8 516.1,121.9 516.2,121.9 516.4,122.1 516.5,122.2 516.7,122.0 516.8,122.1 516.9,122.2 517.1,122.1 517.2,121.8 517.3,122.3 517.5,122.0 517.6,122.1 517.7,121.9 517.9,121.7 518.0,122.2 518.2,122.0 518.3,122.1 518.4,121.8 518.5,121.8 518.5,121.8 518.6,122.2 518.6,122.1 518.6,122.0 518.7,121.9 518.7,122.0 518.7,121.9 518.8,121.9 518.8,122.0 518.8,122.1 518.9,117.1 518.9,111.7 518.9,106.7 519.0,101.6 519.0,106.1 519.0,110.1 519.1,112.9 519.1,115.0 519.1,116.8 519.2,118.0 519.2,119.0 519.3,119.8 519.3,120.3 519.3,120.2 519.4,120.9 519.4,120.6 519.4,121.2 519.5,121.4 519.5,121.6 519.5,121.4 519.6,121.7 519.6,121.5 519.6,121.8 519.7,121.7 519.7,121.3 519.7,122.1 519.8,121.8 519.8,121.6 519.8,121.7 519.9,121.8 519.9,122.0 519.9,122.0 520.0,121.6 520.0,122.0 520.0,121.7 520.1,121.6 520.1,122.1 520.1,121.8 520.2,122.1 520.2,121.9 520.2,121.9 520.3,121.8 520.3,121.6 520.3,121.7 520.4,121.7 520.4,121.7 520.4,121.7 520.5,121.2 520.5,121.6 520.5,122.0 520.6,121.5 520.6,121.8 520.6,121.3 520.7,121.4 520.7,121.5 520.8,121.1 520.8,121.2 520.8,121.2 520.9,121.0 520.9,121.3 520.9,120.9 521.0,121.0 521.0,121.3 521.0,121.0 521.1,121.3 521.1,121.3 521.1,121.2 521.2,121.2 521.2,121.2 521.2,121.8 521.3,121.5 521.3,121.3 521.3,121.6 521.4,121.5 521.4,121.7 521.4,121.4 521.5,121.2 521.5,121.9 521.5,121.7 521.6,121.6 521.7,121.3 521.8,121.5 522.0,121.8 522.1,122.0 522.3,121.5 522.4,121.9 522.5,121.5 522.7,122.0 522.8,121.6 522.9,121.9 523.1,122.1 523.2,121.9 523.3,122.1 523.5,121.8 523.6,122.4 523.8,122.2 523.9,122.0 524.0,122.4 524.2,121.9 524.3,122.2 524.4,122.2 524.6,122.2 524.7,122.2 524.8,122.3 525.0,121.8 525.1,122.0 525.3,121.7 525.4,122.1 525.5,122.1 525.7,121.9 525.8,122.0" fill="none" stroke="#EDB120" stroke-width="0.8" stroke-linejoin="round" stroke-dasharray="7.2 3.7" stroke-dashoffset="0"/></g><text x="331.50" y="172.10" text-anchor="middle" font-size="16.3" textLength="7.73" lengthAdjust="spacingAndGlyphs">0</text><text x="399.73" y="172.10" text-anchor="middle" font-size="16.3" textLength="15.56" lengthAdjust="spacingAndGlyphs">20</text><text x="467.97" y="172.10" text-anchor="middle" font-size="16.3" textLength="15.56" lengthAdjust="spacingAndGlyphs">40</text><text x="536.20" y="172.10" text-anchor="middle" font-size="16.3" textLength="15.56" lengthAdjust="spacingAndGlyphs">60</text><text x="325.75" y="156.95" text-anchor="end" font-size="16.3" textLength="29.99" lengthAdjust="spacingAndGlyphs">-400</text><text x="325.75" y="119.08" text-anchor="end" font-size="16.3" textLength="29.99" lengthAdjust="spacingAndGlyphs">-200</text><text x="325.75" y="81.20" text-anchor="end" font-size="16.3" textLength="7.73" lengthAdjust="spacingAndGlyphs">0</text><text x="433.65" y="68.65" text-anchor="middle" font-size="17.3" textLength="22.6" lengthAdjust="spacingAndGlyphs">M2</text></g>
<g><line x1="61.85" y1="212.6" x2="61.85" y2="341.75" stroke="#e4e4e4" stroke-width="0.8"/><line x1="130.17" y1="212.6" x2="130.17" y2="341.75" stroke="#e4e4e4" stroke-width="0.8"/><line x1="198.48" y1="212.6" x2="198.48" y2="341.75" stroke="#e4e4e4" stroke-width="0.8"/><line x1="266.80" y1="212.6" x2="266.80" y2="341.75" stroke="#e4e4e4" stroke-width="0.8"/><line x1="61.85" y1="341.75" x2="266.8" y2="341.75" stroke="#e4e4e4" stroke-width="0.8"/><line x1="61.85" y1="277.18" x2="266.8" y2="277.18" stroke="#e4e4e4" stroke-width="0.8"/><line x1="61.85" y1="212.60" x2="266.8" y2="212.60" stroke="#e4e4e4" stroke-width="0.8"/><path d="M61.85 212.6V341.75H266.8" fill="none" stroke="#707070" stroke-width="1"/><path d="M61.85 341.75v-2M130.17 341.75v-2M198.48 341.75v-2M266.80 341.75v-2M61.85 341.75h2M61.85 277.18h2M61.85 212.60h2" fill="none" stroke="#707070" stroke-width="1"/><g filter="url(#soft)"><polyline points="61.9,230.4 61.9,230.4 61.9,230.4 62.0,230.4 62.0,230.4 62.0,230.4 62.1,230.4 62.1,230.4 62.1,230.4 62.2,230.4 62.2,230.4 62.2,230.4 62.3,230.4 62.3,230.4 62.3,230.4 62.4,230.4 62.4,230.4 62.4,230.4 62.5,230.4 62.5,230.4 62.5,230.4 62.6,230.4 62.6,230.4 62.6,230.4 62.7,230.4 62.7,230.4 62.7,230.4 62.8,230.4 62.8,230.4 62.8,230.4 62.9,230.4 62.9,230.4 62.9,230.4 63.0,230.4 63.0,230.4 63.0,230.4 63.1,230.4 63.1,230.4 63.1,230.4 63.2,230.4 63.2,230.4 63.3,230.4 63.3,230.4 63.3,230.4 63.4,230.4 63.4,230.4 63.4,230.4 63.5,230.4 63.5,230.4 63.5,230.4 63.6,230.4 63.6,230.4 63.6,230.4 63.7,230.4 63.7,230.4 63.7,230.4 63.8,230.4 63.8,230.4 63.8,241.2 63.9,252.1 63.9,263.0 63.9,273.9 64.0,284.8 64.0,295.6 64.0,306.5 64.1,317.4 64.1,328.3 64.1,339.2 64.2,335.7 64.2,332.5 64.2,329.4 64.3,326.4 64.3,323.6 64.3,320.9 64.4,318.3 64.4,315.6 64.4,313.7 64.5,310.5 64.5,309.0 64.5,307.9 64.6,305.2 64.6,303.3 64.7,302.5 64.7,300.1 64.7,298.7 64.8,296.7 64.8,295.1 64.8,294.5 64.9,292.7 64.9,291.8 64.9,290.1 65.0,289.7 65.0,287.7 65.0,286.9 65.1,285.8 65.1,285.5 65.1,284.6 65.2,283.5 65.2,282.7 65.2,281.9 65.3,281.2 65.3,280.8 65.3,279.4 65.4,279.2 65.4,278.1 65.4,277.4 65.5,277.5 65.5,276.4 65.5,275.7 65.6,275.8 65.6,275.5 65.6,273.8 65.7,274.0 65.7,274.0 65.7,273.3 65.8,272.7 65.8,273.0 65.8,271.6 65.9,272.2 65.9,271.3 65.9,271.7 66.0,270.7 66.0,270.9 66.1,270.6 66.1,270.5 66.1,271.0 66.2,269.7 66.2,269.1 66.2,270.2 66.3,269.0 66.3,269.3 66.3,269.6 66.4,269.9 66.4,269.0 66.4,267.9 66.5,268.2 66.5,267.9 66.5,268.6 66.6,268.6 66.6,268.0 66.6,268.2 66.7,267.7 66.7,267.6 66.7,267.1 66.8,267.6 66.8,267.3 66.8,267.1 66.9,267.4 66.9,267.3 66.9,266.8 67.0,267.2 67.0,266.9 67.0,266.6 67.1,266.8 67.1,267.0 67.1,267.7 67.2,266.9 67.2,267.4 67.2,266.9 67.3,266.7 67.3,266.8 67.5,266.3 67.6,266.2 67.7,265.6 67.9,266.3 68.0,266.5 68.1,265.6 68.3,265.7 68.4,265.6 68.5,265.6 68.7,265.6 68.8,265.6 69.0,265.7 69.1,266.4 69.2,265.8 69.4,265.7 69.5,265.9 69.6,265.6 69.8,265.7 69.9,265.4 70.0,265.8 70.2,265.5 70.3,266.4 70.5,265.1 70.6,265.4 70.7,264.8 70.9,265.2 71.0,265.4 71.1,265.3 71.3,264.6 71.4,264.8 71.6,265.1 71.7,265.5 71.8,265.4 72.0,265.3 72.1,265.4 72.2,265.4 72.4,265.5 72.5,265.6 72.6,266.1 72.8,265.1 72.9,265.9 73.1,265.6 73.2,266.2 73.3,265.3 73.5,265.5 73.6,265.6 73.7,265.8 73.9,265.5 74.0,264.8 74.1,265.6 74.3,264.6 74.4,265.2 74.6,264.9 74.7,265.2 74.8,265.0 75.0,265.3 75.1,265.4 75.2,266.3 75.4,264.7 75.5,266.0 75.6,265.2 75.8,265.9 75.9,265.4 76.1,265.8 76.2,265.4 76.3,266.1 76.5,265.9 76.6,266.6 76.7,266.7 76.9,265.8 77.0,265.4 77.2,265.8 77.3,266.1 77.4,265.3 77.6,265.6 77.7,265.3 77.8,266.1 78.0,265.8 78.1,266.5 78.2,266.4 78.4,265.6 78.5,265.4 78.7,265.6 78.8,265.5 78.9,265.9 79.1,265.7 79.2,265.4 79.3,266.4 79.5,265.3 79.6,265.6 79.7,265.9 79.9,265.5 80.0,265.9 80.2,266.6 80.3,265.7 80.4,266.0 80.6,265.8 80.7,265.9 80.8,265.9 81.0,266.0 81.1,266.1 81.3,266.4 81.4,265.7 81.5,266.2 81.7,265.9 81.8,266.1 81.9,265.2 82.1,265.3 82.2,265.9 82.3,264.9 82.5,264.9 82.6,265.4 82.8,265.5 82.9,265.6 83.0,265.2 83.2,264.5 83.3,265.8 83.4,265.8 83.6,264.9 83.7,265.3 83.8,265.1 84.0,264.3 84.1,265.5 84.3,265.1 84.4,265.2 84.5,265.0 84.7,265.1 84.8,265.2 84.9,265.5 85.1,265.6 85.2,265.3 85.4,265.2 85.5,265.5 85.6,265.4 85.8,266.4 85.9,264.7 86.0,265.7 86.2,265.9 86.3,266.4 86.4,265.6 86.6,266.0 86.7,265.7 86.9,265.8 87.0,266.1 87.1,265.8 87.3,265.7 87.4,265.6 87.5,265.4 87.7,265.8 87.8,265.7 87.9,265.8 88.1,265.6 88.2,265.7 88.4,265.6 88.5,265.6 88.6,265.3 88.8,265.1 88.9,266.0 89.0,265.2 89.2,264.8 89.3,264.8 89.4,265.4 89.6,265.8 89.7,265.3 89.9,265.7 90.0,264.8 90.1,264.9 90.3,266.1 90.4,265.4 90.5,265.7 90.7,265.4 90.8,265.3 91.0,265.9 91.1,265.3 91.2,265.4 91.4,265.8 91.5,265.2 91.6,265.5 91.8,266.1 91.9,265.8 92.0,265.9 92.2,264.5 92.3,264.9 92.5,265.0 92.6,264.7 92.7,264.8 92.9,264.8 93.0,264.8 93.1,264.8 93.3,265.1 93.4,264.4 93.5,265.3 93.7,264.7 93.8,265.4 94.0,264.2 94.1,265.7 94.2,265.9 94.4,265.2 94.5,264.7 94.6,265.1 94.8,264.8 94.9,265.9 95.1,265.5 95.2,265.5 95.3,264.8 95.5,265.2 95.6,265.1 95.7,265.7 95.9,265.1 96.0,265.8 96.1,265.2 96.3,266.1 96.4,265.1 96.6,265.9 96.7,264.8 96.8,266.1 97.0,265.4 97.1,265.3 97.2,265.8 97.4,265.8 97.5,265.4 97.6,265.7 97.8,265.1 97.9,265.4 98.1,265.6 98.2,265.5 98.3,265.9 98.5,265.8 98.6,265.6 98.7,266.0 98.9,266.2 99.0,265.9 99.2,266.1 99.3,266.3 99.4,265.5 99.6,265.0 99.7,265.2 99.8,265.5 100.0,265.5 100.1,264.9 100.2,265.4 100.4,264.8 100.5,265.1 100.7,265.6 100.8,266.3 100.9,264.6 101.1,265.4 101.2,265.4 101.3,265.7 101.5,265.2 101.6,265.6 101.7,266.6 101.9,266.1 102.0,266.0 102.2,265.3 102.3,266.1 102.4,265.4 102.6,265.9 102.7,265.9 102.8,265.4 103.0,265.6 103.1,265.0 103.2,265.0 103.4,265.4 103.5,265.7 103.7,265.6 103.8,266.1 103.9,265.5 104.1,266.0 104.2,264.8 104.3,265.3 104.5,266.1 104.6,265.7 104.8,265.8 104.9,265.5 105.0,265.1 105.2,265.9 105.3,264.4 105.4,265.7 105.6,265.1 105.7,265.4 105.8,265.2 106.0,265.6 106.1,266.1 106.3,265.1 106.4,265.0 106.5,265.5 106.7,265.4 106.8,266.0 106.9,265.8 107.1,265.7 107.2,266.2 107.3,266.3 107.5,265.7 107.6,266.4 107.8,266.0 107.9,265.8 108.0,266.1 108.2,266.3 108.3,265.6 108.4,265.7 108.6,265.9 108.7,265.6 108.9,265.1 109.0,265.2 109.1,265.1 109.3,264.9 109.4,265.2 109.5,264.9 109.7,265.3 109.8,264.6 109.9,265.6 110.1,265.3 110.2,265.0 110.4,265.6 110.5,265.1 110.6,265.0 110.8,265.2 110.9,265.4 111.0,265.1 111.2,264.6 111.3,265.5 111.4,264.7 111.6,265.3 111.7,265.7 111.9,264.8 112.0,264.9 112.1,265.2 112.3,265.2 112.4,265.5 112.5,264.8 112.7,265.0 112.8,265.4 113.0,265.4 113.1,264.9 113.2,264.8 113.4,265.9 113.5,265.2 113.6,265.1 113.8,265.7 113.9,265.8 114.0,266.0 114.2,266.1 114.3,265.5 114.5,265.5 114.6,265.7 114.7,265.6 114.9,265.3 115.0,266.0 115.1,265.6 115.3,265.5 115.4,265.3 115.5,265.4 115.7,265.5 115.8,264.7 116.0,264.5 116.1,265.8 116.2,265.6 116.4,264.9 116.5,265.1 116.6,264.3 116.8,265.4 116.9,264.9 117.0,265.0 117.2,265.1 117.3,265.2 117.5,265.4 117.6,264.6 117.7,265.4 117.9,265.0 118.0,265.9 118.1,265.6 118.3,265.7 118.4,265.8 118.6,265.4 118.7,265.4 118.8,265.6 119.0,266.0 119.1,265.3 119.2,265.7 119.4,264.8 119.5,265.3 119.6,265.7 119.8,264.6 119.9,265.2 120.1,265.8 120.2,265.8 120.3,265.3 120.5,265.7 120.6,265.4 120.7,265.7 120.9,266.5 121.0,265.9 121.1,266.5 121.3,266.2 121.4,265.6 121.6,265.1 121.7,266.6 121.8,264.9 122.0,266.3 122.1,265.5 122.2,265.5 122.4,265.5 122.5,266.3 122.7,265.3 122.8,265.2 122.9,265.8 123.1,265.0 123.2,265.2 123.3,264.9 123.5,265.7 123.6,265.4 123.7,265.6 123.9,265.5 124.0,265.2 124.2,266.1 124.3,265.6 124.4,265.2 124.6,265.7 124.7,265.2 124.8,265.3 125.0,265.5 125.1,266.1 125.2,265.1 125.4,265.3 125.5,265.3 125.7,265.6 125.8,265.3 125.9,265.9 126.1,265.3 126.2,265.1 126.3,265.7 126.5,265.5 126.6,266.1 126.8,265.1 126.9,264.8 127.0,265.5 127.2,265.3 127.3,265.4 127.4,265.3 127.6,265.7 127.7,265.7 127.8,266.1 128.0,265.4 128.1,266.0 128.3,265.5 128.4,265.6 128.5,265.2 128.7,264.8 128.8,265.4 128.9,265.2 129.1,265.5 129.2,264.8 129.3,265.4 129.5,264.6 129.6,264.5 129.8,264.7 129.9,264.7 130.0,264.8 130.2,264.4 130.3,265.5 130.4,265.3 130.6,265.1 130.7,265.0 130.8,266.0 131.0,265.3 131.1,266.0 131.3,265.0 131.4,266.0 131.5,265.2 131.7,266.2 131.8,265.8 131.9,266.4 132.1,265.9 132.2,266.0 132.4,265.3 132.5,266.4 132.6,266.1 132.8,266.5 132.9,265.1 133.0,266.0 133.2,265.7 133.3,265.3 133.4,265.0 133.6,265.3 133.7,265.9 133.9,264.7 134.0,265.6 134.1,265.4 134.3,264.9 134.4,264.9 134.5,265.8 134.7,266.0 134.8,265.7 134.9,266.2 135.1,265.5 135.2,265.7 135.4,264.9 135.5,265.9 135.6,265.7 135.8,265.2 135.9,266.2 136.0,266.0 136.2,266.6 136.3,266.3 136.5,266.1 136.6,265.6 136.7,266.0 136.9,265.6 137.0,265.3 137.1,266.2 137.3,265.9 137.4,266.2 137.5,266.1 137.7,265.6 137.8,266.2 138.0,265.3 138.1,265.7 138.2,265.6 138.4,265.6 138.5,266.4 138.6,265.1 138.8,266.1 138.9,266.2 139.0,265.5 139.2,265.3 139.3,266.0 139.5,266.2 139.6,265.4 139.7,266.3 139.9,265.7 140.0,266.6 140.1,265.8 140.3,266.4 140.4,266.2 140.6,265.8 140.7,266.1 140.8,265.7 141.0,265.8 141.1,265.9 141.2,265.9 141.4,266.1 141.5,266.1 141.6,265.4 141.8,266.2 141.9,265.5 142.1,265.7 142.2,265.9 142.3,265.6 142.5,265.7 142.6,266.2 142.7,266.2 142.9,265.9 143.0,265.7 143.1,265.5 143.3,265.7 143.4,265.9 143.6,265.4 143.7,266.1 143.8,265.6 144.0,265.8 144.1,266.3 144.2,264.9 144.4,266.3 144.5,265.9 144.6,265.3 144.8,265.7 144.9,265.7 145.1,265.7 145.2,266.2 145.3,265.3 145.5,265.5 145.6,265.3 145.7,265.2 145.9,265.0 146.0,265.5 146.2,264.7 146.3,264.8 146.4,264.6 146.6,264.5 146.7,264.8 146.8,265.0 147.0,265.5 147.1,265.9 147.2,265.2 147.4,265.4 147.5,265.8 147.7,265.8 147.8,265.5 147.9,264.7 148.1,266.0 148.2,265.6 148.3,265.2 148.5,265.9 148.6,265.4 148.7,265.7 148.9,265.5 149.0,265.9 149.2,266.1 149.3,265.4 149.4,265.9 149.6,265.7 149.7,265.9 149.8,265.8 150.0,265.6 150.1,266.2 150.3,265.6 150.4,265.4 150.5,266.1 150.7,265.4 150.8,264.9 150.9,265.5 151.1,265.3 151.2,265.7 151.3,265.7 151.5,265.4 151.6,265.3 151.8,265.6 151.9,265.9 152.0,266.4 152.2,265.9 152.3,266.0 152.4,265.6 152.6,265.5 152.7,265.9 152.8,266.5 153.0,265.7 153.1,265.9 153.3,265.9 153.4,266.8 153.5,265.8 153.7,265.9 153.8,265.5 153.9,266.1 154.1,265.9 154.2,265.4 154.4,265.4 154.5,265.0 154.6,265.1 154.8,266.0 154.9,265.1 155.0,264.8 155.2,264.8 155.3,264.7 155.4,265.7 155.6,265.4 155.7,265.5 155.9,265.0 156.0,264.4 156.1,264.8 156.3,264.6 156.4,265.7 156.5,265.5 156.7,265.1 156.8,265.0 156.9,265.3 157.1,265.1 157.2,265.6 157.4,264.6 157.5,265.0 157.6,265.2 157.8,264.4 157.9,264.6 158.0,264.5 158.2,265.2 158.3,264.9 158.4,265.3 158.6,265.2 158.7,265.2 158.9,264.7 159.0,264.8 159.1,265.9 159.3,265.6 159.4,265.6 159.5,265.8 159.7,265.6 159.8,265.6 160.0,265.9 160.1,266.2 160.2,265.1 160.4,265.9 160.5,266.2 160.6,265.3 160.8,264.8 160.9,265.1 161.0,265.3 161.2,265.5 161.3,265.1 161.5,265.9 161.6,264.9 161.7,264.6 161.9,264.7 162.0,265.5 162.1,265.3 162.3,265.0 162.4,265.2 162.5,265.0 162.7,264.5 162.8,265.0 163.0,265.7 163.1,265.1 163.2,265.1 163.4,264.7 163.5,265.2 163.6,264.8 163.8,265.5 163.9,264.7 164.1,265.4 164.2,264.9 164.3,264.5 164.5,265.1 164.6,265.4 164.7,264.5 164.9,264.8 165.0,264.6 165.1,265.2 165.3,265.2 165.4,264.7 165.6,265.7 165.7,265.1 165.8,265.0 166.0,265.4 166.1,265.3 166.2,265.0 166.4,264.9 166.5,265.7 166.6,265.5 166.8,265.4 166.9,265.5 167.1,264.7 167.2,265.0 167.3,265.2 167.5,264.7 167.6,265.0 167.7,265.6 167.9,265.2 168.0,265.5 168.2,265.5 168.3,265.4 168.4,265.4 168.6,264.3 168.7,264.8 168.8,264.8 169.0,265.1 169.1,265.7 169.2,265.2 169.4,265.3 169.5,264.8 169.7,265.2 169.8,265.7 169.9,265.1 170.1,265.4 170.2,265.0 170.3,265.3 170.5,265.5 170.6,264.7 170.7,265.1 170.9,265.9 171.0,266.2 171.2,265.6 171.3,266.2 171.4,265.5 171.6,265.5 171.7,265.9 171.8,266.4 172.0,265.5 172.1,265.5 172.2,265.5 172.4,265.6 172.5,266.1 172.7,265.3 172.8,265.1 172.9,265.3 173.1,265.2 173.2,265.6 173.3,265.7 173.5,265.6 173.6,265.5 173.8,266.1 173.9,265.6 174.0,265.7 174.2,265.8 174.3,266.1 174.4,266.0 174.6,265.2 174.7,266.2 174.8,265.7 175.0,265.8 175.1,265.8 175.3,265.5 175.4,265.1 175.5,265.3 175.7,265.1 175.8,265.1 175.9,265.3 176.1,265.6 176.2,264.8 176.3,265.1 176.5,264.7 176.6,265.4 176.8,265.1 176.9,265.0 177.0,265.0 177.2,265.2 177.3,265.4 177.4,265.4 177.6,265.1 177.7,265.4 177.9,265.4 178.0,266.3 178.1,265.8 178.3,266.0 178.4,265.2 178.5,266.1 178.7,266.0 178.8,266.2 178.9,266.0 179.1,266.5 179.2,266.5 179.4,266.1 179.5,266.0 179.6,266.3 179.8,266.1 179.9,265.9 180.0,266.2 180.2,265.4 180.3,266.3 180.4,265.9 180.6,265.8 180.7,265.6 180.9,265.7 181.0,265.4 181.1,265.2 181.3,265.7 181.4,265.0 181.5,265.6 181.7,265.3 181.8,265.4 182.0,265.1 182.1,265.4 182.2,265.5 182.4,265.6 182.5,265.1 182.6,266.1 182.8,266.6 182.9,265.3 183.0,265.7 183.2,264.8 183.3,265.8 183.5,265.4 183.6,265.5 183.7,265.7 183.9,265.7 184.0,265.4 184.1,265.5 184.3,265.6 184.4,265.4 184.5,265.9 184.7,266.1 184.8,265.9 185.0,265.8 185.1,265.6 185.2,265.7 185.4,266.4 185.5,265.3 185.6,265.5 185.8,266.2 185.9,265.5 186.0,265.6 186.2,265.8 186.3,265.5 186.5,265.7 186.6,265.9 186.7,265.9 186.9,265.8 187.0,266.4 187.1,266.3 187.3,266.3 187.4,265.7 187.6,265.7 187.7,265.5 187.8,265.7 188.0,265.2 188.1,265.2 188.2,265.9 188.4,266.2 188.5,266.2 188.6,265.2 188.8,265.7 188.9,265.9 189.1,265.7 189.2,266.1 189.3,265.2 189.5,265.0 189.6,266.1 189.7,265.7 189.9,265.3 190.0,265.6 190.1,266.3 190.3,265.8 190.4,265.7 190.6,265.9 190.7,266.1 190.8,265.9 191.0,265.0 191.1,266.3 191.2,265.1 191.4,265.9 191.5,265.3 191.7,265.1 191.8,266.0 191.9,265.4 192.1,265.3 192.2,265.1 192.3,265.7 192.5,265.8 192.6,266.1 192.7,265.9 192.9,265.7 193.0,266.1 193.2,265.8 193.3,265.9 193.4,265.4 193.6,265.4 193.7,265.6 193.8,265.2 194.0,266.0 194.1,265.1 194.2,265.8 194.4,264.9 194.5,265.1 194.7,264.9 194.8,264.4 194.9,264.7 195.1,265.4 195.2,265.0 195.3,265.1 195.5,264.8 195.6,264.6 195.8,265.3 195.9,265.3 196.0,264.4 196.2,265.4 196.3,265.1 196.4,265.4 196.6,266.0 196.7,265.5 196.8,265.2 197.0,265.6 197.1,265.7 197.3,265.9 197.4,265.9 197.5,265.1 197.7,265.1 197.8,265.7 197.9,265.6 198.1,265.5 198.2,266.1 198.3,265.7 198.5,265.5 198.6,265.3 198.8,265.6 198.9,265.7 199.0,265.2 199.2,265.6 199.3,265.8 199.4,265.6 199.6,265.9 199.7,266.2 199.8,265.6 200.0,265.8 200.1,265.8 200.3,265.3 200.4,266.0 200.5,266.2 200.7,265.8 200.8,266.2 200.9,265.6 201.1,266.4 201.2,265.8 201.4,265.7 201.5,265.9 201.6,265.9 201.8,265.7 201.9,265.3 202.0,265.9 202.2,266.0 202.3,265.9 202.4,265.5 202.6,266.2 202.7,265.5 202.9,265.9 203.0,265.8 203.1,266.2 203.3,265.9 203.4,265.2 203.5,264.9 203.7,266.1 203.8,265.5 203.9,265.7 204.1,265.5 204.2,265.5 204.4,266.1 204.5,265.7 204.6,266.1 204.8,264.8 204.9,265.4 205.0,265.9 205.2,265.4 205.3,265.2 205.5,265.5 205.6,265.0 205.7,266.0 205.9,265.2 206.0,265.0 206.1,265.5 206.3,265.6 206.4,265.1 206.5,265.3 206.7,265.9 206.8,265.6 207.0,265.3 207.1,265.2 207.2,265.2 207.4,264.9 207.5,264.9 207.6,264.9 207.8,265.6 207.9,265.3 208.0,265.2 208.2,265.5 208.3,266.2 208.5,265.6 208.6,265.2 208.7,265.0 208.9,265.2 209.0,265.2 209.1,265.1 209.3,265.4 209.4,265.3 209.6,264.8 209.7,265.8 209.8,265.2 210.0,265.7 210.1,265.2 210.2,264.8 210.4,266.1 210.5,265.2 210.6,265.0 210.8,265.7 210.9,265.5 211.1,265.7 211.2,265.6 211.3,265.3 211.5,265.7 211.6,265.9 211.7,265.3 211.9,265.7 212.0,266.2 212.1,265.9 212.3,266.1 212.4,266.0 212.6,266.0 212.7,265.9 212.8,265.3 213.0,266.5 213.1,266.2 213.2,265.4 213.4,265.9 213.5,265.4 213.6,266.0 213.8,265.3 213.9,265.0 214.1,265.1 214.2,265.3 214.3,265.7 214.5,265.7 214.6,265.5 214.7,265.8 214.9,265.3 215.0,265.5 215.2,266.0 215.3,265.7 215.4,266.5 215.6,265.5 215.7,265.9 215.8,266.0 216.0,266.3 216.1,266.0 216.2,265.2 216.4,265.6 216.5,266.3 216.7,265.9 216.8,266.1 216.9,265.1 217.1,265.3 217.2,265.6 217.3,265.0 217.5,265.3 217.6,265.4 217.7,265.1 217.9,265.1 218.0,265.7 218.2,265.8 218.3,265.8 218.4,265.0 218.6,265.1 218.7,265.6 218.8,265.6 219.0,265.7 219.1,265.4 219.3,265.5 219.4,265.3 219.5,266.0 219.7,265.2 219.8,265.1 219.9,265.2 220.1,265.3 220.2,265.2 220.3,265.5 220.5,265.0 220.6,265.8 220.8,266.3 220.9,265.5 221.0,265.1 221.2,265.8 221.3,265.3 221.4,266.0 221.6,265.6 221.7,265.3 221.8,265.5 222.0,265.4 222.1,265.3 222.3,265.8 222.4,265.8 222.5,265.6 222.7,265.6 222.8,265.7 222.9,265.0 223.1,265.7 223.2,265.5 223.4,265.6 223.5,265.5 223.6,265.0 223.8,265.0 223.9,265.3 224.0,265.2 224.2,265.5 224.3,266.1 224.4,266.7 224.6,265.3 224.7,265.3 224.9,265.7 225.0,266.0 225.1,265.9 225.3,265.5 225.4,265.4 225.5,265.6 225.7,265.6 225.8,266.2 225.9,265.6 226.1,265.9 226.2,266.3 226.4,266.3 226.5,266.0 226.6,265.5 226.8,265.9 226.9,266.0 227.0,266.5 227.2,266.4 227.3,266.1 227.4,266.2 227.6,265.5 227.7,266.4 227.9,266.1 228.0,266.4 228.1,266.4 228.3,266.3 228.4,265.7 228.5,266.2 228.7,266.1 228.8,266.1 229.0,265.9 229.1,265.2 229.2,265.4 229.4,265.2 229.5,265.3 229.6,264.5 229.8,264.9 229.9,265.6 230.0,265.0 230.2,265.1 230.3,265.2 230.5,265.2 230.6,265.4 230.7,265.5 230.9,265.4 231.0,265.5 231.1,266.3 231.3,265.9 231.4,265.9 231.5,266.1 231.7,265.6 231.8,265.1 232.0,265.5 232.1,265.1 232.2,265.7 232.4,266.1 232.5,265.8 232.6,265.1 232.8,265.4 232.9,265.3 233.1,265.5 233.2,265.2 233.3,264.1 233.5,265.3 233.6,265.1 233.7,266.0 233.9,265.4 234.0,265.5 234.1,265.5 234.3,265.9 234.4,264.5 234.6,266.2 234.7,266.3 234.8,265.6 235.0,264.9 235.1,265.9 235.2,265.7 235.4,265.5 235.5,265.2 235.6,266.2 235.8,265.7 235.9,265.5 236.1,266.1 236.2,265.3 236.3,264.3 236.5,265.3 236.6,265.0 236.7,264.9 236.9,265.2 237.0,266.2 237.2,265.3 237.3,265.7 237.4,265.2 237.6,265.2 237.7,265.1 237.8,265.4 238.0,266.0 238.1,265.6 238.2,265.2 238.4,266.3 238.5,266.0 238.7,266.2 238.8,265.7 238.9,265.4 239.1,265.6 239.2,265.9 239.3,265.5 239.5,265.3 239.6,264.8 239.7,265.0 239.9,264.7 240.0,264.6 240.2,265.3 240.3,265.2 240.4,264.8 240.6,264.7 240.7,265.5 240.8,264.9 241.0,264.7 241.1,264.5 241.2,264.7 241.4,264.6 241.5,265.0 241.7,265.6 241.8,264.9 241.9,264.7 242.1,265.0 242.2,265.2 242.3,264.5 242.5,265.4 242.6,264.1 242.8,264.3 242.9,264.7 243.0,264.7 243.2,264.6 243.3,265.3 243.4,264.4 243.6,264.8 243.7,264.8 243.8,264.6 244.0,264.9 244.1,264.7 244.3,265.1 244.4,265.2 244.5,265.6 244.7,265.4 244.8,265.0 244.9,265.5 245.1,265.5 245.2,265.5 245.3,265.4 245.5,265.7 245.6,265.5 245.8,265.1 245.9,265.4 246.0,265.4 246.2,265.8 246.3,266.1 246.4,265.1 246.6,265.0 246.7,265.4 246.9,264.9 247.0,265.7 247.1,265.7 247.3,265.3 247.4,265.3 247.5,265.9 247.7,265.5 247.8,265.6 247.9,265.2 248.1,265.4 248.2,265.7 248.4,265.7 248.5,266.1 248.6,265.6 248.8,265.1 248.9,265.5 249.0,265.7 249.2,265.0 249.3,265.6 249.4,265.3 249.4,265.4 249.4,265.5 249.5,265.4 249.5,266.0 249.6,265.2 249.6,265.2 249.6,264.6 249.7,265.2 249.7,265.3 249.7,265.4 249.8,265.1 249.8,265.5 249.8,265.4 249.9,266.1 249.9,265.3 249.9,265.8 250.0,266.2 250.0,266.1 250.0,266.4 250.1,265.8 250.1,269.1 250.1,271.4 250.2,275.2 250.2,278.4 250.2,276.5 250.3,273.8 250.3,272.7 250.3,270.6 250.4,270.1 250.4,269.1 250.4,269.1 250.5,268.7 250.5,267.7 250.5,266.8 250.6,267.7 250.6,267.4 250.6,267.0 250.7,266.9 250.7,267.1 250.7,266.7 250.8,266.7 250.8,266.5 250.8,266.5 250.9,267.7 250.9,267.1 251.0,267.2 251.0,266.6 251.0,266.5 251.1,266.6 251.1,267.0 251.1,267.1 251.2,266.6 251.2,266.6 251.2,266.4 251.3,266.0 251.3,266.8 251.3,266.5 251.4,266.1 251.4,266.6 251.4,266.2 251.5,265.5 251.5,266.4 251.5,267.1 251.6,266.6 251.6,267.0 251.6,266.6 251.7,266.6 251.7,266.7 251.7,266.4 251.8,266.7 251.8,266.3 251.8,266.9 251.9,267.0 251.9,266.9 251.9,266.7 252.0,267.0 252.0,266.2 252.0,267.2 252.1,266.3 252.1,267.2 252.1,266.6 252.2,267.3 252.2,266.8 252.2,266.8 252.3,266.7 252.3,266.5 252.4,267.4 252.4,267.2 252.4,266.5 252.5,267.4 252.6,266.6 252.7,266.9 252.9,266.4 253.0,266.9 253.1,267.3 253.3,266.4 253.4,267.0 253.5,266.4 253.7,266.6 253.8,266.6 254.0,265.7 254.1,265.2 254.2,266.5 254.4,266.0 254.5,265.3 254.6,265.3 254.8,265.4 254.9,265.6 255.0,264.7 255.2,265.2 255.3,265.0 255.5,265.3 255.6,265.5 255.7,266.0 255.9,265.8 256.0,265.4 256.1,265.0 256.3,264.9 256.4,265.5 256.6,265.7 256.7,265.6 256.8,264.9 257.0,266.1 257.1,265.8 257.2,265.5 257.4,265.2" fill="none" stroke="#0072BD" stroke-width="2.0" stroke-linejoin="round"/><polyline points="61.9,230.4 61.9,230.4 61.9,230.4 62.0,230.4 62.0,230.4 62.0,230.4 62.1,230.4 62.1,230.4 62.1,230.4 62.2,230.4 62.2,230.4 62.2,230.4 62.3,230.4 62.3,230.4 62.3,230.4 62.4,230.4 62.4,230.4 62.4,230.4 62.5,230.4 62.5,230.4 62.5,230.4 62.6,230.4 62.6,230.4 62.6,230.4 62.7,230.4 62.7,230.4 62.7,230.4 62.8,230.4 62.8,230.4 62.8,230.4 62.9,230.4 62.9,230.4 62.9,230.4 63.0,230.4 63.0,230.4 63.0,230.4 63.1,230.4 63.1,230.4 63.1,230.4 63.2,230.4 63.2,230.4 63.3,230.4 63.3,230.4 63.3,230.4 63.4,230.4 63.4,230.4 63.4,230.4 63.5,230.4 63.5,239.6 63.5,248.9 63.6,258.2 63.6,267.4 63.6,276.7 63.7,286.0 63.7,295.2 63.7,304.5 63.8,313.8 63.8,323.0 63.8,320.4 63.9,317.8 63.9,315.4 63.9,313.1 64.0,310.8 64.0,308.7 64.0,306.7 64.1,304.8 64.1,303.0 64.1,301.2 64.2,299.6 64.2,298.0 64.2,296.5 64.3,295.1 64.3,293.7 64.3,292.4 64.4,291.1 64.4,289.5 64.4,288.5 64.5,287.0 64.5,287.1 64.5,286.0 64.6,284.9 64.6,284.4 64.7,283.6 64.7,282.2 64.7,281.4 64.8,280.4 64.8,279.9 64.8,279.3 64.9,279.0 64.9,278.7 64.9,277.6 65.0,276.9 65.0,276.5 65.0,275.5 65.1,275.8 65.1,275.4 65.1,275.0 65.2,273.9 65.2,274.6 65.2,274.0 65.3,272.7 65.3,273.1 65.3,273.0 65.4,271.9 65.4,271.7 65.4,271.5 65.5,271.4 65.5,270.0 65.5,271.1 65.6,269.8 65.6,270.1 65.6,270.0 65.7,269.4 65.7,269.9 65.7,269.1 65.8,269.3 65.8,269.5 65.8,268.7 65.9,268.5 65.9,268.5 65.9,268.4 66.0,267.9 66.0,268.4 66.1,267.6 66.1,267.8 66.1,267.8 66.2,268.4 66.2,267.4 66.2,267.3 66.3,267.0 66.3,267.1 66.3,267.3 66.4,267.5 66.4,267.0 66.4,267.0 66.5,267.0 66.5,266.6 66.5,266.8 66.6,266.9 66.6,266.3 66.6,266.2 66.7,266.4 66.7,266.2 66.7,266.2 66.8,265.9 66.8,266.0 66.8,266.6 66.9,266.5 66.9,266.4 66.9,266.2 67.0,266.9 67.0,266.7 67.0,266.5 67.1,265.8 67.1,267.1 67.1,266.6 67.2,265.8 67.2,267.0 67.2,265.9 67.3,267.0 67.3,266.6 67.5,266.1 67.6,265.7 67.7,266.0 67.9,266.0 68.0,265.7 68.1,265.7 68.3,265.6 68.4,265.6 68.5,265.9 68.7,265.2 68.8,265.8 69.0,266.0 69.1,266.3 69.2,266.1 69.4,265.6 69.5,265.9 69.6,265.8 69.8,265.9 69.9,264.8 70.0,265.9 70.2,265.9 70.3,265.6 70.5,265.7 70.6,265.9 70.7,265.6 70.9,265.4 71.0,265.2 71.1,265.5 71.3,265.0 71.4,265.3 71.6,265.3 71.7,265.4 71.8,265.4 72.0,265.4 72.1,265.3 72.2,265.2 72.4,265.7 72.5,265.4 72.6,265.6 72.8,265.1 72.9,265.7 73.1,266.1 73.2,265.5 73.3,265.5 73.5,265.5 73.6,265.5 73.7,265.7 73.9,265.0 74.0,265.8 74.1,265.1 74.3,265.9 74.4,265.5 74.6,264.7 74.7,264.9 74.8,265.6 75.0,265.4 75.1,266.2 75.2,265.5 75.4,265.5 75.5,265.3 75.6,266.1 75.8,265.4 75.9,265.7 76.1,265.7 76.2,265.5 76.3,265.7 76.5,265.5 76.6,265.3 76.7,266.2 76.9,266.1 77.0,265.9 77.2,266.1 77.3,265.9 77.4,265.5 77.6,266.3 77.7,265.5 77.8,266.1 78.0,265.9 78.1,265.8 78.2,265.5 78.4,265.7 78.5,265.8 78.7,265.8 78.8,266.2 78.9,266.0 79.1,266.1 79.2,265.7 79.3,265.7 79.5,265.1 79.6,265.8 79.7,266.3 79.9,266.0 80.0,266.1 80.2,266.5 80.3,265.8 80.4,265.6 80.6,266.0 80.7,265.9 80.8,265.7 81.0,266.7 81.1,266.1 81.3,265.6 81.4,265.6 81.5,265.6 81.7,265.8 81.8,265.3 81.9,265.6 82.1,265.4 82.2,265.7 82.3,264.8 82.5,265.7 82.6,265.3 82.8,265.3 82.9,265.4 83.0,265.6 83.2,265.2 83.3,265.4 83.4,266.0 83.6,265.7 83.7,265.0 83.8,265.3 84.0,265.3 84.1,265.5 84.3,265.1 84.4,265.6 84.5,265.0 84.7,265.2 84.8,265.2 84.9,265.4 85.1,265.3 85.2,264.9 85.4,265.0 85.5,266.0 85.6,265.7 85.8,265.6 85.9,264.9 86.0,265.4 86.2,265.5 86.3,265.9 86.4,265.8 86.6,266.2 86.7,265.4 86.9,265.8 87.0,265.8 87.1,265.2 87.3,265.6 87.4,266.1 87.5,265.9 87.7,266.0 87.8,265.1 87.9,265.2 88.1,265.7 88.2,265.5 88.4,265.6 88.5,265.4 88.6,265.5 88.8,265.3 88.9,265.3 89.0,264.9 89.2,264.8 89.3,265.2 89.4,265.5 89.6,265.5 89.7,265.5 89.9,265.4 90.0,264.6 90.1,265.4 90.3,265.6 90.4,264.9 90.5,265.8 90.7,265.1 90.8,265.1 91.0,265.0 91.1,265.8 91.2,265.7 91.4,265.6 91.5,265.5 91.6,265.6 91.8,266.2 91.9,265.3 92.0,265.1 92.2,265.3 92.3,265.9 92.5,265.7 92.6,264.6 92.7,264.9 92.9,265.9 93.0,264.9 93.1,264.3 93.3,265.4 93.4,265.0 93.5,265.3 93.7,265.0 93.8,265.5 94.0,264.6 94.1,265.0 94.2,266.2 94.4,265.4 94.5,265.4 94.6,265.6 94.8,265.2 94.9,265.2 95.1,265.0 95.2,265.2 95.3,264.9 95.5,265.5 95.6,265.5 95.7,265.7 95.9,265.2 96.0,265.1 96.1,265.6 96.3,265.5 96.4,265.6 96.6,265.4 96.7,265.3 96.8,265.9 97.0,265.8 97.1,265.6 97.2,265.9 97.4,265.5 97.5,265.7 97.6,265.2 97.8,265.0 97.9,265.8 98.1,265.5 98.2,264.9 98.3,265.7 98.5,265.7 98.6,265.8 98.7,265.0 98.9,265.8 99.0,265.7 99.2,266.0 99.3,266.2 99.4,265.9 99.6,265.5 99.7,265.6 99.8,265.5 100.0,265.5 100.1,265.1 100.2,265.5 100.4,265.1 100.5,265.4 100.7,265.9 100.8,265.4 100.9,265.3 101.1,265.5 101.2,265.4 101.3,265.0 101.5,265.6 101.6,265.6 101.7,265.8 101.9,266.0 102.0,265.7 102.2,266.0 102.3,265.2 102.4,265.0 102.6,265.7 102.7,265.5 102.8,265.5 103.0,265.1 103.1,265.4 103.2,264.6 103.4,265.5 103.5,265.4 103.7,265.8 103.8,266.0 103.9,265.5 104.1,265.8 104.2,265.5 104.3,265.2 104.5,265.3 104.6,265.7 104.8,265.1 104.9,265.1 105.0,264.9 105.2,265.3 105.3,265.1 105.4,265.5 105.6,265.4 105.7,265.3 105.8,265.9 106.0,265.4 106.1,265.2 106.3,264.9 106.4,265.3 106.5,265.0 106.7,265.4 106.8,265.5 106.9,266.0 107.1,265.6 107.2,265.6 107.3,266.2 107.5,265.8 107.6,265.9 107.8,266.0 107.9,266.0 108.0,265.3 108.2,265.8 108.3,266.1 108.4,265.7 108.6,265.4 108.7,265.4 108.9,264.9 109.0,265.2 109.1,265.0 109.3,265.1 109.4,264.8 109.5,265.2 109.7,265.3 109.8,264.9 109.9,265.0 110.1,265.3 110.2,265.0 110.4,265.3 110.5,265.1 110.6,265.7 110.8,265.4 110.9,265.4 111.0,264.8 111.2,265.0 111.3,265.3 111.4,265.2 111.6,264.9 111.7,265.4 111.9,265.3 112.0,264.9 112.1,265.1 112.3,264.5 112.4,265.5 112.5,264.7 112.7,265.5 112.8,264.9 113.0,265.2 113.1,265.0 113.2,264.9 113.4,265.8 113.5,264.8 113.6,265.1 113.8,265.2 113.9,265.1 114.0,265.3 114.2,265.5 114.3,265.0 114.5,264.8 114.6,266.1 114.7,265.7 114.9,266.0 115.0,265.6 115.1,265.3 115.3,265.6 115.4,265.1 115.5,265.8 115.7,265.4 115.8,265.3 116.0,264.6 116.1,265.5 116.2,265.3 116.4,265.5 116.5,264.9 116.6,265.3 116.8,265.3 116.9,265.0 117.0,265.2 117.2,265.5 117.3,265.1 117.5,265.5 117.6,264.9 117.7,265.8 117.9,265.5 118.0,265.9 118.1,265.8 118.3,265.6 118.4,265.9 118.6,265.2 118.7,265.6 118.8,265.3 119.0,265.3 119.1,265.6 119.2,266.0 119.4,265.0 119.5,265.4 119.6,265.8 119.8,265.4 119.9,265.1 120.1,264.6 120.2,266.0 120.3,265.5 120.5,265.6 120.6,265.3 120.7,265.9 120.9,266.0 121.0,266.6 121.1,266.1 121.3,266.1 121.4,266.2 121.6,265.1 121.7,266.4 121.8,265.7 122.0,266.1 122.1,265.8 122.2,265.7 122.4,265.0 122.5,265.8 122.7,265.5 122.8,265.6 122.9,266.0 123.1,265.5 123.2,265.7 123.3,264.7 123.5,265.1 123.6,264.9 123.7,266.0 123.9,266.1 124.0,265.5 124.2,266.1 124.3,265.1 124.4,265.5 124.6,265.6 124.7,265.4 124.8,265.6 125.0,265.4 125.1,266.0 125.2,265.6 125.4,265.0 125.5,265.6 125.7,265.5 125.8,265.6 125.9,265.7 126.1,265.3 126.2,265.4 126.3,265.6 126.5,265.4 126.6,265.6 126.8,265.3 126.9,265.2 127.0,265.0 127.2,264.9 127.3,265.5 127.4,265.0 127.6,265.4 127.7,265.6 127.8,265.5 128.0,265.6 128.1,265.4 128.3,265.3 128.4,265.3 128.5,265.4 128.7,265.2 128.8,265.1 128.9,265.2 129.1,265.0 129.2,265.5 129.3,264.8 129.5,264.8 129.6,264.4 129.8,265.0 129.9,265.1 130.0,265.1 130.2,264.7 130.3,265.8 130.4,265.3 130.6,265.2 130.7,265.2 130.8,265.7 131.0,265.3 131.1,265.4 131.3,265.5 131.4,265.9 131.5,265.3 131.7,265.7 131.8,265.9 131.9,266.4 132.1,265.8 132.2,265.9 132.4,266.1 132.5,265.8 132.6,266.0 132.8,265.9 132.9,265.8 133.0,265.8 133.2,265.4 133.3,265.9 133.4,264.9 133.6,265.0 133.7,265.6 133.9,265.6 134.0,265.3 134.1,265.8 134.3,265.3 134.4,265.8 134.5,265.3 134.7,266.0 134.8,265.5 134.9,265.5 135.1,265.7 135.2,265.7 135.4,265.0 135.5,265.8 135.6,265.8 135.8,265.8 135.9,266.2 136.0,266.2 136.2,266.5 136.3,267.0 136.5,266.1 136.6,265.9 136.7,266.2 136.9,265.9 137.0,266.4 137.1,265.7 137.3,265.5 137.4,266.2 137.5,264.9 137.7,265.4 137.8,265.5 138.0,265.3 138.1,265.6 138.2,266.2 138.4,265.3 138.5,265.7 138.6,265.4 138.8,265.9 138.9,266.2 139.0,265.5 139.2,265.8 139.3,266.2 139.5,266.2 139.6,266.4 139.7,266.0 139.9,265.5 140.0,265.7 140.1,265.6 140.3,266.1 140.4,265.9 140.6,265.7 140.7,265.7 140.8,265.3 141.0,265.4 141.1,265.5 141.2,265.8 141.4,266.1 141.5,266.1 141.6,265.6 141.8,266.0 141.9,265.6 142.1,266.1 142.2,266.2 142.3,266.0 142.5,265.5 142.6,265.8 142.7,265.7 142.9,266.0 143.0,265.3 143.1,265.9 143.3,266.3 143.4,265.9 143.6,265.9 143.7,265.6 143.8,266.0 144.0,265.2 144.1,265.4 144.2,265.7 144.4,266.1 144.5,266.2 144.6,265.1 144.8,265.8 144.9,265.3 145.1,265.5 145.2,265.3 145.3,265.6 145.5,265.5 145.6,265.6 145.7,265.3 145.9,265.1 146.0,265.3 146.2,265.3 146.3,265.4 146.4,265.4 146.6,265.2 146.7,264.9 146.8,264.9 147.0,264.8 147.1,265.3 147.2,265.8 147.4,265.2 147.5,265.7 147.7,265.0 147.8,265.2 147.9,265.8 148.1,265.9 148.2,265.8 148.3,266.0 148.5,266.0 148.6,265.8 148.7,265.6 148.9,265.8 149.0,266.0 149.2,265.9 149.3,265.5 149.4,266.0 149.6,265.4 149.7,265.4 149.8,265.7 150.0,265.6 150.1,265.5 150.3,265.1 150.4,265.8 150.5,265.8 150.7,265.0 150.8,265.7 150.9,265.4 151.1,265.6 151.2,265.8 151.3,265.2 151.5,265.7 151.6,265.4 151.8,265.4 151.9,265.9 152.0,266.4 152.2,266.1 152.3,265.4 152.4,265.9 152.6,265.5 152.7,265.9 152.8,266.6 153.0,266.1 153.1,265.7 153.3,265.9 153.4,266.2 153.5,265.7 153.7,265.9 153.8,265.5 153.9,265.7 154.1,265.1 154.2,265.4 154.4,265.1 154.5,265.7 154.6,264.8 154.8,265.6 154.9,265.2 155.0,265.3 155.2,264.6 155.3,265.0 155.4,265.7 155.6,265.4 155.7,264.9 155.9,264.9 156.0,265.4 156.1,265.0 156.3,264.8 156.4,265.7 156.5,265.5 156.7,266.0 156.8,264.9 156.9,265.1 157.1,265.3 157.2,265.0 157.4,265.1 157.5,265.0 157.6,264.7 157.8,264.8 157.9,264.3 158.0,265.4 158.2,265.2 158.3,264.8 158.4,264.4 158.6,265.4 158.7,265.0 158.9,265.2 159.0,265.6 159.1,265.1 159.3,265.3 159.4,265.7 159.5,266.0 159.7,265.8 159.8,265.8 160.0,266.3 160.1,267.0 160.2,265.5 160.4,265.8 160.5,265.8 160.6,266.0 160.8,265.2 160.9,265.9 161.0,265.4 161.2,265.3 161.3,265.3 161.5,265.6 161.6,265.0 161.7,265.3 161.9,265.3 162.0,265.2 162.1,265.1 162.3,265.2 162.4,265.2 162.5,265.0 162.7,265.0 162.8,264.7 163.0,265.0 163.1,265.1 163.2,264.8 163.4,264.9 163.5,265.4 163.6,264.9 163.8,265.8 163.9,265.5 164.1,265.0 164.2,265.3 164.3,264.7 164.5,265.0 164.6,264.9 164.7,264.7 164.9,264.7 165.0,265.1 165.1,265.0 165.3,265.6 165.4,264.8 165.6,265.1 165.7,264.9 165.8,265.0 166.0,265.6 166.1,265.2 166.2,265.3 166.4,265.0 166.5,265.1 166.6,265.4 166.8,265.4 166.9,265.0 167.1,264.7 167.2,265.6 167.3,265.3 167.5,265.0 167.6,264.8 167.7,265.2 167.9,264.8 168.0,265.4 168.2,265.0 168.3,265.3 168.4,264.2 168.6,265.1 168.7,265.1 168.8,265.3 169.0,265.1 169.1,265.0 169.2,265.0 169.4,265.9 169.5,265.1 169.7,265.8 169.8,265.5 169.9,265.3 170.1,265.4 170.2,265.4 170.3,265.7 170.5,265.6 170.6,264.6 170.7,265.4 170.9,265.8 171.0,265.2 171.2,265.7 171.3,265.7 171.4,265.3 171.6,265.1 171.7,265.8 171.8,265.6 172.0,265.7 172.1,265.6 172.2,265.1 172.4,265.6 172.5,265.9 172.7,264.9 172.8,265.0 172.9,265.3 173.1,265.5 173.2,265.9 173.3,265.8 173.5,265.7 173.6,265.6 173.8,265.5 173.9,265.7 174.0,265.3 174.2,265.4 174.3,265.5 174.4,265.2 174.6,265.1 174.7,265.5 174.8,265.5 175.0,265.2 175.1,265.4 175.3,265.4 175.4,265.5 175.5,265.8 175.7,265.1 175.8,265.2 175.9,265.2 176.1,265.4 176.2,265.0 176.3,264.6 176.5,264.8 176.6,264.8 176.8,265.5 176.9,265.4 177.0,265.1 177.2,265.0 177.3,265.5 177.4,265.9 177.6,264.9 177.7,265.0 177.9,266.1 178.0,265.7 178.1,265.4 178.3,265.9 178.4,265.7 178.5,265.8 178.7,266.0 178.8,266.1 178.9,266.4 179.1,266.4 179.2,266.3 179.4,266.5 179.5,266.0 179.6,266.5 179.8,266.5 179.9,266.4 180.0,265.8 180.2,266.0 180.3,266.4 180.4,265.9 180.6,265.3 180.7,265.5 180.9,265.3 181.0,265.3 181.1,265.5 181.3,265.3 181.4,265.2 181.5,265.1 181.7,265.2 181.8,266.0 182.0,265.1 182.1,264.9 182.2,265.1 182.4,265.2 182.5,266.1 182.6,266.0 182.8,265.8 182.9,265.3 183.0,265.2 183.2,265.3 183.3,265.8 183.5,265.2 183.6,265.7 183.7,265.7 183.9,265.7 184.0,266.0 184.1,265.8 184.3,265.4 184.4,265.4 184.5,265.5 184.7,266.2 184.8,266.0 185.0,265.7 185.1,265.0 185.2,265.6 185.4,265.6 185.5,266.2 185.6,265.5 185.8,266.1 185.9,265.3 186.0,266.3 186.2,265.8 186.3,265.8 186.5,265.7 186.6,266.0 186.7,265.9 186.9,265.3 187.0,266.3 187.1,265.8 187.3,265.1 187.4,265.9 187.6,265.7 187.7,265.9 187.8,266.2 188.0,265.7 188.1,265.8 188.2,265.6 188.4,265.7 188.5,265.4 188.6,265.2 188.8,265.1 188.9,265.3 189.1,265.2 189.2,265.3 189.3,265.5 189.5,265.7 189.6,265.9 189.7,265.7 189.9,265.2 190.0,266.3 190.1,265.8 190.3,265.7 190.4,265.5 190.6,266.0 190.7,265.6 190.8,265.9 191.0,265.1 191.1,266.2 191.2,265.4 191.4,265.4 191.5,265.4 191.7,265.6 191.8,266.4 191.9,265.5 192.1,265.3 192.2,265.4 192.3,265.3 192.5,265.6 192.6,265.8 192.7,265.7 192.9,265.7 193.0,265.7 193.2,265.8 193.3,265.9 193.4,265.7 193.6,265.7 193.7,265.7 193.8,265.7 194.0,265.3 194.1,265.2 194.2,265.7 194.4,265.0 194.5,265.6 194.7,265.2 194.8,265.0 194.9,265.5 195.1,264.9 195.2,264.6 195.3,265.0 195.5,264.9 195.6,265.0 195.8,265.4 195.9,265.3 196.0,265.3 196.2,265.2 196.3,264.9 196.4,265.8 196.6,265.4 196.7,265.2 196.8,265.4 197.0,265.6 197.1,266.3 197.3,265.4 197.4,265.8 197.5,265.6 197.7,266.0 197.8,265.5 197.9,266.0 198.1,265.5 198.2,265.9 198.3,266.0 198.5,265.2 198.6,265.8 198.8,265.7 198.9,265.7 199.0,265.4 199.2,265.5 199.3,265.7 199.4,265.9 199.6,265.9 199.7,266.0 199.8,266.2 200.0,266.1 200.1,265.9 200.3,265.3 200.4,266.1 200.5,266.1 200.7,265.7 200.8,265.9 200.9,265.4 201.1,266.2 201.2,266.0 201.4,266.0 201.5,265.9 201.6,266.1 201.8,265.0 201.9,265.6 202.0,265.7 202.2,265.3 202.3,265.1 202.4,265.3 202.6,265.3 202.7,265.6 202.9,266.4 203.0,265.8 203.1,265.6 203.3,265.7 203.4,265.3 203.5,265.3 203.7,266.2 203.8,265.3 203.9,265.2 204.1,265.1 204.2,265.7 204.4,265.4 204.5,265.6 204.6,265.7 204.8,265.3 204.9,265.7 205.0,265.1 205.2,265.5 205.3,265.7 205.5,265.8 205.6,265.7 205.7,265.4 205.9,264.7 206.0,265.6 206.1,265.5 206.3,265.2 206.4,265.4 206.5,265.5 206.7,265.3 206.8,265.1 207.0,265.0 207.1,265.5 207.2,265.4 207.4,264.9 207.5,264.8 207.6,265.2 207.8,265.9 207.9,265.1 208.0,265.2 208.2,265.2 208.3,265.8 208.5,265.4 208.6,265.0 208.7,265.3 208.9,265.2 209.0,265.7 209.1,265.2 209.3,265.2 209.4,265.7 209.6,264.9 209.7,265.5 209.8,265.6 210.0,265.6 210.1,265.3 210.2,265.0 210.4,265.1 210.5,265.5 210.6,265.5 210.8,265.5 210.9,265.2 211.1,265.4 211.2,265.4 211.3,265.6 211.5,265.6 211.6,265.4 211.7,265.5 211.9,265.8 212.0,265.8 212.1,265.2 212.3,265.6 212.4,265.8 212.6,266.0 212.7,265.7 212.8,266.2 213.0,266.1 213.1,266.1 213.2,265.7 213.4,265.7 213.5,265.7 213.6,266.1 213.8,265.2 213.9,265.9 214.1,265.6 214.2,265.5 214.3,265.8 214.5,265.9 214.6,265.8 214.7,266.3 214.9,265.3 215.0,265.3 215.2,265.9 215.3,265.4 215.4,266.0 215.6,266.1 215.7,265.4 215.8,266.2 216.0,265.7 216.1,266.2 216.2,265.5 216.4,265.8 216.5,266.0 216.7,266.1 216.8,265.9 216.9,265.0 217.1,265.8 217.2,265.7 217.3,265.0 217.5,265.4 217.6,265.8 217.7,265.6 217.9,265.3 218.0,265.0 218.2,265.5 218.3,265.7 218.4,265.7 218.6,265.1 218.7,265.5 218.8,265.5 219.0,265.5 219.1,265.5 219.3,265.3 219.4,265.3 219.5,265.3 219.7,265.4 219.8,265.7 219.9,265.3 220.1,265.1 220.2,265.7 220.3,265.3 220.5,265.2 220.6,265.5 220.8,266.2 220.9,265.1 221.0,265.9 221.2,266.1 221.3,265.1 221.4,265.7 221.6,265.6 221.7,265.1 221.8,265.8 222.0,265.3 222.1,265.7 222.3,265.7 222.4,266.1 222.5,266.3 222.7,265.6 222.8,265.8 222.9,265.2 223.1,265.9 223.2,265.9 223.4,265.2 223.5,265.5 223.6,265.1 223.8,265.1 223.9,265.6 224.0,265.4 224.2,265.1 224.3,265.6 224.4,266.2 224.6,265.2 224.7,265.0 224.9,265.3 225.0,266.2 225.1,265.7 225.3,265.8 225.4,265.3 225.5,265.7 225.7,265.8 225.8,265.8 225.9,265.6 226.1,265.5 226.2,266.0 226.4,266.2 226.5,265.7 226.6,265.2 226.8,265.7 226.9,266.3 227.0,265.8 227.2,266.0 227.3,265.7 227.4,266.4 227.6,266.0 227.7,266.3 227.9,266.2 228.0,265.9 228.1,265.9 228.3,266.0 228.4,265.6 228.5,266.1 228.7,265.3 228.8,266.0 229.0,265.6 229.1,264.8 229.2,265.3 229.4,265.6 229.5,264.5 229.6,264.9 229.8,266.0 229.9,265.4 230.0,265.4 230.2,265.4 230.3,265.1 230.5,265.5 230.6,265.9 230.7,265.7 230.9,265.5 231.0,265.2 231.1,265.8 231.3,265.2 231.4,266.0 231.5,265.5 231.7,265.3 231.8,265.2 232.0,265.6 232.1,265.4 232.2,265.6 232.4,265.9 232.5,265.3 232.6,265.4 232.8,265.3 232.9,265.1 233.1,265.3 233.2,265.0 233.3,264.7 233.5,265.1 233.6,265.0 233.7,265.9 233.9,265.4 234.0,265.2 234.1,265.3 234.3,265.5 234.4,265.6 234.6,265.6 234.7,265.9 234.8,266.1 235.0,265.2 235.1,265.5 235.2,265.5 235.4,265.4 235.5,265.2 235.6,265.5 235.8,265.4 235.9,265.4 236.1,265.1 236.2,265.4 236.3,264.9 236.5,265.1 236.6,265.4 236.7,265.3 236.9,264.9 237.0,265.7 237.2,265.0 237.3,265.2 237.4,265.5 237.6,265.5 237.7,265.1 237.8,265.2 238.0,265.7 238.1,265.9 238.2,265.7 238.4,266.0 238.5,265.6 238.7,266.4 238.8,265.7 238.9,266.1 239.1,265.8 239.2,265.8 239.3,265.1 239.5,265.6 239.6,265.8 239.7,266.0 239.9,265.3 240.0,265.2 240.2,265.7 240.3,265.1 240.4,265.5 240.6,265.3 240.7,265.0 240.8,264.6 241.0,265.2 241.1,265.0 241.2,265.3 241.4,264.9 241.5,264.6 241.7,265.1 241.8,265.2 241.9,265.0 242.1,265.0 242.2,264.6 242.3,264.9 242.5,265.3 242.6,265.6 242.8,264.5 242.9,264.6 243.0,264.7 243.2,265.7 243.3,264.6 243.4,264.7 243.6,265.1 243.7,264.5 243.8,264.8 244.0,265.3 244.1,265.2 244.3,265.2 244.4,265.1 244.5,265.0 244.7,265.5 244.8,265.8 244.9,265.1 245.1,265.3 245.2,265.2 245.3,265.9 245.5,265.1 245.6,265.6 245.8,265.0 245.9,265.4 246.0,265.5 246.2,265.7 246.3,265.7 246.4,265.5 246.6,265.5 246.7,265.6 246.9,265.2 247.0,265.3 247.1,265.8 247.3,265.7 247.4,265.7 247.5,265.1 247.7,265.5 247.8,265.6 247.9,265.6 248.1,265.8 248.2,265.1 248.4,265.9 248.5,265.8 248.6,265.6 248.8,265.4 248.9,265.3 249.0,265.5 249.2,265.6 249.3,265.8 249.4,265.5 249.4,265.0 249.4,266.0 249.5,265.0 249.5,265.9 249.6,264.3 249.6,264.8 249.6,264.8 249.7,265.1 249.7,265.4 249.7,265.4 249.8,274.2 249.8,283.4 249.8,292.0 249.9,300.9 249.9,293.3 249.9,287.1 250.0,281.9 250.0,278.4 250.0,275.2 250.1,273.5 250.1,272.4 250.1,271.3 250.2,269.9 250.2,269.3 250.2,268.9 250.3,268.5 250.3,268.8 250.3,268.4 250.4,267.9 250.4,267.8 250.4,267.9 250.5,267.3 250.5,266.7 250.5,267.2 250.6,266.9 250.6,267.2 250.6,266.9 250.7,266.9 250.7,266.8 250.7,267.4 250.8,266.4 250.8,267.1 250.8,266.9 250.9,267.2 250.9,267.2 251.0,266.8 251.0,267.0 251.0,266.8 251.1,267.1 251.1,267.4 251.1,266.8 251.2,266.3 251.2,266.9 251.2,266.6 251.3,266.2 251.3,266.9 251.3,267.0 251.4,266.6 251.4,266.9 251.4,266.4 251.5,266.3 251.5,267.1 251.5,266.8 251.6,266.0 251.6,266.7 251.6,266.6 251.7,266.4 251.7,266.4 251.7,266.6 251.8,266.8 251.8,267.0 251.8,266.7 251.9,267.0 251.9,266.6 251.9,266.5 252.0,266.3 252.0,266.1 252.0,266.6 252.1,266.7 252.1,266.8 252.1,267.3 252.2,266.7 252.2,266.3 252.2,267.0 252.3,266.9 252.3,266.9 252.4,267.0 252.4,266.7 252.4,266.7 252.5,267.0 252.6,266.9 252.7,266.6 252.9,266.6 253.0,266.3 253.1,267.3 253.3,266.4 253.4,266.9 253.5,266.7 253.7,267.0 253.8,266.3 254.0,265.7 254.1,265.7 254.2,266.1 254.4,265.8 254.5,265.3 254.6,265.8 254.8,265.3 254.9,265.6 255.0,264.7 255.2,265.0 255.3,265.3 255.5,265.0 255.6,265.3 255.7,265.5 255.9,264.8 256.0,265.9 256.1,265.1 256.3,265.0 256.4,264.9 256.6,265.4 256.7,265.3" fill="none" stroke="#D95319" stroke-width="1.3" stroke-linejoin="round" stroke-dasharray="5 2.35 1.2 2.05" stroke-dashoffset="4.5"/><polyline points="61.9,230.4 61.9,230.4 61.9,230.4 62.0,230.4 62.0,230.4 62.0,230.4 62.1,230.4 62.1,230.4 62.1,230.4 62.2,230.4 62.2,230.4 62.2,230.4 62.3,230.4 62.3,230.4 62.3,230.4 62.4,230.4 62.4,230.4 62.4,230.4 62.5,230.4 62.5,230.4 62.5,230.4 62.6,230.4 62.6,230.4 62.6,230.4 62.7,230.4 62.7,230.4 62.7,230.4 62.8,230.4 62.8,230.4 62.8,230.4 62.9,230.4 62.9,230.4 62.9,230.4 63.0,230.4 63.0,230.4 63.0,230.4 63.1,230.4 63.1,230.4 63.1,230.4 63.2,230.4 63.2,230.4 63.3,230.4 63.3,230.4 63.3,230.4 63.4,230.4 63.4,230.4 63.4,230.4 63.5,230.4 63.5,239.6 63.5,248.8 63.6,258.0 63.6,267.2 63.6,276.4 63.7,285.6 63.7,294.8 63.7,304.0 63.8,313.2 63.8,322.4 63.8,319.7 63.9,317.2 63.9,314.8 63.9,312.5 64.0,310.3 64.0,308.3 64.0,306.3 64.1,304.4 64.1,302.6 64.1,300.8 64.2,299.2 64.2,297.6 64.2,296.1 64.3,294.7 64.3,293.4 64.3,292.1 64.4,290.8 64.4,289.2 64.4,288.7 64.5,286.9 64.5,286.1 64.5,286.0 64.6,284.5 64.6,284.4 64.7,283.3 64.7,281.9 64.7,280.9 64.8,280.5 64.8,279.5 64.8,279.4 64.9,278.2 64.9,278.0 64.9,277.4 65.0,277.2 65.0,276.5 65.0,275.8 65.1,275.7 65.1,275.4 65.1,275.0 65.2,274.1 65.2,274.7 65.2,273.2 65.3,273.4 65.3,272.7 65.3,272.2 65.4,272.3 65.4,271.7 65.4,271.3 65.5,271.5 65.5,271.1 65.5,270.9 65.6,270.6 65.6,270.1 65.6,269.9 65.7,269.2 65.7,269.2 65.7,269.3 65.8,269.0 65.8,269.3 65.8,268.8 65.9,268.1 65.9,268.4 65.9,268.4 66.0,268.1 66.0,267.7 66.1,268.1 66.1,268.2 66.1,268.0 66.2,268.4 66.2,267.8 66.2,267.7 66.3,267.2 66.3,267.9 66.3,267.8 66.4,267.6 66.4,267.2 66.4,266.6 66.5,266.8 66.5,266.2 66.5,266.3 66.6,266.5 66.6,266.9 66.6,266.9 66.7,266.2 66.7,266.6 66.7,266.0 66.8,266.2 66.8,266.1 66.8,265.8 66.9,266.6 66.9,266.2 66.9,266.8 67.0,266.6 67.0,266.6 67.0,266.0 67.1,266.2 67.1,267.0 67.1,266.6 67.2,266.2 67.2,266.7 67.2,265.9 67.3,266.5 67.3,266.4 67.5,266.1 67.6,266.3 67.7,264.9 67.9,266.1 68.0,265.8 68.1,266.0 68.3,265.5 68.4,265.9 68.5,265.9 68.7,265.3 68.8,265.8 69.0,266.3 69.1,266.2 69.2,266.0 69.4,265.7 69.5,265.9 69.6,265.6 69.8,265.5 69.9,265.7 70.0,265.9 70.2,265.9 70.3,265.4 70.5,264.9 70.6,265.7 70.7,265.3 70.9,264.8 71.0,265.0 71.1,265.0 71.3,264.9 71.4,265.3 71.6,265.0 71.7,265.3 71.8,264.9 72.0,265.7 72.1,265.3 72.2,265.1 72.4,265.5 72.5,266.0 72.6,265.1 72.8,265.0 72.9,265.7 73.1,265.5 73.2,265.6 73.3,265.2 73.5,265.5 73.6,265.6 73.7,265.4 73.9,264.8 74.0,265.4 74.1,264.8 74.3,265.4 74.4,264.9 74.6,265.3 74.7,265.1 74.8,265.9 75.0,265.0 75.1,265.6 75.2,265.5 75.4,265.4 75.5,265.6 75.6,265.1 75.8,265.5 75.9,265.8 76.1,265.6 76.2,265.7 76.3,265.4 76.5,265.7 76.6,265.6 76.7,266.3 76.9,266.0 77.0,265.7 77.2,265.7 77.3,266.1 77.4,265.9 77.6,266.3 77.7,265.1 77.8,265.6 78.0,266.3 78.1,266.0 78.2,265.8 78.4,266.3 78.5,266.3 78.7,265.8 78.8,265.7 78.9,266.0 79.1,265.7 79.2,265.5 79.3,265.6 79.5,264.9 79.6,265.5 79.7,266.4 79.9,266.2 80.0,266.0 80.2,266.0 80.3,265.7 80.4,265.9 80.6,266.3 80.7,265.8 80.8,266.2 81.0,266.0 81.1,265.8 81.3,266.1 81.4,266.2 81.5,265.4 81.7,266.0 81.8,265.5 81.9,265.4 82.1,265.9 82.2,265.6 82.3,265.2 82.5,265.7 82.6,265.0 82.8,266.0 82.9,265.1 83.0,265.3 83.2,265.5 83.3,265.1 83.4,265.4 83.6,265.3 83.7,265.0 83.8,264.9 84.0,264.8 84.1,265.4 84.3,265.6 84.4,265.3 84.5,265.0 84.7,265.1 84.8,265.7 84.9,265.6 85.1,265.3 85.2,265.5 85.4,265.0 85.5,265.5 85.6,265.6 85.8,265.5 85.9,265.5 86.0,265.6 86.2,265.3 86.3,265.7 86.4,265.8 86.6,266.1 86.7,265.6 86.9,265.4 87.0,266.2 87.1,265.5 87.3,265.4 87.4,265.0 87.5,265.8 87.7,266.0 87.8,265.7 87.9,265.8 88.1,265.2 88.2,265.5 88.4,265.6 88.5,265.6 88.6,266.1 88.8,265.2 88.9,265.6 89.0,265.0 89.2,264.9 89.3,265.0 89.4,265.2 89.6,265.2 89.7,265.5 89.9,265.6 90.0,264.7 90.1,265.5 90.3,265.8 90.4,265.6 90.5,265.2 90.7,265.4 90.8,265.5 91.0,266.0 91.1,265.5 91.2,265.7 91.4,265.6 91.5,265.3 91.6,265.6 91.8,265.5 91.9,265.3 92.0,265.1 92.2,264.8 92.3,265.5 92.5,265.8 92.6,264.8 92.7,264.9 92.9,265.3 93.0,264.9 93.1,265.0 93.3,264.9 93.4,264.8 93.5,265.4 93.7,265.3 93.8,265.0 94.0,265.2 94.1,264.9 94.2,265.6 94.4,265.5 94.5,265.2 94.6,265.8 94.8,264.7 94.9,265.4 95.1,265.4 95.2,265.6 95.3,265.3 95.5,265.5 95.6,265.7 95.7,265.5 95.9,264.8 96.0,265.4 96.1,265.0 96.3,265.5 96.4,265.3 96.6,265.3 96.7,265.7 96.8,264.9 97.0,265.3 97.1,265.2 97.2,265.9 97.4,264.9 97.5,265.7 97.6,265.1 97.8,265.9 97.9,265.6 98.1,265.3 98.2,265.5 98.3,265.5 98.5,265.6 98.6,265.5 98.7,265.5 98.9,265.5 99.0,265.2 99.2,265.6 99.3,266.2 99.4,265.3 99.6,265.3 99.7,265.7 99.8,265.5 100.0,265.3 100.1,265.4 100.2,265.3 100.4,265.0 100.5,265.2 100.7,265.8 100.8,265.3 100.9,265.8 101.1,265.6 101.2,265.1 101.3,265.5 101.5,265.5 101.6,266.0 101.7,266.2 101.9,265.8 102.0,265.9 102.2,265.5 102.3,266.2 102.4,265.6 102.6,265.9 102.7,266.0 102.8,264.9 103.0,265.8 103.1,265.7 103.2,265.2 103.4,265.4 103.5,265.7 103.7,265.8 103.8,265.7 103.9,266.2 104.1,265.6 104.2,265.5 104.3,265.3 104.5,265.4 104.6,265.4 104.8,265.5 104.9,265.6 105.0,265.6 105.2,266.1 105.3,265.5 105.4,266.2 105.6,265.1 105.7,265.3 105.8,265.3 106.0,265.4 106.1,265.3 106.3,265.3 106.4,265.3 106.5,265.8 106.7,265.7 106.8,265.6 106.9,265.7 107.1,265.6 107.2,266.0 107.3,266.1 107.5,265.4 107.6,266.2 107.8,266.2 107.9,266.0 108.0,265.5 108.2,265.3 108.3,266.3 108.4,265.9 108.6,265.3 108.7,264.6 108.9,264.9 109.0,265.4 109.1,265.1 109.3,265.2 109.4,265.2 109.5,264.8 109.7,264.9 109.8,264.7 109.9,265.0 110.1,265.3 110.2,264.7 110.4,264.7 110.5,265.4 110.6,265.2 110.8,265.3 110.9,265.5 111.0,265.1 111.2,265.2 111.3,265.2 111.4,265.3 111.6,265.3 111.7,265.9 111.9,265.2 112.0,265.2 112.1,265.6 112.3,265.2 112.4,264.9 112.5,265.5 112.7,265.3 112.8,264.5 113.0,265.6 113.1,265.5 113.2,265.2 113.4,265.3 113.5,265.1 113.6,265.1 113.8,265.6 113.9,265.6 114.0,265.8 114.2,265.8 114.3,265.1 114.5,265.6 114.6,265.6 114.7,266.0 114.9,265.3 115.0,265.9 115.1,265.8 115.3,265.6 115.4,265.5 115.5,265.3 115.7,265.2 115.8,265.1 116.0,264.6 116.1,265.9 116.2,265.3 116.4,265.5 116.5,265.1 116.6,264.8 116.8,265.3 116.9,264.7 117.0,265.5 117.2,265.5 117.3,265.5 117.5,265.6 117.6,264.7 117.7,265.9 117.9,265.7 118.0,266.2 118.1,265.9 118.3,265.4 118.4,265.8 118.6,265.7 118.7,266.0 118.8,265.9 119.0,265.8 119.1,265.1 119.2,265.6 119.4,265.3 119.5,265.2 119.6,266.1 119.8,264.9 119.9,265.7 120.1,265.1 120.2,265.0 120.3,265.6 120.5,265.9 120.6,265.2 120.7,265.8 120.9,266.1 121.0,266.2 121.1,266.2 121.3,266.2 121.4,265.3 121.6,265.7 121.7,266.2 121.8,265.6 122.0,266.3 122.1,265.9 122.2,265.8 122.4,265.7 122.5,265.7 122.7,265.4 122.8,265.8 122.9,265.2 123.1,265.8 123.2,265.4 123.3,265.4 123.5,265.0 123.6,265.3 123.7,265.6 123.9,265.3 124.0,265.4 124.2,266.0 124.3,265.5 124.4,265.4 124.6,265.6 124.7,265.4 124.8,265.4 125.0,265.5 125.1,265.8 125.2,265.7 125.4,265.8 125.5,265.1 125.7,265.3 125.8,265.0 125.9,265.6 126.1,265.8 126.2,265.5 126.3,265.6 126.5,265.7 126.6,265.6 126.8,264.8 126.9,265.0 127.0,265.3 127.2,264.9 127.3,265.8 127.4,265.5 127.6,265.1 127.7,265.8 127.8,265.6 128.0,265.7 128.1,265.7 128.3,265.5 128.4,265.4 128.5,265.5 128.7,265.2 128.8,264.9 128.9,265.0 129.1,265.3 129.2,265.1 129.3,265.3 129.5,264.5 129.6,264.7 129.8,264.8 129.9,264.9 130.0,265.6 130.2,264.9 130.3,265.2 130.4,265.0 130.6,264.7 130.7,265.8 130.8,265.6 131.0,265.6 131.1,265.7 131.3,265.3 131.4,265.6 131.5,265.2 131.7,265.9 131.8,265.6 131.9,266.4 132.1,266.0 132.2,265.9 132.4,266.0 132.5,265.4 132.6,265.5 132.8,265.6 132.9,265.8 133.0,265.8 133.2,265.6 133.3,265.5 133.4,265.2 133.6,265.3 133.7,265.9 133.9,265.7 134.0,265.3 134.1,265.4 134.3,265.3 134.4,265.4 134.5,265.6 134.7,266.2 134.8,265.7 134.9,265.7 135.1,265.7 135.2,265.9 135.4,265.3 135.5,265.8 135.6,265.6 135.8,265.9 135.9,265.8 136.0,265.9 136.2,265.9 136.3,266.2 136.5,265.8 136.6,265.5 136.7,265.9 136.9,265.9 137.0,265.9 137.1,265.7 137.3,265.5 137.4,265.5 137.5,265.1 137.7,265.5 137.8,265.7 138.0,265.4 138.1,265.5 138.2,266.3 138.4,264.6 138.5,265.7 138.6,265.5 138.8,265.8 138.9,266.2 139.0,265.5 139.2,265.6 139.3,266.4 139.5,266.1 139.6,265.3 139.7,265.5 139.9,265.9 140.0,265.5 140.1,266.2 140.3,266.4 140.4,266.3 140.6,265.7 140.7,265.7 140.8,265.3 141.0,265.6 141.1,265.6 141.2,265.2 141.4,265.6 141.5,265.8 141.6,265.2 141.8,266.2 141.9,266.3 142.1,266.4 142.2,265.7 142.3,265.7 142.5,265.5 142.6,266.1 142.7,265.6 142.9,265.9 143.0,265.4 143.1,265.7 143.3,265.6 143.4,266.1 143.6,266.1 143.7,266.5 143.8,265.6 144.0,266.0 144.1,265.6 144.2,265.1 144.4,266.1 144.5,265.9 144.6,265.3 144.8,265.9 144.9,265.4 145.1,265.1 145.2,265.4 145.3,265.2 145.5,265.6 145.6,265.6 145.7,265.5 145.9,264.9 146.0,264.7 146.2,265.1 146.3,265.5 146.4,265.3 146.6,265.2 146.7,265.4 146.8,264.9 147.0,264.8 147.1,265.2 147.2,265.5 147.4,265.0 147.5,265.5 147.7,265.8 147.8,265.4 147.9,265.9 148.1,266.1 148.2,265.6 148.3,265.7 148.5,265.8 148.6,265.8 148.7,265.7 148.9,266.1 149.0,265.5 149.2,265.8 149.3,265.8 149.4,265.5 149.6,265.1 149.7,265.8 149.8,265.5 150.0,265.8 150.1,265.7 150.3,265.2 150.4,265.5 150.5,265.5 150.7,265.7 150.8,265.4 150.9,265.6 151.1,265.5 151.2,265.4 151.3,265.4 151.5,266.2 151.6,265.6 151.8,266.1 151.9,266.1 152.0,266.1 152.2,265.9 152.3,265.9 152.4,265.8 152.6,265.9 152.7,265.9 152.8,266.2 153.0,266.7 153.1,266.2 153.3,265.9 153.4,266.1 153.5,266.0 153.7,265.7 153.8,265.5 153.9,265.4 154.1,265.7 154.2,265.3 154.4,265.8 154.5,265.3 154.6,265.1 154.8,265.2 154.9,264.8 155.0,265.0 155.2,265.1 155.3,264.5 155.4,265.2 155.6,265.1 155.7,265.1 155.9,264.8 156.0,264.7 156.1,265.2 156.3,265.2 156.4,265.9 156.5,265.4 156.7,265.8 156.8,265.1 156.9,265.1 157.1,265.3 157.2,264.7 157.4,265.2 157.5,265.6 157.6,265.5 157.8,265.0 157.9,265.0 158.0,265.1 158.2,265.1 158.3,265.4 158.4,264.9 158.6,264.9 158.7,265.3 158.9,265.3 159.0,265.3 159.1,265.1 159.3,265.8 159.4,265.5 159.5,265.7 159.7,265.8 159.8,266.0 160.0,266.0 160.1,266.8 160.2,265.6 160.4,265.8 160.5,265.8 160.6,265.1 160.8,265.9 160.9,265.6 161.0,265.3 161.2,265.4 161.3,265.5 161.5,265.4 161.6,265.1 161.7,265.6 161.9,265.6 162.0,265.4 162.1,265.0 162.3,265.1 162.4,265.0 162.5,264.7 162.7,264.9 162.8,265.0 163.0,264.8 163.1,265.0 163.2,265.2 163.4,264.7 163.5,265.3 163.6,264.9 163.8,265.6 163.9,265.6 164.1,264.9 164.2,265.2 164.3,264.9 164.5,265.7 164.6,265.0 164.7,265.1 164.9,265.0 165.0,265.0 165.1,264.5 165.3,265.1 165.4,264.8 165.6,265.6 165.7,265.0 165.8,264.4 166.0,265.1 166.1,264.6 166.2,265.5 166.4,265.0 166.5,265.4 166.6,265.4 166.8,265.2 166.9,265.4 167.1,265.3 167.2,265.2 167.3,265.3 167.5,265.3 167.6,265.1 167.7,265.0 167.9,265.4 168.0,265.7 168.2,265.1 168.3,265.2 168.4,265.4 168.6,265.1 168.7,265.2 168.8,265.2 169.0,265.3 169.1,265.3 169.2,265.4 169.4,265.5 169.5,265.3 169.7,265.9 169.8,265.8 169.9,265.4 170.1,265.2 170.2,265.3 170.3,265.5 170.5,265.5 170.6,264.9 170.7,265.4 170.9,265.6 171.0,265.6 171.2,265.7 171.3,265.2 171.4,265.2 171.6,266.1 171.7,265.7 171.8,266.4 172.0,265.4 172.1,265.2 172.2,265.7 172.4,265.6 172.5,265.8 172.7,265.2 172.8,265.2 172.9,265.2 173.1,265.1 173.2,265.3 173.3,265.6 173.5,265.8 173.6,265.7 173.8,265.7 173.9,265.8 174.0,265.4 174.2,265.6 174.3,265.7 174.4,266.0 174.6,265.7 174.7,266.1 174.8,265.3 175.0,265.9 175.1,265.2 175.3,265.1 175.4,265.5 175.5,265.6 175.7,265.2 175.8,265.4 175.9,265.3 176.1,265.4 176.2,265.3 176.3,265.0 176.5,264.7 176.6,265.8 176.8,265.1 176.9,265.3 177.0,265.2 177.2,264.8 177.3,265.0 177.4,265.3 177.6,265.3 177.7,265.4 177.9,265.8 178.0,265.4 178.1,265.8 178.3,266.2 178.4,265.7 178.5,266.0 178.7,265.8 178.8,266.0 178.9,266.1 179.1,265.8 179.2,266.2 179.4,265.4 179.5,265.8 179.6,266.0 179.8,265.9 179.9,265.8 180.0,265.7 180.2,265.8 180.3,265.6 180.4,266.2 180.6,265.7 180.7,265.6 180.9,265.6 181.0,265.0 181.1,265.2 181.3,265.4 181.4,265.2 181.5,265.5 181.7,265.3 181.8,264.9 182.0,265.5 182.1,265.3 182.2,265.2 182.4,265.4 182.5,266.1 182.6,265.2 182.8,265.9 182.9,265.2 183.0,265.7 183.2,265.5 183.3,265.6 183.5,265.8 183.6,265.5 183.7,265.9 183.9,265.7 184.0,265.3 184.1,265.8 184.3,265.8 184.4,265.1 184.5,265.8 184.7,265.9 184.8,265.5 185.0,266.2 185.1,265.4 185.2,265.6 185.4,265.7 185.5,266.3 185.6,265.6 185.8,266.2 185.9,266.1 186.0,265.5 186.2,265.1 186.3,265.9 186.5,265.9 186.6,265.5 186.7,266.1 186.9,265.6 187.0,266.1 187.1,265.6 187.3,265.9 187.4,265.2 187.6,265.5 187.7,265.5 187.8,266.4 188.0,265.5 188.1,265.5 188.2,265.8 188.4,266.0 188.5,265.7 188.6,265.8 188.8,265.8 188.9,265.4 189.1,265.8 189.2,265.1 189.3,265.7 189.5,265.9 189.6,265.8 189.7,265.6 189.9,265.7 190.0,265.5 190.1,265.6 190.3,265.7 190.4,265.2 190.6,265.5 190.7,265.8 190.8,265.6 191.0,265.4 191.1,265.8 191.2,265.3 191.4,265.7 191.5,265.1 191.7,265.3 191.8,265.8 191.9,265.2 192.1,265.1 192.2,265.1 192.3,265.5 192.5,265.6 192.6,265.7 192.7,265.7 192.9,266.0 193.0,265.7 193.2,266.0 193.3,265.9 193.4,265.0 193.6,265.2 193.7,265.6 193.8,265.7 194.0,265.2 194.1,265.2 194.2,265.9 194.4,265.2 194.5,265.2 194.7,264.8 194.8,264.8 194.9,265.1 195.1,265.5 195.2,265.2 195.3,265.0 195.5,264.7 195.6,264.9 195.8,265.2 195.9,264.9 196.0,264.4 196.2,265.3 196.3,265.3 196.4,265.5 196.6,265.5 196.7,265.6 196.8,265.2 197.0,266.0 197.1,265.6 197.3,265.2 197.4,265.8 197.5,265.4 197.7,265.3 197.8,265.8 197.9,265.8 198.1,266.0 198.2,265.4 198.3,266.1 198.5,266.1 198.6,265.9 198.8,265.5 198.9,265.3 199.0,265.9 199.2,265.8 199.3,265.6 199.4,265.3 199.6,265.6 199.7,265.9 199.8,265.9 200.0,266.2 200.1,265.5 200.3,265.0 200.4,265.9 200.5,265.3 200.7,266.1 200.8,265.7 200.9,265.3 201.1,265.9 201.2,265.7 201.4,266.0 201.5,266.0 201.6,265.8 201.8,265.5 201.9,265.5 202.0,266.2 202.2,265.8 202.3,265.2 202.4,265.3 202.6,265.5 202.7,265.6 202.9,265.9 203.0,266.0 203.1,265.9 203.3,265.4 203.4,265.7 203.5,265.4 203.7,265.5 203.8,265.8 203.9,265.5 204.1,265.7 204.2,265.5 204.4,265.4 204.5,266.0 204.6,265.3 204.8,265.3 204.9,265.5 205.0,265.4 205.2,265.3 205.3,265.9 205.5,264.8 205.6,265.6 205.7,264.9 205.9,265.3 206.0,265.4 206.1,265.3 206.3,265.6 206.4,265.2 206.5,265.2 206.7,266.0 206.8,265.3 207.0,265.1 207.1,265.4 207.2,265.7 207.4,264.8 207.5,264.4 207.6,265.0 207.8,265.8 207.9,265.4 208.0,265.1 208.2,265.4 208.3,265.8 208.5,265.7 208.6,265.1 208.7,265.7 208.9,265.5 209.0,265.8 209.1,264.9 209.3,264.8 209.4,265.4 209.6,265.1 209.7,265.5 209.8,266.1 210.0,265.0 210.1,265.5 210.2,265.1 210.4,265.3 210.5,265.5 210.6,265.2 210.8,265.6 210.9,265.1 211.1,266.3 211.2,265.6 211.3,265.6 211.5,266.0 211.6,265.8 211.7,265.6 211.9,266.1 212.0,265.4 212.1,265.7 212.3,265.9 212.4,265.9 212.6,266.3 212.7,265.1 212.8,266.1 213.0,265.4 213.1,265.4 213.2,265.9 213.4,266.0 213.5,265.5 213.6,266.0 213.8,265.4 213.9,265.3 214.1,265.7 214.2,265.5 214.3,265.4 214.5,265.4 214.6,265.3 214.7,265.8 214.9,265.1 215.0,265.6 215.2,265.3 215.3,265.2 215.4,266.1 215.6,265.5 215.7,266.1 215.8,265.3 216.0,266.1 216.1,265.8 216.2,265.3 216.4,265.5 216.5,265.7 216.7,265.3 216.8,265.3 216.9,265.3 217.1,265.7 217.2,265.9 217.3,265.3 217.5,266.0 217.6,265.9 217.7,265.6 217.9,265.1 218.0,265.5 218.2,265.9 218.3,266.2 218.4,265.8 218.6,265.2 218.7,265.1 218.8,265.6 219.0,265.2 219.1,265.1 219.3,265.4 219.4,265.4 219.5,265.4 219.7,265.6 219.8,265.5 219.9,265.3 220.1,265.7 220.2,265.4 220.3,265.5 220.5,265.2 220.6,265.3 220.8,266.0 220.9,265.5 221.0,265.5 221.2,265.7 221.3,265.9 221.4,265.8 221.6,265.7 221.7,265.6 221.8,265.6 222.0,264.8 222.1,265.8 222.3,265.8 222.4,265.9 222.5,266.0 222.7,265.9 222.8,266.0 222.9,265.1 223.1,265.7 223.2,265.4 223.4,264.7 223.5,265.5 223.6,265.6 223.8,264.8 223.9,265.3 224.0,265.5 224.2,264.8 224.3,265.3 224.4,266.1 224.6,265.7 224.7,264.8 224.9,265.7 225.0,266.3 225.1,264.9 225.3,265.5 225.4,266.1 225.5,265.5 225.7,265.8 225.8,265.9 225.9,265.8 226.1,265.4 226.2,266.1 226.4,265.8 226.5,265.5 226.6,265.8 226.8,265.9 226.9,266.5 227.0,266.1 227.2,266.3 227.3,266.3 227.4,266.4 227.6,265.9 227.7,266.1 227.9,266.3 228.0,266.4 228.1,266.2 228.3,265.8 228.4,266.0 228.5,265.8 228.7,265.9 228.8,266.1 229.0,265.6 229.1,265.3 229.2,265.5 229.4,265.7 229.5,265.0 229.6,265.5 229.8,265.1 229.9,266.2 230.0,265.4 230.2,265.7 230.3,265.7 230.5,264.8 230.6,265.4 230.7,265.7 230.9,264.8 231.0,266.1 231.1,265.8 231.3,265.5 231.4,266.1 231.5,265.7 231.7,265.1 231.8,265.3 232.0,265.5 232.1,265.7 232.2,265.5 232.4,266.3 232.5,265.5 232.6,264.9 232.8,265.4 232.9,264.8 233.1,265.1 233.2,264.9 233.3,264.5 233.5,265.5 233.6,265.1 233.7,265.6 233.9,265.8 234.0,265.7 234.1,265.4 234.3,265.6 234.4,265.5 234.6,265.7 234.7,265.9 234.8,266.1 235.0,265.3 235.1,265.3 235.2,265.6 235.4,265.4 235.5,265.5 235.6,265.9 235.8,265.0 235.9,265.1 236.1,264.9 236.2,265.1 236.3,264.2 236.5,265.8 236.6,265.2 236.7,265.0 236.9,265.3 237.0,265.7 237.2,265.5 237.3,265.6 237.4,265.6 237.6,265.0 237.7,265.2 237.8,265.5 238.0,266.5 238.1,265.9 238.2,265.9 238.4,265.6 238.5,265.5 238.7,265.7 238.8,265.7 238.9,266.2 239.1,266.1 239.2,265.3 239.3,265.1 239.5,265.5 239.6,265.1 239.7,265.6 239.9,265.2 240.0,264.7 240.2,265.1 240.3,265.2 240.4,265.3 240.6,264.8 240.7,265.3 240.8,265.0 241.0,265.2 241.1,264.4 241.2,264.9 241.4,264.3 241.5,264.6 241.7,265.6 241.8,265.1 241.9,264.7 242.1,265.2 242.2,264.9 242.3,265.2 242.5,265.0 242.6,265.0 242.8,265.0 242.9,264.8 243.0,264.9 243.2,265.4 243.3,265.3 243.4,265.2 243.6,265.5 243.7,264.9 243.8,265.1 244.0,265.4 244.1,265.4 244.3,264.6 244.4,265.1 244.5,265.1 244.7,265.3 244.8,264.9 244.9,264.8 245.1,265.0 245.2,265.2 245.3,265.6 245.5,264.4 245.6,264.9 245.8,265.2 245.9,265.4 246.0,265.2 246.2,265.7 246.3,265.2 246.4,265.3 246.6,265.3 246.7,265.5 246.9,265.4 247.0,265.7 247.1,265.8 247.3,265.4 247.4,265.6 247.5,265.5 247.7,265.7 247.8,265.8 247.9,265.7 248.1,265.9 248.2,265.0 248.4,265.7 248.5,265.9 248.6,265.7 248.8,265.3 248.9,265.2 249.0,266.1 249.2,265.4 249.3,265.8 249.4,265.5 249.4,265.9 249.4,265.9 249.5,265.5 249.5,265.3 249.6,265.0 249.6,265.5 249.6,265.6 249.7,265.4 249.7,265.5 249.7,265.7 249.8,274.1 249.8,282.2 249.8,291.0 249.9,300.1 249.9,292.1 249.9,286.3 250.0,281.5 250.0,277.9 250.0,275.7 250.1,273.7 250.1,272.1 250.1,271.1 250.2,270.1 250.2,269.4 250.2,268.9 250.3,268.3 250.3,268.6 250.3,268.2 250.4,267.6 250.4,267.5 250.4,267.5 250.5,267.2 250.5,267.2 250.5,267.1 250.6,267.3 250.6,266.7 250.6,267.1 250.7,266.8 250.7,266.8 250.7,266.9 250.8,267.0 250.8,266.7 250.8,266.6 250.9,266.9 250.9,267.0 251.0,267.2 251.0,267.0 251.0,266.7 251.1,266.7 251.1,266.9 251.1,266.5 251.2,266.8 251.2,267.0 251.2,266.0 251.3,267.0 251.3,267.6 251.3,266.1 251.4,267.1 251.4,267.0 251.4,266.9 251.5,266.4 251.5,266.7 251.5,267.1 251.6,266.3 251.6,266.6 251.6,265.8 251.7,265.7 251.7,266.9 251.7,266.3 251.8,266.5 251.8,266.9 251.8,266.9 251.9,267.3 251.9,266.8 251.9,266.8 252.0,266.7 252.0,266.1 252.0,266.1 252.1,266.8 252.1,267.1 252.1,266.8 252.2,266.9 252.2,266.7 252.2,266.6 252.3,267.1 252.3,266.3 252.4,266.7 252.4,266.8 252.4,266.7 252.5,266.9 252.6,267.2 252.7,266.6 252.9,266.9 253.0,266.9 253.1,267.0 253.3,266.7 253.4,266.5 253.5,266.8 253.7,266.4 253.8,266.7 254.0,266.0 254.1,265.4 254.2,266.2 254.4,265.9 254.5,265.3 254.6,265.3 254.8,265.7 254.9,265.3 255.0,265.1 255.2,265.0 255.3,265.0 255.5,265.3 255.6,265.1 255.7,265.5 255.9,264.8 256.0,265.2 256.1,265.0 256.3,265.2 256.4,265.4 256.6,265.1 256.7,265.5" fill="none" stroke="#EDB120" stroke-width="0.8" stroke-linejoin="round" stroke-dasharray="7.2 3.7" stroke-dashoffset="0"/></g><text x="62.15" y="360.85" text-anchor="middle" font-size="16.3" textLength="7.73" lengthAdjust="spacingAndGlyphs">0</text><text x="130.47" y="360.85" text-anchor="middle" font-size="16.3" textLength="15.56" lengthAdjust="spacingAndGlyphs">20</text><text x="198.78" y="360.85" text-anchor="middle" font-size="16.3" textLength="15.56" lengthAdjust="spacingAndGlyphs">40</text><text x="267.10" y="360.85" text-anchor="middle" font-size="16.3" textLength="15.56" lengthAdjust="spacingAndGlyphs">60</text><text x="56.25" y="345.35" text-anchor="end" font-size="16.3" textLength="7.73" lengthAdjust="spacingAndGlyphs">0</text><text x="56.25" y="280.78" text-anchor="end" font-size="16.3" textLength="23.39" lengthAdjust="spacingAndGlyphs">200</text><text x="56.25" y="216.20" text-anchor="end" font-size="16.3" textLength="23.39" lengthAdjust="spacingAndGlyphs">400</text><text x="164.43" y="203.85" text-anchor="middle" font-size="17.3" textLength="22.6" lengthAdjust="spacingAndGlyphs">M3</text><text x="164.03" y="381.60" text-anchor="middle" font-size="17" textLength="66.6" lengthAdjust="spacingAndGlyphs" word-spacing="1.4">Times (s)</text><text transform="translate(23.6 279.85) rotate(-90)" text-anchor="middle" font-size="17" textLength="128.9" lengthAdjust="spacingAndGlyphs" word-spacing="3.0"><tspan letter-spacing="-0.8">Speed</tspan> (rotation/s)</text></g>
<g><line x1="331.20" y1="212.6" x2="331.20" y2="341.75" stroke="#e4e4e4" stroke-width="0.8"/><line x1="399.43" y1="212.6" x2="399.43" y2="341.75" stroke="#e4e4e4" stroke-width="0.8"/><line x1="467.67" y1="212.6" x2="467.67" y2="341.75" stroke="#e4e4e4" stroke-width="0.8"/><line x1="535.90" y1="212.6" x2="535.90" y2="341.75" stroke="#e4e4e4" stroke-width="0.8"/><line x1="331.2" y1="341.75" x2="535.9" y2="341.75" stroke="#e4e4e4" stroke-width="0.8"/><line x1="331.2" y1="277.18" x2="535.9" y2="277.18" stroke="#e4e4e4" stroke-width="0.8"/><line x1="331.2" y1="212.60" x2="535.9" y2="212.60" stroke="#e4e4e4" stroke-width="0.8"/><path d="M331.2 212.6V341.75H535.9" fill="none" stroke="#707070" stroke-width="1"/><path d="M331.20 341.75v-2M399.43 341.75v-2M467.67 341.75v-2M535.90 341.75v-2M331.2 341.75h2M331.2 277.18h2M331.2 212.60h2" fill="none" stroke="#707070" stroke-width="1"/><g filter="url(#soft)"><polyline points="331.2,324.0 331.2,324.0 331.3,324.0 331.3,324.0 331.3,324.0 331.4,324.0 331.4,324.0 331.4,324.0 331.5,324.0 331.5,324.0 331.5,324.0 331.6,324.0 331.6,324.0 331.6,324.0 331.7,324.0 331.7,324.0 331.7,324.0 331.8,324.0 331.8,324.0 331.8,324.0 331.9,324.0 331.9,324.0 332.0,324.0 332.0,324.0 332.0,324.0 332.1,324.0 332.1,324.0 332.1,324.0 332.2,324.0 332.2,324.0 332.2,324.0 332.3,324.0 332.3,324.0 332.3,324.0 332.4,324.0 332.4,324.0 332.4,324.0 332.5,324.0 332.5,324.0 332.5,324.0 332.6,324.0 332.6,324.0 332.6,324.0 332.7,324.0 332.7,324.0 332.7,324.0 332.8,324.0 332.8,324.0 332.8,324.0 332.9,324.0 332.9,324.0 332.9,324.0 333.0,324.0 333.0,324.0 333.0,324.0 333.1,324.0 333.1,324.0 333.1,324.0 333.2,313.1 333.2,302.2 333.2,291.3 333.3,280.5 333.3,269.6 333.3,258.7 333.4,247.8 333.4,236.9 333.5,226.1 333.5,215.2 333.5,218.6 333.6,221.9 333.6,225.1 333.6,228.1 333.7,230.9 333.7,233.6 333.7,236.2 333.8,238.1 333.8,240.3 333.8,242.9 333.9,245.7 333.9,247.2 333.9,249.0 334.0,250.5 334.0,253.0 334.0,254.7 334.1,255.6 334.1,257.6 334.1,259.6 334.2,260.4 334.2,261.2 334.2,263.8 334.3,264.1 334.3,265.3 334.3,266.6 334.4,268.1 334.4,269.0 334.4,269.6 334.5,270.5 334.5,271.0 334.5,271.6 334.6,273.1 334.6,274.7 334.6,274.7 334.7,276.0 334.7,276.2 334.7,277.0 334.8,277.2 334.8,278.6 334.9,278.4 334.9,279.7 334.9,279.6 335.0,280.2 335.0,280.5 335.0,280.6 335.1,281.0 335.1,281.7 335.1,282.1 335.2,282.8 335.2,282.7 335.2,282.9 335.3,283.2 335.3,284.1 335.3,284.6 335.4,284.9 335.4,284.7 335.4,285.6 335.5,285.5 335.5,285.9 335.5,286.3 335.6,285.4 335.6,286.2 335.6,286.3 335.7,286.5 335.7,286.4 335.7,286.8 335.8,286.0 335.8,286.7 335.8,287.1 335.9,286.9 335.9,287.5 335.9,287.0 336.0,287.8 336.0,287.0 336.0,287.3 336.1,287.6 336.1,287.5 336.1,287.3 336.2,288.3 336.2,286.8 336.2,287.8 336.3,287.8 336.3,288.4 336.4,287.8 336.4,287.8 336.4,289.0 336.5,287.7 336.5,288.3 336.5,288.4 336.6,288.6 336.6,288.2 336.6,287.7 336.7,288.4 336.8,288.9 336.9,288.6 337.1,288.7 337.2,288.5 337.3,288.5 337.5,288.6 337.6,289.2 337.8,289.0 337.9,289.2 338.0,289.7 338.2,289.4 338.3,289.4 338.4,289.4 338.6,289.8 338.7,290.1 338.8,290.2 339.0,289.2 339.1,289.8 339.3,289.5 339.4,289.7 339.5,290.0 339.7,289.4 339.8,289.6 339.9,289.1 340.1,289.1 340.2,288.8 340.3,288.9 340.5,290.3 340.6,289.1 340.8,288.3 340.9,289.2 341.0,288.2 341.2,289.4 341.3,289.5 341.4,288.4 341.6,289.1 341.7,288.9 341.8,289.0 342.0,288.9 342.1,289.3 342.3,288.6 342.4,289.1 342.5,289.2 342.7,289.8 342.8,288.8 342.9,289.1 343.1,288.8 343.2,289.2 343.3,289.2 343.5,288.6 343.6,289.2 343.8,289.2 343.9,289.2 344.0,288.8 344.2,288.7 344.3,288.8 344.4,289.2 344.6,289.6 344.7,289.1 344.8,289.3 345.0,288.9 345.1,289.7 345.3,289.7 345.4,289.1 345.5,289.0 345.7,289.9 345.8,289.3 345.9,289.5 346.1,289.9 346.2,288.8 346.3,289.6 346.5,289.9 346.6,289.5 346.8,289.5 346.9,289.3 347.0,289.2 347.2,289.9 347.3,289.4 347.4,290.0 347.6,289.2 347.7,289.4 347.8,289.2 348.0,289.0 348.1,289.5 348.3,289.7 348.4,289.8 348.5,290.2 348.7,289.4 348.8,289.8 348.9,288.9 349.1,289.3 349.2,289.8 349.4,289.4 349.5,289.5 349.6,289.8 349.8,289.4 349.9,289.8 350.0,290.0 350.2,289.7 350.3,289.9 350.4,290.2 350.6,289.7 350.7,289.6 350.9,290.4 351.0,289.8 351.1,290.0 351.3,289.7 351.4,289.7 351.5,289.6 351.7,289.8 351.8,289.2 351.9,289.5 352.1,289.0 352.2,289.6 352.4,289.7 352.5,290.3 352.6,289.8 352.8,289.9 352.9,289.9 353.0,290.0 353.2,289.5 353.3,289.6 353.4,288.9 353.6,289.0 353.7,289.4 353.9,289.9 354.0,289.0 354.1,290.1 354.3,289.2 354.4,289.5 354.5,289.4 354.7,289.2 354.8,289.0 354.9,289.0 355.1,289.7 355.2,289.6 355.4,288.9 355.5,289.0 355.6,289.3 355.8,289.2 355.9,288.6 356.0,288.1 356.2,289.6 356.3,289.2 356.4,289.1 356.6,288.9 356.7,288.7 356.9,289.1 357.0,289.0 357.1,289.7 357.3,289.7 357.4,288.9 357.5,289.0 357.7,289.7 357.8,289.1 357.9,288.9 358.1,289.5 358.2,289.4 358.4,289.4 358.5,290.2 358.6,289.1 358.8,289.7 358.9,289.4 359.0,289.2 359.2,289.9 359.3,289.5 359.4,289.7 359.6,289.8 359.7,289.6 359.9,289.9 360.0,289.7 360.1,289.2 360.3,289.1 360.4,289.5 360.5,289.3 360.7,288.9 360.8,289.4 360.9,289.4 361.1,289.1 361.2,289.2 361.4,288.8 361.5,288.7 361.6,289.8 361.8,289.7 361.9,290.2 362.0,289.2 362.2,289.1 362.3,289.6 362.5,289.6 362.6,289.7 362.7,290.3 362.9,289.5 363.0,289.4 363.1,289.7 363.3,289.2 363.4,290.0 363.5,289.4 363.7,290.0 363.8,288.6 364.0,289.8 364.1,290.1 364.2,289.8 364.4,290.0 364.5,288.8 364.6,289.7 364.8,289.7 364.9,289.6 365.0,289.9 365.2,289.9 365.3,288.9 365.5,289.5 365.6,290.1 365.7,288.8 365.9,289.7 366.0,289.5 366.1,289.3 366.3,289.1 366.4,289.7 366.5,290.2 366.7,289.1 366.8,289.1 367.0,290.2 367.1,289.7 367.2,289.8 367.4,289.7 367.5,289.9 367.6,289.8 367.8,289.4 367.9,289.4 368.0,288.7 368.2,289.4 368.3,288.8 368.5,290.4 368.6,289.0 368.7,289.2 368.9,289.6 369.0,288.6 369.1,289.1 369.3,289.5 369.4,289.7 369.5,289.1 369.7,289.8 369.8,288.9 370.0,289.2 370.1,289.0 370.2,289.3 370.4,289.1 370.5,289.7 370.6,289.3 370.8,289.7 370.9,289.1 371.0,290.2 371.2,289.6 371.3,290.4 371.5,289.3 371.6,289.7 371.7,290.0 371.9,289.5 372.0,290.2 372.1,290.2 372.3,289.7 372.4,289.9 372.5,289.6 372.7,289.7 372.8,289.0 373.0,289.7 373.1,289.4 373.2,288.9 373.4,288.8 373.5,289.7 373.6,289.2 373.8,289.5 373.9,289.8 374.1,289.4 374.2,288.9 374.3,288.9 374.5,289.7 374.6,289.7 374.7,289.7 374.9,289.5 375.0,288.8 375.1,289.0 375.3,288.9 375.4,288.8 375.6,289.3 375.7,289.5 375.8,288.5 376.0,289.0 376.1,289.5 376.2,288.6 376.4,289.7 376.5,288.9 376.6,289.4 376.8,288.7 376.9,289.0 377.1,289.3 377.2,289.2 377.3,289.5 377.5,290.1 377.6,289.4 377.7,289.3 377.9,289.7 378.0,289.1 378.1,289.9 378.3,288.7 378.4,290.0 378.6,289.6 378.7,289.7 378.8,290.2 379.0,289.2 379.1,289.4 379.2,290.1 379.4,289.5 379.5,289.3 379.6,289.3 379.8,289.4 379.9,290.1 380.1,288.6 380.2,289.6 380.3,288.7 380.5,289.6 380.6,289.1 380.7,288.9 380.9,289.5 381.0,289.1 381.1,288.6 381.3,289.7 381.4,289.5 381.6,289.2 381.7,288.8 381.8,288.6 382.0,289.9 382.1,289.8 382.2,288.6 382.4,289.8 382.5,289.7 382.6,289.6 382.8,289.7 382.9,289.0 383.1,289.4 383.2,289.1 383.3,289.3 383.5,290.1 383.6,289.5 383.7,289.0 383.9,288.8 384.0,288.5 384.1,289.4 384.3,289.0 384.4,289.8 384.6,289.5 384.7,288.6 384.8,289.3 385.0,288.9 385.1,289.0 385.2,289.5 385.4,289.3 385.5,289.9 385.7,289.5 385.8,289.0 385.9,289.8 386.1,289.9 386.2,289.8 386.3,288.9 386.5,289.0 386.6,290.1 386.7,289.0 386.9,290.0 387.0,289.1 387.2,289.1 387.3,289.4 387.4,289.2 387.6,289.7 387.7,288.6 387.8,289.2 388.0,289.2 388.1,288.8 388.2,288.7 388.4,289.5 388.5,288.9 388.7,290.0 388.8,289.3 388.9,289.3 389.1,288.6 389.2,288.7 389.3,289.3 389.5,289.1 389.6,288.9 389.7,288.6 389.9,288.4 390.0,289.0 390.2,288.8 390.3,289.3 390.4,289.1 390.6,289.5 390.7,289.1 390.8,290.0 391.0,288.9 391.1,288.4 391.2,289.6 391.4,288.8 391.5,288.7 391.7,288.6 391.8,288.7 391.9,288.6 392.1,289.5 392.2,289.1 392.3,289.1 392.5,289.2 392.6,288.4 392.7,288.8 392.9,288.6 393.0,289.2 393.2,288.8 393.3,289.9 393.4,289.6 393.6,289.2 393.7,289.2 393.8,289.4 394.0,289.7 394.1,289.5 394.2,289.5 394.4,289.1 394.5,289.2 394.7,289.5 394.8,288.6 394.9,289.5 395.1,289.4 395.2,289.7 395.3,289.4 395.5,289.3 395.6,289.7 395.7,289.7 395.9,289.5 396.0,289.2 396.2,289.8 396.3,289.8 396.4,289.7 396.6,289.6 396.7,289.5 396.8,289.1 397.0,288.9 397.1,289.2 397.2,289.7 397.4,290.1 397.5,289.7 397.7,290.2 397.8,289.8 397.9,289.6 398.1,289.2 398.2,289.4 398.3,289.4 398.5,289.6 398.6,289.4 398.8,289.2 398.9,289.6 399.0,289.4 399.2,289.1 399.3,288.9 399.4,289.3 399.6,289.4 399.7,289.5 399.8,288.6 400.0,288.5 400.1,288.7 400.3,288.5 400.4,289.1 400.5,289.2 400.7,289.0 400.8,288.6 400.9,288.9 401.1,288.6 401.2,288.9 401.3,288.9 401.5,288.5 401.6,289.0 401.8,288.7 401.9,288.9 402.0,288.9 402.2,288.5 402.3,289.6 402.4,289.9 402.6,288.9 402.7,289.3 402.8,289.3 403.0,289.8 403.1,289.6 403.3,290.7 403.4,290.1 403.5,290.0 403.7,290.2 403.8,289.9 403.9,289.9 404.1,289.6 404.2,290.2 404.3,290.2 404.5,289.5 404.6,289.2 404.8,289.3 404.9,289.8 405.0,289.3 405.2,289.5 405.3,289.7 405.4,289.4 405.6,288.8 405.7,289.3 405.8,289.1 406.0,289.4 406.1,289.5 406.3,289.4 406.4,289.7 406.5,289.0 406.7,289.8 406.8,289.3 406.9,289.8 407.1,289.5 407.2,289.2 407.3,289.0 407.5,289.6 407.6,289.1 407.8,289.2 407.9,289.1 408.0,289.7 408.2,289.7 408.3,289.4 408.4,288.9 408.6,289.2 408.7,289.7 408.8,290.3 409.0,289.0 409.1,289.4 409.3,289.9 409.4,289.1 409.5,289.9 409.7,288.5 409.8,289.3 409.9,288.4 410.1,288.8 410.2,289.1 410.4,289.1 410.5,289.3 410.6,289.2 410.8,289.6 410.9,289.4 411.0,289.2 411.2,289.0 411.3,289.6 411.4,289.8 411.6,289.6 411.7,289.6 411.9,290.1 412.0,289.6 412.1,290.2 412.3,290.0 412.4,289.5 412.5,288.6 412.7,289.2 412.8,289.5 412.9,289.9 413.1,289.5 413.2,288.8 413.4,289.8 413.5,288.9 413.6,290.1 413.8,289.0 413.9,289.2 414.0,289.6 414.2,289.4 414.3,289.8 414.4,289.7 414.6,290.0 414.7,290.1 414.9,289.8 415.0,289.7 415.1,289.7 415.3,290.1 415.4,288.7 415.5,288.8 415.7,289.5 415.8,288.5 415.9,289.1 416.1,288.9 416.2,288.4 416.4,289.0 416.5,289.2 416.6,289.4 416.8,288.6 416.9,288.3 417.0,288.2 417.2,289.2 417.3,289.1 417.4,289.3 417.6,288.7 417.7,288.9 417.9,289.3 418.0,288.9 418.1,289.8 418.3,288.9 418.4,290.0 418.5,289.2 418.7,289.3 418.8,289.6 418.9,288.8 419.1,289.0 419.2,289.6 419.4,289.8 419.5,290.2 419.6,290.2 419.8,289.5 419.9,289.8 420.0,290.3 420.2,289.9 420.3,289.8 420.4,290.0 420.6,289.9 420.7,290.2 420.9,290.2 421.0,289.4 421.1,290.1 421.3,290.2 421.4,290.4 421.5,290.1 421.7,289.8 421.8,289.4 422.0,289.6 422.1,289.4 422.2,290.0 422.4,290.1 422.5,289.4 422.6,289.2 422.8,289.4 422.9,289.6 423.0,289.3 423.2,289.6 423.3,289.1 423.5,289.4 423.6,289.4 423.7,289.6 423.9,289.3 424.0,290.4 424.1,288.7 424.3,289.6 424.4,289.3 424.5,289.9 424.7,290.0 424.8,290.3 425.0,289.6 425.1,289.3 425.2,289.6 425.4,289.2 425.5,289.8 425.6,289.5 425.8,290.2 425.9,288.7 426.0,289.4 426.2,288.7 426.3,289.8 426.5,289.4 426.6,289.0 426.7,289.7 426.9,290.1 427.0,290.1 427.1,289.5 427.3,289.1 427.4,289.5 427.5,290.1 427.7,289.7 427.8,289.8 428.0,289.4 428.1,290.0 428.2,289.5 428.4,290.3 428.5,289.4 428.6,289.5 428.8,289.6 428.9,289.8 429.0,289.9 429.2,289.7 429.3,289.2 429.5,289.5 429.6,289.9 429.7,290.1 429.9,288.9 430.0,289.6 430.1,289.7 430.3,290.2 430.4,289.8 430.5,289.7 430.7,289.5 430.8,289.7 431.0,289.7 431.1,289.8 431.2,289.5 431.4,289.0 431.5,289.7 431.6,290.0 431.8,289.2 431.9,289.0 432.0,289.0 432.2,289.1 432.3,290.1 432.5,289.5 432.6,289.3 432.7,289.7 432.9,289.4 433.0,289.1 433.1,289.9 433.3,289.9 433.4,290.0 433.6,289.2 433.7,289.8 433.8,289.9 434.0,290.2 434.1,288.9 434.2,289.7 434.4,289.3 434.5,288.9 434.6,289.0 434.8,289.4 434.9,289.5 435.1,289.1 435.2,290.1 435.3,288.8 435.5,289.0 435.6,289.8 435.7,289.3 435.9,289.0 436.0,289.2 436.1,289.3 436.3,289.3 436.4,288.6 436.6,288.8 436.7,289.7 436.8,289.8 437.0,289.9 437.1,289.4 437.2,289.5 437.4,289.9 437.5,290.0 437.6,289.7 437.8,289.1 437.9,289.8 438.1,290.3 438.2,289.8 438.3,289.3 438.5,288.6 438.6,288.9 438.7,288.8 438.9,289.3 439.0,289.2 439.1,288.9 439.3,288.6 439.4,288.6 439.6,288.5 439.7,288.9 439.8,289.2 440.0,289.0 440.1,289.0 440.2,289.0 440.4,289.1 440.5,289.2 440.6,288.8 440.8,289.2 440.9,289.1 441.1,289.1 441.2,289.3 441.3,289.7 441.5,289.6 441.6,289.6 441.7,290.1 441.9,289.7 442.0,290.2 442.1,290.0 442.3,290.1 442.4,289.6 442.6,289.0 442.7,289.8 442.8,290.7 443.0,289.9 443.1,290.4 443.2,289.6 443.4,290.1 443.5,289.8 443.6,289.3 443.8,289.1 443.9,288.8 444.1,289.7 444.2,289.9 444.3,289.3 444.5,289.0 444.6,288.5 444.7,288.7 444.9,288.3 445.0,288.6 445.1,288.8 445.3,289.1 445.4,288.4 445.6,288.9 445.7,288.8 445.8,288.7 446.0,288.8 446.1,288.8 446.2,289.3 446.4,288.6 446.5,288.7 446.7,288.8 446.8,289.7 446.9,288.9 447.1,288.5 447.2,288.9 447.3,289.3 447.5,289.8 447.6,289.3 447.7,289.6 447.9,289.4 448.0,289.9 448.2,289.9 448.3,288.9 448.4,289.3 448.6,289.7 448.7,289.9 448.8,289.5 449.0,289.5 449.1,290.2 449.2,289.1 449.4,289.2 449.5,290.0 449.7,289.3 449.8,289.2 449.9,289.4 450.1,289.5 450.2,289.7 450.3,288.9 450.5,289.5 450.6,289.3 450.7,289.8 450.9,289.5 451.0,289.1 451.2,289.6 451.3,289.3 451.4,289.3 451.6,289.5 451.7,290.0 451.8,289.1 452.0,289.3 452.1,289.7 452.2,290.1 452.4,290.0 452.5,289.9 452.7,289.9 452.8,289.7 452.9,290.4 453.1,289.9 453.2,289.9 453.3,290.6 453.5,289.4 453.6,289.6 453.7,289.3 453.9,289.7 454.0,290.1 454.2,289.8 454.3,289.1 454.4,290.0 454.6,290.2 454.7,289.3 454.8,290.0 455.0,289.7 455.1,289.3 455.2,289.7 455.4,289.8 455.5,289.1 455.7,290.1 455.8,289.3 455.9,290.1 456.1,289.7 456.2,289.1 456.3,289.1 456.5,290.2 456.6,288.6 456.7,289.0 456.9,289.7 457.0,289.1 457.2,289.2 457.3,289.5 457.4,290.0 457.6,289.5 457.7,290.0 457.8,289.0 458.0,289.5 458.1,289.2 458.3,289.5 458.4,288.9 458.5,289.5 458.7,289.5 458.8,289.0 458.9,288.9 459.1,289.3 459.2,290.0 459.3,289.1 459.5,289.2 459.6,289.1 459.8,289.9 459.9,289.8 460.0,289.6 460.2,289.7 460.3,289.7 460.4,289.4 460.6,288.3 460.7,288.7 460.8,289.9 461.0,289.3 461.1,289.6 461.3,289.5 461.4,289.2 461.5,289.9 461.7,290.2 461.8,289.2 461.9,290.0 462.1,289.6 462.2,288.9 462.3,290.2 462.5,289.2 462.6,289.1 462.8,288.9 462.9,289.9 463.0,290.0 463.2,289.1 463.3,290.4 463.4,290.0 463.6,289.4 463.7,289.3 463.8,290.1 464.0,289.6 464.1,289.9 464.3,289.4 464.4,290.0 464.5,289.0 464.7,290.0 464.8,290.0 464.9,288.8 465.1,290.0 465.2,289.5 465.3,290.1 465.5,289.5 465.6,289.3 465.8,289.4 465.9,289.0 466.0,289.1 466.2,289.2 466.3,289.6 466.4,289.1 466.6,289.0 466.7,288.6 466.8,289.1 467.0,289.1 467.1,288.9 467.3,289.0 467.4,288.8 467.5,288.7 467.7,288.8 467.8,289.8 467.9,289.2 468.1,289.4 468.2,289.3 468.3,289.6 468.5,289.4 468.6,289.3 468.8,289.6 468.9,289.0 469.0,289.7 469.2,289.5 469.3,290.1 469.4,289.2 469.6,290.2 469.7,289.2 469.9,289.9 470.0,289.6 470.1,289.3 470.3,289.9 470.4,289.9 470.5,289.8 470.7,289.2 470.8,289.1 470.9,289.3 471.1,289.7 471.2,288.9 471.4,289.2 471.5,289.7 471.6,289.8 471.8,289.5 471.9,288.8 472.0,289.9 472.2,290.0 472.3,289.7 472.4,289.7 472.6,289.7 472.7,289.6 472.9,289.9 473.0,289.5 473.1,290.0 473.3,289.8 473.4,289.5 473.5,289.7 473.7,289.7 473.8,289.9 473.9,289.3 474.1,289.6 474.2,289.5 474.4,290.1 474.5,289.4 474.6,289.8 474.8,289.5 474.9,288.8 475.0,289.9 475.2,289.5 475.3,289.2 475.4,289.6 475.6,288.3 475.7,289.4 475.9,289.0 476.0,289.5 476.1,289.5 476.3,288.9 476.4,289.5 476.5,289.4 476.7,288.8 476.8,289.5 476.9,288.8 477.1,288.5 477.2,288.7 477.4,289.3 477.5,289.2 477.6,289.1 477.8,289.6 477.9,288.8 478.0,288.9 478.2,289.5 478.3,289.8 478.4,289.4 478.6,290.1 478.7,290.2 478.9,290.1 479.0,289.6 479.1,290.0 479.3,289.5 479.4,289.3 479.5,289.4 479.7,290.0 479.8,289.6 479.9,289.8 480.1,289.5 480.2,289.7 480.4,289.6 480.5,289.9 480.6,289.5 480.8,289.7 480.9,290.4 481.0,290.4 481.2,288.5 481.3,289.5 481.4,289.4 481.6,289.3 481.7,289.3 481.9,289.1 482.0,289.1 482.1,289.4 482.3,289.1 482.4,289.5 482.5,289.6 482.7,289.4 482.8,289.1 483.0,289.7 483.1,289.8 483.2,289.4 483.4,289.8 483.5,289.5 483.6,288.7 483.8,289.6 483.9,289.6 484.0,289.5 484.2,289.2 484.3,289.7 484.5,289.4 484.6,289.4 484.7,289.9 484.9,289.2 485.0,289.4 485.1,289.0 485.3,289.1 485.4,289.2 485.5,289.4 485.7,288.8 485.8,289.0 486.0,289.3 486.1,289.4 486.2,289.6 486.4,288.9 486.5,289.3 486.6,289.9 486.8,290.2 486.9,290.0 487.0,289.3 487.2,290.0 487.3,289.3 487.5,289.8 487.6,289.8 487.7,289.5 487.9,289.8 488.0,290.6 488.1,289.5 488.3,289.9 488.4,289.6 488.5,289.9 488.7,289.7 488.8,290.4 489.0,290.3 489.1,289.1 489.2,289.7 489.4,289.7 489.5,289.0 489.6,288.9 489.8,289.9 489.9,290.0 490.0,289.9 490.2,289.2 490.3,289.5 490.5,289.8 490.6,289.4 490.7,290.0 490.9,289.3 491.0,290.4 491.1,289.8 491.3,290.2 491.4,289.3 491.5,289.0 491.7,289.7 491.8,289.0 492.0,289.2 492.1,288.8 492.2,289.7 492.4,289.4 492.5,289.6 492.6,289.2 492.8,289.2 492.9,288.7 493.0,289.1 493.2,289.7 493.3,289.4 493.5,289.2 493.6,289.7 493.7,289.7 493.9,289.9 494.0,289.2 494.1,289.2 494.3,289.4 494.4,289.0 494.6,290.3 494.7,289.6 494.8,290.0 495.0,290.0 495.1,289.1 495.2,289.5 495.4,289.6 495.5,289.8 495.6,290.1 495.8,289.9 495.9,289.7 496.1,289.6 496.2,289.8 496.3,289.6 496.5,289.5 496.6,288.9 496.7,289.4 496.9,288.7 497.0,288.9 497.1,289.4 497.3,288.6 497.4,289.2 497.6,289.7 497.7,288.7 497.8,289.1 498.0,289.3 498.1,289.4 498.2,288.9 498.4,288.4 498.5,289.6 498.6,289.3 498.8,289.1 498.9,289.3 499.1,289.1 499.2,289.2 499.3,289.1 499.5,289.5 499.6,289.2 499.7,289.8 499.9,289.3 500.0,289.6 500.1,288.8 500.3,288.9 500.4,289.5 500.6,288.7 500.7,288.9 500.8,288.8 501.0,288.8 501.1,288.8 501.2,289.2 501.4,289.8 501.5,288.6 501.6,288.9 501.8,289.1 501.9,289.4 502.1,289.3 502.2,289.8 502.3,289.9 502.5,289.5 502.6,289.1 502.7,288.9 502.9,288.5 503.0,289.5 503.1,289.6 503.3,289.5 503.4,290.1 503.6,289.6 503.7,289.2 503.8,288.8 504.0,290.0 504.1,289.7 504.2,289.2 504.4,289.8 504.5,290.0 504.6,289.6 504.8,289.9 504.9,289.5 505.1,290.2 505.2,289.8 505.3,290.5 505.5,289.6 505.6,289.5 505.7,289.1 505.9,290.2 506.0,289.4 506.2,289.7 506.3,289.2 506.4,290.1 506.6,289.3 506.7,289.6 506.8,289.7 507.0,289.9 507.1,288.7 507.2,289.3 507.4,289.2 507.5,289.0 507.7,289.1 507.8,289.8 507.9,289.6 508.1,289.4 508.2,289.5 508.3,289.4 508.5,289.1 508.6,289.6 508.7,289.2 508.9,288.9 509.0,288.9 509.2,289.2 509.3,289.0 509.4,288.7 509.6,288.9 509.7,289.0 509.8,289.1 510.0,288.7 510.1,289.1 510.2,289.0 510.4,288.7 510.5,289.0 510.7,289.5 510.8,288.7 510.9,288.8 511.1,289.1 511.2,289.1 511.3,288.8 511.5,289.4 511.6,289.0 511.7,289.8 511.9,289.5 512.0,289.5 512.2,289.4 512.3,289.8 512.4,289.1 512.6,289.9 512.7,289.4 512.8,289.1 513.0,289.9 513.1,289.4 513.2,289.6 513.4,289.9 513.5,289.3 513.7,289.7 513.8,288.9 513.9,288.6 514.1,289.3 514.2,288.6 514.3,289.7 514.5,289.0 514.6,289.8 514.7,289.1 514.9,289.4 515.0,289.0 515.2,289.3 515.3,289.6 515.4,289.6 515.6,289.8 515.7,289.6 515.8,289.6 516.0,289.7 516.1,290.1 516.2,290.2 516.4,289.0 516.5,290.0 516.7,289.5 516.8,289.4 516.9,289.6 517.1,289.1 517.2,289.2 517.3,289.2 517.5,289.4 517.6,289.6 517.7,289.3 517.9,289.3 518.0,290.0 518.2,289.7 518.3,288.7 518.4,289.2 518.5,290.0 518.5,289.4 518.6,289.7 518.6,289.2 518.6,289.4 518.7,289.2 518.7,289.7 518.7,290.1 518.8,290.2 518.8,289.7 518.8,290.1 518.9,289.6 518.9,289.3 518.9,290.8 519.0,289.6 519.0,289.5 519.0,290.1 519.1,289.8 519.1,289.1 519.1,289.4 519.2,289.6 519.2,286.5 519.3,283.0 519.3,280.0 519.3,276.8 519.4,279.5 519.4,281.8 519.4,283.4 519.5,284.6 519.5,285.7 519.5,286.3 519.6,286.8 519.6,287.3 519.6,287.8 519.7,287.6 519.7,287.8 519.7,288.5 519.8,288.2 519.8,288.3 519.8,288.5 519.9,288.5 519.9,288.4 519.9,288.7 520.0,288.5 520.0,288.9 520.0,289.1 520.1,289.4 520.1,288.6 520.1,288.3 520.2,288.6 520.2,289.3 520.2,288.8 520.3,288.7 520.3,288.9 520.3,288.9 520.4,289.2 520.4,289.1 520.4,288.5 520.5,288.2 520.5,288.2 520.5,288.0 520.6,288.6 520.6,288.6 520.6,288.7 520.7,288.9 520.7,289.0 520.8,289.1 520.8,289.1 520.8,288.7 520.9,288.3 520.9,289.0 520.9,288.6 521.0,288.5 521.0,288.8 521.0,288.3 521.1,289.2 521.1,288.7 521.1,289.0 521.2,289.0 521.2,288.5 521.2,288.6 521.3,288.4 521.3,288.7 521.3,288.0 521.4,288.9 521.4,288.9 521.4,288.2 521.5,288.5 521.5,288.1 521.5,288.8 521.6,288.5 521.7,288.2 521.8,288.6 522.0,288.0 522.1,288.2 522.3,288.5 522.4,288.5 522.5,288.0 522.7,288.7 522.8,288.4 522.9,288.2 523.1,289.4 523.2,289.8 523.3,290.0 523.5,289.4 523.6,289.5 523.8,290.4 523.9,289.5 524.0,289.8 524.2,289.2 524.3,289.2 524.4,289.8 524.6,289.1 524.7,289.2 524.8,289.8 525.0,289.4 525.1,289.5 525.3,289.0 525.4,289.4 525.5,289.9 525.7,289.3 525.8,290.3 525.9,289.3 526.1,289.5 526.2,289.5 526.3,289.2 526.5,289.3" fill="none" stroke="#0072BD" stroke-width="2.0" stroke-linejoin="round"/><polyline points="331.2,324.0 331.2,324.0 331.3,324.0 331.3,324.0 331.3,324.0 331.4,324.0 331.4,324.0 331.4,324.0 331.5,324.0 331.5,324.0 331.5,324.0 331.6,324.0 331.6,324.0 331.6,324.0 331.7,324.0 331.7,324.0 331.7,324.0 331.8,324.0 331.8,324.0 331.8,324.0 331.9,324.0 331.9,324.0 332.0,324.0 332.0,324.0 332.0,324.0 332.1,324.0 332.1,324.0 332.1,324.0 332.2,324.0 332.2,324.0 332.2,324.0 332.3,324.0 332.3,324.0 332.3,324.0 332.4,324.0 332.4,324.0 332.4,324.0 332.5,324.0 332.5,324.0 332.5,324.0 332.6,324.0 332.6,324.0 332.6,324.0 332.7,324.0 332.7,324.0 332.7,324.0 332.8,324.0 332.8,324.0 332.8,314.7 332.9,305.5 332.9,296.2 332.9,286.9 333.0,277.7 333.0,268.4 333.0,259.1 333.1,249.9 333.1,240.6 333.1,231.3 333.2,234.0 333.2,236.6 333.2,239.1 333.3,241.4 333.3,243.6 333.3,245.8 333.4,247.8 333.4,249.7 333.5,251.6 333.5,253.3 333.5,255.0 333.6,256.6 333.6,258.2 333.6,259.6 333.7,261.0 333.7,262.3 333.7,263.6 333.8,264.0 333.8,265.4 333.8,266.7 333.9,268.0 333.9,268.4 333.9,269.9 334.0,270.0 334.0,271.6 334.0,271.9 334.1,273.3 334.1,273.7 334.1,274.7 334.2,275.1 334.2,276.2 334.2,276.8 334.3,277.1 334.3,277.4 334.3,277.9 334.4,279.2 334.4,279.6 334.4,279.4 334.5,279.6 334.5,280.4 334.5,281.3 334.6,281.3 334.6,282.6 334.6,282.4 334.7,282.7 334.7,282.8 334.7,283.4 334.8,284.0 334.8,284.1 334.9,284.3 334.9,284.3 334.9,284.2 335.0,284.7 335.0,285.6 335.0,284.7 335.1,286.0 335.1,285.6 335.1,286.4 335.2,286.4 335.2,286.4 335.2,286.8 335.3,287.0 335.3,286.9 335.3,287.8 335.4,287.3 335.4,287.6 335.4,288.1 335.5,287.6 335.5,288.1 335.5,287.7 335.6,287.9 335.6,288.2 335.6,287.9 335.7,287.8 335.7,288.1 335.7,287.8 335.8,287.8 335.8,288.2 335.8,288.4 335.9,288.1 335.9,287.7 335.9,288.7 336.0,288.1 336.0,288.2 336.0,288.6 336.1,288.7 336.1,288.9 336.1,288.2 336.2,288.7 336.2,288.6 336.2,288.4 336.3,289.3 336.3,288.7 336.4,289.0 336.4,288.9 336.4,289.1 336.5,288.5 336.5,288.9 336.5,287.6 336.6,288.5 336.6,288.4 336.6,288.8 336.7,288.5 336.8,289.6 336.9,288.6 337.1,288.8 337.2,289.0 337.3,288.7 337.5,289.3 337.6,289.4 337.8,289.2 337.9,289.6 338.0,289.7 338.2,290.1 338.3,289.2 338.4,289.5 338.6,289.5 338.7,289.5 338.8,289.2 339.0,289.4 339.1,289.7 339.3,289.7 339.4,288.8 339.5,289.9 339.7,289.1 339.8,289.8 339.9,289.4 340.1,290.1 340.2,288.9 340.3,289.5 340.5,289.7 340.6,289.3 340.8,289.0 340.9,288.9 341.0,289.2 341.2,289.5 341.3,288.9 341.4,289.0 341.6,289.2 341.7,289.5 341.8,288.9 342.0,289.1 342.1,289.2 342.3,289.1 342.4,288.4 342.5,289.0 342.7,289.3 342.8,288.9 342.9,289.1 343.1,289.1 343.2,288.9 343.3,288.7 343.5,288.7 343.6,289.4 343.8,288.8 343.9,289.1 344.0,289.4 344.2,289.3 344.3,289.1 344.4,289.5 344.6,289.7 344.7,289.0 344.8,289.2 345.0,289.5 345.1,289.6 345.3,289.0 345.4,289.1 345.5,289.2 345.7,289.3 345.8,289.0 345.9,289.7 346.1,289.5 346.2,289.0 346.3,289.2 346.5,289.8 346.6,289.7 346.8,289.8 346.9,289.9 347.0,289.6 347.2,289.7 347.3,289.3 347.4,289.8 347.6,289.3 347.7,289.3 347.8,289.6 348.0,289.7 348.1,290.0 348.3,289.9 348.4,289.7 348.5,289.6 348.7,289.5 348.8,289.2 348.9,289.9 349.1,289.9 349.2,289.8 349.4,289.4 349.5,290.3 349.6,289.1 349.8,289.7 349.9,289.7 350.0,289.8 350.2,289.5 350.3,289.5 350.4,289.5 350.6,290.1 350.7,289.6 350.9,290.0 351.0,289.4 351.1,289.9 351.3,289.5 351.4,289.8 351.5,289.8 351.7,289.9 351.8,289.3 351.9,289.5 352.1,288.8 352.2,289.5 352.4,289.5 352.5,289.6 352.6,289.7 352.8,290.1 352.9,289.9 353.0,289.2 353.2,289.2 353.3,290.2 353.4,289.6 353.6,289.5 353.7,289.6 353.9,289.3 354.0,289.2 354.1,289.4 354.3,289.4 354.4,289.1 354.5,289.3 354.7,288.9 354.8,289.1 354.9,289.0 355.1,289.8 355.2,288.9 355.4,289.5 355.5,289.4 355.6,289.5 355.8,289.4 355.9,289.6 356.0,289.0 356.2,288.9 356.3,289.2 356.4,289.3 356.6,288.7 356.7,288.9 356.9,289.6 357.0,289.4 357.1,289.0 357.3,289.3 357.4,289.6 357.5,289.3 357.7,289.5 357.8,288.9 357.9,289.7 358.1,289.1 358.2,289.4 358.4,289.2 358.5,289.5 358.6,289.3 358.8,289.4 358.9,289.8 359.0,289.4 359.2,289.9 359.3,289.5 359.4,289.8 359.6,289.4 359.7,289.4 359.9,289.8 360.0,289.8 360.1,289.5 360.3,289.5 360.4,289.3 360.5,289.8 360.7,288.4 360.8,289.8 360.9,290.1 361.1,289.3 361.2,289.7 361.4,289.0 361.5,289.4 361.6,289.3 361.8,290.0 361.9,289.4 362.0,289.3 362.2,288.9 362.3,290.1 362.5,289.5 362.6,289.7 362.7,289.8 362.9,289.1 363.0,289.8 363.1,289.7 363.3,289.7 363.4,289.3 363.5,289.3 363.7,290.4 363.8,289.4 364.0,289.5 364.1,289.6 364.2,289.3 364.4,289.2 364.5,289.0 364.6,289.4 364.8,289.6 364.9,289.7 365.0,289.3 365.2,289.8 365.3,289.1 365.5,290.0 365.6,289.9 365.7,289.3 365.9,289.3 366.0,289.7 366.1,289.8 366.3,289.4 366.4,289.6 366.5,289.5 366.7,289.3 366.8,289.3 367.0,290.3 367.1,289.8 367.2,289.9 367.4,289.6 367.5,290.0 367.6,289.7 367.8,289.6 367.9,289.7 368.0,289.5 368.2,289.2 368.3,289.3 368.5,289.6 368.6,288.7 368.7,289.0 368.9,289.7 369.0,288.9 369.1,289.0 369.3,289.2 369.4,289.2 369.5,289.6 369.7,289.8 369.8,289.4 370.0,289.5 370.1,289.3 370.2,289.7 370.4,289.4 370.5,290.1 370.6,289.2 370.8,289.6 370.9,289.8 371.0,290.2 371.2,289.9 371.3,290.0 371.5,290.0 371.6,289.8 371.7,290.0 371.9,289.6 372.0,290.1 372.1,290.2 372.3,290.0 372.4,290.2 372.5,289.7 372.7,289.3 372.8,289.4 373.0,289.2 373.1,289.0 373.2,289.4 373.4,289.0 373.5,289.3 373.6,289.4 373.8,289.2 373.9,289.7 374.1,289.2 374.2,288.9 374.3,289.3 374.5,289.2 374.6,289.2 374.7,289.2 374.9,290.0 375.0,289.0 375.1,288.6 375.3,288.8 375.4,289.0 375.6,289.4 375.7,289.4 375.8,289.1 376.0,289.1 376.1,289.3 376.2,289.4 376.4,289.3 376.5,288.7 376.6,288.9 376.8,289.0 376.9,289.3 377.1,288.9 377.2,289.2 377.3,289.3 377.5,289.4 377.6,289.5 377.7,289.3 377.9,289.4 378.0,289.8 378.1,289.2 378.3,289.0 378.4,290.3 378.6,290.1 378.7,289.5 378.8,289.0 379.0,289.5 379.1,289.6 379.2,289.5 379.4,289.5 379.5,289.9 379.6,289.1 379.8,289.2 379.9,289.5 380.1,289.5 380.2,289.3 380.3,288.5 380.5,289.0 380.6,289.0 380.7,288.6 380.9,289.1 381.0,289.2 381.1,288.7 381.3,289.4 381.4,289.7 381.6,288.7 381.7,288.9 381.8,288.8 382.0,289.6 382.1,289.3 382.2,289.3 382.4,289.8 382.5,289.6 382.6,289.3 382.8,289.0 382.9,289.3 383.1,289.1 383.2,289.2 383.3,289.9 383.5,289.0 383.6,289.4 383.7,289.2 383.9,289.6 384.0,289.1 384.1,289.2 384.3,289.5 384.4,289.3 384.6,289.3 384.7,289.0 384.8,289.2 385.0,288.8 385.1,288.8 385.2,289.2 385.4,289.0 385.5,289.3 385.7,288.8 385.8,289.1 385.9,289.5 386.1,289.3 386.2,290.0 386.3,289.0 386.5,289.0 386.6,289.7 386.7,289.3 386.9,289.7 387.0,289.1 387.2,289.8 387.3,289.2 387.4,289.2 387.6,289.9 387.7,289.2 387.8,289.4 388.0,289.1 388.1,289.2 388.2,289.2 388.4,289.9 388.5,289.2 388.7,288.8 388.8,288.7 388.9,289.0 389.1,288.8 389.2,288.6 389.3,289.5 389.5,289.0 389.6,289.1 389.7,289.0 389.9,288.8 390.0,289.0 390.2,289.2 390.3,289.0 390.4,289.4 390.6,289.3 390.7,289.7 390.8,289.3 391.0,288.7 391.1,288.8 391.2,289.7 391.4,289.0 391.5,288.8 391.7,288.7 391.8,288.9 391.9,289.2 392.1,289.1 392.2,288.8 392.3,289.1 392.5,288.7 392.6,288.9 392.7,289.0 392.9,288.5 393.0,289.3 393.2,289.5 393.3,288.9 393.4,289.2 393.6,289.4 393.7,289.3 393.8,289.4 394.0,289.8 394.1,289.6 394.2,289.0 394.4,289.2 394.5,289.3 394.7,289.1 394.8,289.5 394.9,289.6 395.1,289.6 395.2,289.4 395.3,289.1 395.5,289.4 395.6,289.2 395.7,289.6 395.9,288.4 396.0,288.9 396.2,289.8 396.3,289.6 396.4,289.3 396.6,289.4 396.7,289.7 396.8,289.6 397.0,289.4 397.1,290.3 397.2,289.3 397.4,289.1 397.5,290.0 397.7,289.5 397.8,289.1 397.9,289.2 398.1,289.7 398.2,290.0 398.3,289.4 398.5,289.5 398.6,289.3 398.8,289.1 398.9,289.4 399.0,288.9 399.2,289.3 399.3,288.5 399.4,289.4 399.6,288.8 399.7,289.1 399.8,288.9 400.0,288.7 400.1,289.3 400.3,288.8 400.4,288.7 400.5,289.0 400.7,289.4 400.8,288.9 400.9,289.0 401.1,288.7 401.2,288.6 401.3,288.9 401.5,288.7 401.6,288.3 401.8,289.2 401.9,288.6 402.0,288.6 402.2,289.5 402.3,289.4 402.4,289.6 402.6,289.4 402.7,289.6 402.8,289.8 403.0,289.9 403.1,289.9 403.3,290.3 403.4,289.8 403.5,289.9 403.7,290.5 403.8,289.6 403.9,289.8 404.1,289.6 404.2,290.2 404.3,289.6 404.5,289.8 404.6,289.9 404.8,289.3 404.9,290.1 405.0,289.4 405.2,290.1 405.3,289.6 405.4,289.5 405.6,288.6 405.7,289.4 405.8,289.3 406.0,289.3 406.1,289.2 406.3,288.7 406.4,289.4 406.5,289.1 406.7,289.8 406.8,289.4 406.9,289.7 407.1,289.5 407.2,289.0 407.3,289.2 407.5,289.4 407.6,289.2 407.8,289.3 407.9,289.5 408.0,289.4 408.2,289.3 408.3,289.2 408.4,288.9 408.6,289.6 408.7,289.4 408.8,290.0 409.0,289.6 409.1,289.6 409.3,289.3 409.4,289.3 409.5,289.7 409.7,288.7 409.8,289.7 409.9,289.2 410.1,289.1 410.2,289.3 410.4,288.9 410.5,289.5 410.6,289.6 410.8,289.9 410.9,289.6 411.0,289.6 411.2,289.4 411.3,289.6 411.4,290.2 411.6,289.7 411.7,289.3 411.9,289.6 412.0,289.6 412.1,289.0 412.3,289.2 412.4,289.1 412.5,289.5 412.7,289.8 412.8,289.9 412.9,289.6 413.1,289.2 413.2,288.7 413.4,289.7 413.5,289.6 413.6,289.5 413.8,289.1 413.9,288.9 414.0,289.3 414.2,289.0 414.3,289.1 414.4,289.8 414.6,289.7 414.7,289.4 414.9,289.5 415.0,289.1 415.1,289.2 415.3,290.0 415.4,288.7 415.5,288.6 415.7,289.4 415.8,288.9 415.9,289.7 416.1,289.2 416.2,288.4 416.4,288.8 416.5,289.3 416.6,288.6 416.8,289.0 416.9,288.7 417.0,288.8 417.2,288.8 417.3,288.7 417.4,289.0 417.6,288.9 417.7,288.9 417.9,289.5 418.0,289.5 418.1,289.2 418.3,289.4 418.4,290.0 418.5,289.4 418.7,289.8 418.8,289.2 418.9,289.1 419.1,289.5 419.2,289.8 419.4,289.4 419.5,290.0 419.6,290.2 419.8,289.4 419.9,289.9 420.0,289.7 420.2,290.3 420.3,289.6 420.4,290.1 420.6,290.1 420.7,289.5 420.9,290.0 421.0,290.3 421.1,290.3 421.3,290.4 421.4,290.1 421.5,290.5 421.7,289.9 421.8,289.7 422.0,289.5 422.1,289.9 422.2,289.5 422.4,289.6 422.5,289.5 422.6,289.0 422.8,289.6 422.9,289.5 423.0,288.8 423.2,290.2 423.3,289.1 423.5,289.4 423.6,289.7 423.7,289.6 423.9,289.0 424.0,289.7 424.1,289.2 424.3,289.1 424.4,289.4 424.5,289.7 424.7,289.3 424.8,290.2 425.0,289.2 425.1,290.2 425.2,289.5 425.4,290.0 425.5,289.9 425.6,289.4 425.8,290.0 425.9,289.3 426.0,289.5 426.2,289.3 426.3,289.8 426.5,289.5 426.6,289.2 426.7,289.3 426.9,289.6 427.0,289.7 427.1,289.8 427.3,288.8 427.4,289.5 427.5,289.7 427.7,289.8 427.8,289.5 428.0,290.0 428.1,289.8 428.2,290.4 428.4,290.0 428.5,289.5 428.6,289.5 428.8,289.3 428.9,290.1 429.0,289.6 429.2,289.7 429.3,289.2 429.5,289.8 429.6,289.5 429.7,289.6 429.9,289.1 430.0,289.6 430.1,289.9 430.3,289.7 430.4,289.4 430.5,289.3 430.7,289.1 430.8,289.6 431.0,289.5 431.1,289.4 431.2,289.3 431.4,289.1 431.5,289.6 431.6,289.0 431.8,289.2 431.9,289.3 432.0,289.2 432.2,289.1 432.3,289.3 432.5,289.0 432.6,289.4 432.7,289.5 432.9,289.1 433.0,289.3 433.1,288.9 433.3,289.4 433.4,290.0 433.6,289.4 433.7,289.3 433.8,289.8 434.0,290.1 434.1,289.4 434.2,289.8 434.4,289.4 434.5,290.0 434.6,289.0 434.8,289.7 434.9,289.1 435.1,289.3 435.2,289.7 435.3,289.7 435.5,288.7 435.6,289.4 435.7,289.2 435.9,289.3 436.0,289.4 436.1,289.2 436.3,289.4 436.4,289.2 436.6,288.9 436.7,289.1 436.8,289.4 437.0,289.5 437.1,289.3 437.2,289.8 437.4,289.6 437.5,290.5 437.6,289.3 437.8,289.4 437.9,289.9 438.1,290.0 438.2,290.0 438.3,289.5 438.5,289.0 438.6,289.3 438.7,288.9 438.9,289.3 439.0,288.7 439.1,289.1 439.3,288.7 439.4,288.7 439.6,288.8 439.7,288.6 439.8,288.8 440.0,289.5 440.1,288.9 440.2,289.2 440.4,288.7 440.5,289.4 440.6,288.7 440.8,289.1 440.9,289.4 441.1,289.6 441.2,289.9 441.3,289.3 441.5,289.9 441.6,290.0 441.7,289.5 441.9,289.4 442.0,290.1 442.1,289.9 442.3,289.6 442.4,290.3 442.6,290.3 442.7,289.5 442.8,289.9 443.0,290.2 443.1,290.2 443.2,289.7 443.4,289.9 443.5,290.4 443.6,289.0 443.8,289.5 443.9,289.5 444.1,289.4 444.2,289.7 444.3,289.4 444.5,289.1 444.6,289.2 444.7,289.0 444.9,288.8 445.0,288.7 445.1,289.8 445.3,288.8 445.4,289.3 445.6,289.2 445.7,288.7 445.8,289.2 446.0,289.0 446.1,288.9 446.2,288.9 446.4,289.5 446.5,289.2 446.7,288.8 446.8,289.4 446.9,288.7 447.1,288.8 447.2,288.9 447.3,289.1 447.5,289.4 447.6,289.4 447.7,289.5 447.9,289.3 448.0,289.3 448.2,289.4 448.3,289.1 448.4,289.4 448.6,289.6 448.7,289.8 448.8,289.8 449.0,289.6 449.1,289.5 449.2,289.5 449.4,288.7 449.5,288.9 449.7,289.4 449.8,289.6 449.9,289.4 450.1,289.4 450.2,289.7 450.3,289.1 450.5,289.1 450.6,289.4 450.7,289.4 450.9,289.0 451.0,288.9 451.2,289.5 451.3,288.9 451.4,289.6 451.6,289.3 451.7,289.1 451.8,289.0 452.0,289.5 452.1,289.2 452.2,289.7 452.4,289.8 452.5,289.9 452.7,290.1 452.8,289.4 452.9,290.4 453.1,289.7 453.2,290.0 453.3,289.7 453.5,290.0 453.6,290.0 453.7,290.5 453.9,289.4 454.0,290.1 454.2,288.8 454.3,289.3 454.4,289.9 454.6,290.0 454.7,289.6 454.8,290.6 455.0,289.8 455.1,289.4 455.2,289.5 455.4,289.1 455.5,290.1 455.7,289.9 455.8,289.3 455.9,289.7 456.1,289.6 456.2,290.1 456.3,289.1 456.5,289.6 456.6,289.3 456.7,289.2 456.9,289.4 457.0,289.2 457.2,289.6 457.3,288.9 457.4,290.1 457.6,289.1 457.7,289.4 457.8,289.3 458.0,290.0 458.1,289.5 458.3,289.5 458.4,289.6 458.5,289.8 458.7,289.8 458.8,289.1 458.9,288.9 459.1,289.3 459.2,289.7 459.3,288.8 459.5,288.9 459.6,289.3 459.8,289.2 459.9,289.4 460.0,289.7 460.2,289.5 460.3,289.2 460.4,289.6 460.6,289.1 460.7,289.4 460.8,289.7 461.0,289.4 461.1,289.2 461.3,289.0 461.4,289.4 461.5,289.7 461.7,289.6 461.8,289.5 461.9,289.9 462.1,289.8 462.2,290.4 462.3,290.1 462.5,289.1 462.6,289.6 462.8,290.2 462.9,289.5 463.0,290.2 463.2,289.7 463.3,290.0 463.4,289.8 463.6,289.5 463.7,289.0 463.8,289.5 464.0,289.5 464.1,289.6 464.3,289.4 464.4,289.8 464.5,289.3 464.7,289.0 464.8,290.3 464.9,289.0 465.1,289.7 465.2,289.2 465.3,289.3 465.5,289.5 465.6,289.4 465.8,289.7 465.9,289.5 466.0,289.2 466.2,288.8 466.3,288.9 466.4,289.2 466.6,289.4 466.7,289.3 466.8,289.2 467.0,288.9 467.1,289.2 467.3,289.1 467.4,289.2 467.5,289.0 467.7,289.1 467.8,289.5 467.9,289.0 468.1,289.0 468.2,289.3 468.3,289.7 468.5,289.5 468.6,290.0 468.8,289.7 468.9,289.3 469.0,289.9 469.2,289.6 469.3,289.8 469.4,289.3 469.6,289.4 469.7,289.6 469.9,289.9 470.0,289.6 470.1,289.4 470.3,289.6 470.4,289.2 470.5,290.1 470.7,289.3 470.8,289.3 470.9,289.2 471.1,288.7 471.2,289.2 471.4,289.2 471.5,289.9 471.6,289.7 471.8,288.9 471.9,289.5 472.0,289.5 472.2,289.4 472.3,289.6 472.4,289.8 472.6,289.4 472.7,289.8 472.9,290.0 473.0,289.6 473.1,289.8 473.3,289.8 473.4,289.8 473.5,290.0 473.7,290.0 473.8,289.8 473.9,289.9 474.1,289.5 474.2,289.6 474.4,289.7 474.5,290.2 474.6,289.1 474.8,289.8 474.9,289.3 475.0,289.6 475.2,289.1 475.3,289.1 475.4,289.6 475.6,289.3 475.7,289.4 475.9,288.9 476.0,289.6 476.1,289.2 476.3,289.2 476.4,289.1 476.5,289.5 476.7,289.1 476.8,289.1 476.9,289.0 477.1,289.2 477.2,289.0 477.4,289.0 477.5,289.1 477.6,289.0 477.8,289.7 477.9,289.1 478.0,289.3 478.2,289.8 478.3,289.9 478.4,289.9 478.6,289.5 478.7,290.2 478.9,290.1 479.0,289.9 479.1,290.8 479.3,289.4 479.4,289.6 479.5,289.7 479.7,289.6 479.8,289.7 479.9,290.1 480.1,289.7 480.2,289.8 480.4,289.5 480.5,290.3 480.6,288.9 480.8,289.3 480.9,289.6 481.0,290.0 481.2,289.1 481.3,289.9 481.4,289.2 481.6,289.1 481.7,289.6 481.9,289.6 482.0,289.0 482.1,289.3 482.3,289.3 482.4,289.7 482.5,290.0 482.7,289.2 482.8,290.1 483.0,289.4 483.1,289.4 483.2,289.6 483.4,289.5 483.5,289.8 483.6,289.2 483.8,289.1 483.9,289.7 484.0,289.8 484.2,288.8 484.3,289.5 484.5,289.8 484.6,289.2 484.7,289.4 484.9,288.9 485.0,289.3 485.1,288.8 485.3,289.4 485.4,289.5 485.5,289.1 485.7,289.8 485.8,289.4 486.0,289.3 486.1,289.0 486.2,289.4 486.4,289.2 486.5,289.8 486.6,289.7 486.8,289.6 486.9,289.8 487.0,290.1 487.2,289.6 487.3,290.2 487.5,289.9 487.6,289.9 487.7,289.8 487.9,289.7 488.0,290.3 488.1,289.9 488.3,289.9 488.4,290.2 488.5,290.0 488.7,289.8 488.8,289.8 489.0,290.1 489.1,289.1 489.2,289.5 489.4,289.7 489.5,288.9 489.6,289.5 489.8,289.7 489.9,289.6 490.0,289.8 490.2,289.6 490.3,289.4 490.5,289.7 490.6,289.1 490.7,289.9 490.9,289.2 491.0,289.9 491.1,289.8 491.3,289.8 491.4,289.9 491.5,289.3 491.7,289.4 491.8,289.6 492.0,289.1 492.1,289.4 492.2,289.3 492.4,289.1 492.5,289.6 492.6,289.2 492.8,289.3 492.9,289.4 493.0,288.9 493.2,290.2 493.3,289.1 493.5,289.6 493.6,289.4 493.7,290.0 493.9,290.0 494.0,289.1 494.1,289.5 494.3,289.7 494.4,290.1 494.6,289.8 494.7,290.0 494.8,289.9 495.0,289.6 495.1,289.8 495.2,290.0 495.4,289.2 495.5,289.7 495.6,289.4 495.8,289.7 495.9,289.6 496.1,288.9 496.2,289.3 496.3,289.4 496.5,289.3 496.6,289.4 496.7,289.4 496.9,288.8 497.0,288.6 497.1,289.8 497.3,288.4 497.4,289.0 497.6,289.2 497.7,288.9 497.8,289.1 498.0,289.0 498.1,288.8 498.2,289.1 498.4,289.2 498.5,289.2 498.6,288.6 498.8,289.6 498.9,289.3 499.1,288.9 499.2,289.2 499.3,288.8 499.5,289.4 499.6,289.6 499.7,289.1 499.9,289.2 500.0,288.9 500.1,288.7 500.3,288.6 500.4,288.8 500.6,288.8 500.7,289.0 500.8,289.2 501.0,288.9 501.1,288.5 501.2,288.9 501.4,288.9 501.5,289.0 501.6,288.9 501.8,289.1 501.9,289.2 502.1,288.6 502.2,289.1 502.3,289.8 502.5,289.7 502.6,289.3 502.7,289.6 502.9,288.9 503.0,289.9 503.1,289.3 503.3,289.4 503.4,289.3 503.6,289.9 503.7,289.2 503.8,289.7 504.0,289.0 504.1,289.9 504.2,289.9 504.4,289.9 504.5,289.8 504.6,289.4 504.8,289.5 504.9,290.1 505.1,289.3 505.2,290.1 505.3,290.3 505.5,290.1 505.6,290.1 505.7,289.3 505.9,290.2 506.0,289.7 506.2,289.1 506.3,289.4 506.4,289.8 506.6,289.8 506.7,290.0 506.8,289.7 507.0,289.4 507.1,289.4 507.2,289.4 507.4,289.2 507.5,289.8 507.7,289.2 507.8,289.4 507.9,289.5 508.1,288.9 508.2,289.4 508.3,289.3 508.5,289.0 508.6,289.1 508.7,289.1 508.9,289.2 509.0,289.0 509.2,288.7 509.3,288.9 509.4,289.0 509.6,289.1 509.7,288.8 509.8,289.9 510.0,289.0 510.1,289.0 510.2,288.4 510.4,288.5 510.5,289.3 510.7,289.2 510.8,288.8 510.9,288.5 511.1,288.8 511.2,289.4 511.3,288.7 511.5,289.3 511.6,288.7 511.7,289.6 511.9,289.3 512.0,289.2 512.2,289.3 512.3,289.3 512.4,289.3 512.6,289.7 512.7,290.2 512.8,289.7 513.0,290.0 513.1,289.8 513.2,289.8 513.4,289.6 513.5,289.9 513.7,289.4 513.8,289.6 513.9,289.3 514.1,289.9 514.2,289.0 514.3,289.2 514.5,289.5 514.6,289.3 514.7,289.2 514.9,289.5 515.0,289.2 515.2,289.2 515.3,289.9 515.4,289.4 515.6,289.3 515.7,289.6 515.8,289.5 516.0,289.3 516.1,289.6 516.2,290.0 516.4,289.6 516.5,290.0 516.7,289.3 516.8,290.0 516.9,290.1 517.1,289.9 517.2,289.8 517.3,289.7 517.5,289.2 517.6,289.1 517.7,289.3 517.9,289.4 518.0,289.7 518.2,289.4 518.3,289.2 518.4,289.6 518.5,289.3 518.5,289.6 518.6,290.0 518.6,289.4 518.6,289.7 518.7,289.4 518.7,289.6 518.7,289.9 518.8,289.7 518.8,289.8 518.8,290.1 518.9,280.1 518.9,271.3 518.9,262.9 519.0,253.7 519.0,261.6 519.0,268.2 519.1,273.1 519.1,277.1 519.1,280.3 519.2,282.2 519.2,284.0 519.3,285.5 519.3,285.6 519.3,286.9 519.4,287.9 519.4,287.8 519.4,287.6 519.5,288.3 519.5,287.9 519.5,288.5 519.6,288.8 519.6,288.3 519.6,288.7 519.7,288.1 519.7,288.0 519.7,288.7 519.8,288.0 519.8,289.0 519.8,288.5 519.9,288.9 519.9,288.4 519.9,288.6 520.0,288.7 520.0,289.6 520.0,288.6 520.1,289.0 520.1,288.7 520.1,288.6 520.2,288.7 520.2,288.7 520.2,288.7 520.3,288.5 520.3,288.6 520.3,288.2 520.4,288.2 520.4,289.0 520.4,288.9 520.5,287.8 520.5,287.7 520.5,288.3 520.6,288.8 520.6,288.7 520.6,287.8 520.7,288.8 520.7,289.1 520.8,288.3 520.8,288.6 520.8,288.9 520.9,288.2 520.9,289.7 520.9,289.1 521.0,288.7 521.0,288.6 521.0,288.8 521.1,288.6 521.1,288.5 521.1,288.6 521.2,289.0 521.2,288.3 521.2,288.2 521.3,288.7 521.3,288.6 521.3,287.7 521.4,288.9 521.4,288.3 521.4,288.6 521.5,288.7 521.5,288.1 521.5,288.7 521.6,288.2 521.7,288.6 521.8,288.5 522.0,288.0 522.1,288.3 522.3,288.2 522.4,287.9 522.5,288.2 522.7,289.0 522.8,288.7 522.9,288.7 523.1,289.1 523.2,289.7 523.3,289.2 523.5,289.3 523.6,289.8 523.8,289.9 523.9,289.3 524.0,289.4 524.2,289.5 524.3,289.4 524.4,289.8 524.6,289.0 524.7,289.9 524.8,289.1 525.0,289.3 525.1,289.9 525.3,289.5 525.4,289.5 525.5,290.0 525.7,289.6 525.8,290.1" fill="none" stroke="#D95319" stroke-width="1.3" stroke-linejoin="round" stroke-dasharray="5 2.35 1.2 2.05" stroke-dashoffset="7.5"/><polyline points="331.2,324.0 331.2,324.0 331.3,324.0 331.3,324.0 331.3,324.0 331.4,324.0 331.4,324.0 331.4,324.0 331.5,324.0 331.5,324.0 331.5,324.0 331.6,324.0 331.6,324.0 331.6,324.0 331.7,324.0 331.7,324.0 331.7,324.0 331.8,324.0 331.8,324.0 331.8,324.0 331.9,324.0 331.9,324.0 332.0,324.0 332.0,324.0 332.0,324.0 332.1,324.0 332.1,324.0 332.1,324.0 332.2,324.0 332.2,324.0 332.2,324.0 332.3,324.0 332.3,324.0 332.3,324.0 332.4,324.0 332.4,324.0 332.4,324.0 332.5,324.0 332.5,324.0 332.5,324.0 332.6,324.0 332.6,324.0 332.6,324.0 332.7,324.0 332.7,324.0 332.7,324.0 332.8,324.0 332.8,324.0 332.8,314.8 332.9,305.6 332.9,296.4 332.9,287.2 333.0,278.0 333.0,268.8 333.0,259.6 333.1,250.4 333.1,241.2 333.1,232.0 333.2,234.6 333.2,237.2 333.2,239.6 333.3,241.9 333.3,244.1 333.3,246.3 333.4,248.3 333.4,250.2 333.5,252.0 333.5,253.7 333.5,255.4 333.6,257.0 333.6,258.5 333.6,259.9 333.7,261.3 333.7,262.6 333.7,263.9 333.8,264.7 333.8,266.2 333.8,267.3 333.9,267.8 333.9,269.0 333.9,270.0 334.0,270.3 334.0,271.8 334.0,272.7 334.1,273.3 334.1,274.2 334.1,274.9 334.2,275.3 334.2,275.9 334.2,277.2 334.3,277.2 334.3,277.2 334.3,278.5 334.4,279.2 334.4,279.4 334.4,279.7 334.5,280.0 334.5,280.5 334.5,281.2 334.6,281.2 334.6,282.9 334.6,282.2 334.7,283.0 334.7,283.4 334.7,283.9 334.8,283.8 334.8,284.7 334.9,284.2 334.9,284.1 334.9,284.4 335.0,284.9 335.0,285.5 335.0,285.3 335.1,286.1 335.1,286.1 335.1,286.0 335.2,286.5 335.2,285.9 335.2,286.8 335.3,286.8 335.3,286.6 335.3,287.4 335.4,287.6 335.4,287.9 335.4,287.7 335.5,288.1 335.5,287.5 335.5,288.6 335.6,288.0 335.6,288.4 335.6,287.8 335.7,287.9 335.7,287.8 335.7,288.3 335.8,287.8 335.8,288.3 335.8,287.9 335.9,288.4 335.9,288.1 335.9,288.6 336.0,288.3 336.0,288.1 336.0,288.6 336.1,288.6 336.1,288.8 336.1,288.5 336.2,288.5 336.2,288.5 336.2,288.2 336.3,288.8 336.3,288.3 336.4,288.6 336.4,288.6 336.4,289.5 336.5,288.3 336.5,289.1 336.5,288.3 336.6,289.0 336.6,288.7 336.6,289.0 336.7,288.3 336.8,288.8 336.9,288.3 337.1,288.8 337.2,289.0 337.3,288.7 337.5,289.8 337.6,289.6 337.8,289.1 337.9,289.6 338.0,289.5 338.2,290.1 338.3,289.5 338.4,289.9 338.6,289.4 338.7,289.3 338.8,289.6 339.0,289.6 339.1,289.7 339.3,289.3 339.4,289.7 339.5,289.9 339.7,289.3 339.8,289.5 339.9,288.8 340.1,289.3 340.2,289.4 340.3,288.8 340.5,289.1 340.6,289.7 340.8,289.3 340.9,288.9 341.0,288.4 341.2,289.6 341.3,289.1 341.4,288.9 341.6,289.0 341.7,288.8 341.8,289.1 342.0,288.9 342.1,289.0 342.3,288.8 342.4,288.5 342.5,288.8 342.7,289.0 342.8,289.4 342.9,288.7 343.1,288.7 343.2,289.1 343.3,289.7 343.5,288.5 343.6,289.5 343.8,288.6 343.9,289.0 344.0,288.6 344.2,289.0 344.3,288.4 344.4,289.1 344.6,289.8 344.7,289.5 344.8,289.2 345.0,289.1 345.1,289.5 345.3,289.1 345.4,288.7 345.5,289.2 345.7,289.9 345.8,289.4 345.9,289.4 346.1,289.6 346.2,289.0 346.3,289.5 346.5,289.4 346.6,289.2 346.8,289.5 346.9,289.7 347.0,289.9 347.2,289.7 347.3,289.0 347.4,289.7 347.6,289.4 347.7,289.6 347.8,289.8 348.0,289.1 348.1,289.7 348.3,290.2 348.4,289.3 348.5,289.1 348.7,289.4 348.8,289.3 348.9,290.0 349.1,290.1 349.2,290.0 349.4,289.5 349.5,290.1 349.6,289.7 349.8,290.1 349.9,289.9 350.0,289.8 350.2,289.8 350.3,289.1 350.4,289.5 350.6,289.5 350.7,290.5 350.9,290.0 351.0,289.7 351.1,290.1 351.3,289.3 351.4,289.3 351.5,289.5 351.7,289.8 351.8,289.3 351.9,289.0 352.1,289.2 352.2,289.7 352.4,289.4 352.5,289.4 352.6,290.0 352.8,289.5 352.9,290.2 353.0,289.6 353.2,289.5 353.3,289.4 353.4,288.9 353.6,288.7 353.7,288.8 353.9,289.5 354.0,289.3 354.1,289.2 354.3,289.0 354.4,289.4 354.5,289.5 354.7,289.5 354.8,288.8 354.9,289.6 355.1,289.9 355.2,289.4 355.4,288.8 355.5,289.2 355.6,289.1 355.8,288.5 355.9,289.2 356.0,288.3 356.2,289.3 356.3,289.3 356.4,289.3 356.6,288.7 356.7,288.3 356.9,289.4 357.0,289.2 357.1,289.2 357.3,289.8 357.4,288.7 357.5,288.7 357.7,289.5 357.8,288.9 357.9,289.0 358.1,289.1 358.2,289.3 358.4,288.8 358.5,289.4 358.6,289.8 358.8,289.6 358.9,288.9 359.0,289.3 359.2,289.9 359.3,289.4 359.4,290.1 359.6,289.1 359.7,289.1 359.9,289.3 360.0,289.6 360.1,289.8 360.3,289.6 360.4,289.4 360.5,289.5 360.7,288.8 360.8,289.7 360.9,289.8 361.1,289.4 361.2,289.4 361.4,289.5 361.5,289.4 361.6,289.5 361.8,289.8 361.9,289.2 362.0,289.5 362.2,288.7 362.3,290.2 362.5,289.3 362.6,289.9 362.7,290.5 362.9,289.7 363.0,289.5 363.1,289.4 363.3,290.0 363.4,290.1 363.5,289.3 363.7,289.3 363.8,288.9 364.0,289.2 364.1,289.4 364.2,289.9 364.4,290.0 364.5,289.8 364.6,289.5 364.8,289.0 364.9,289.8 365.0,289.4 365.2,289.5 365.3,289.6 365.5,289.7 365.6,289.9 365.7,288.9 365.9,289.3 366.0,289.4 366.1,289.8 366.3,289.1 366.4,289.4 366.5,289.8 366.7,289.2 366.8,290.1 367.0,290.0 367.1,289.6 367.2,289.6 367.4,289.3 367.5,289.5 367.6,289.9 367.8,289.4 367.9,289.6 368.0,289.4 368.2,289.1 368.3,289.7 368.5,289.3 368.6,289.0 368.7,289.0 368.9,289.2 369.0,288.6 369.1,289.1 369.3,289.4 369.4,288.6 369.5,289.1 369.7,289.4 369.8,289.5 370.0,289.4 370.1,289.3 370.2,289.6 370.4,289.5 370.5,289.4 370.6,289.2 370.8,289.9 370.9,289.5 371.0,290.6 371.2,289.9 371.3,289.9 371.5,289.7 371.6,289.7 371.7,290.2 371.9,289.6 372.0,290.3 372.1,290.0 372.3,290.0 372.4,290.1 372.5,289.3 372.7,289.8 372.8,289.8 373.0,289.7 373.1,289.4 373.2,289.1 373.4,289.3 373.5,289.1 373.6,289.5 373.8,288.8 373.9,289.8 374.1,288.8 374.2,289.0 374.3,289.3 374.5,289.2 374.6,289.1 374.7,289.0 374.9,289.2 375.0,288.7 375.1,289.1 375.3,288.9 375.4,289.1 375.6,289.3 375.7,289.1 375.8,288.9 376.0,289.0 376.1,289.1 376.2,288.6 376.4,289.6 376.5,288.6 376.6,288.8 376.8,288.6 376.9,289.1 377.1,289.1 377.2,289.1 377.3,289.6 377.5,289.5 377.6,289.6 377.7,289.8 377.9,290.2 378.0,289.2 378.1,289.8 378.3,289.5 378.4,290.1 378.6,289.5 378.7,289.7 378.8,289.6 379.0,289.7 379.1,289.4 379.2,289.1 379.4,289.6 379.5,289.8 379.6,288.9 379.8,289.1 379.9,289.4 380.1,289.2 380.2,289.3 380.3,288.9 380.5,289.3 380.6,289.1 380.7,289.0 380.9,289.6 381.0,289.3 381.1,289.1 381.3,290.1 381.4,289.8 381.6,289.3 381.7,289.2 381.8,288.8 382.0,290.1 382.1,289.7 382.2,288.8 382.4,289.1 382.5,289.3 382.6,289.8 382.8,289.2 382.9,289.4 383.1,289.2 383.2,289.3 383.3,290.1 383.5,289.2 383.6,289.5 383.7,289.3 383.9,289.6 384.0,289.2 384.1,289.2 384.3,289.1 384.4,288.7 384.6,289.3 384.7,288.7 384.8,289.7 385.0,289.0 385.1,289.3 385.2,289.1 385.4,289.1 385.5,289.1 385.7,289.8 385.8,288.4 385.9,289.6 386.1,289.1 386.2,289.5 386.3,288.9 386.5,289.0 386.6,289.1 386.7,288.8 386.9,290.0 387.0,289.4 387.2,289.4 387.3,289.2 387.4,289.2 387.6,289.6 387.7,288.9 387.8,289.5 388.0,289.1 388.1,289.2 388.2,289.3 388.4,289.4 388.5,289.5 388.7,288.8 388.8,289.1 388.9,289.1 389.1,288.9 389.2,288.4 389.3,289.5 389.5,288.9 389.6,289.3 389.7,289.3 389.9,288.7 390.0,289.1 390.2,288.7 390.3,289.2 390.4,289.0 390.6,288.8 390.7,288.9 390.8,289.5 391.0,289.0 391.1,289.2 391.2,289.2 391.4,289.1 391.5,289.0 391.7,288.9 391.8,288.5 391.9,289.0 392.1,289.5 392.2,288.9 392.3,288.9 392.5,289.4 392.6,289.0 392.7,288.8 392.9,288.9 393.0,289.1 393.2,288.8 393.3,289.3 393.4,289.1 393.6,289.6 393.7,289.4 393.8,289.5 394.0,289.7 394.1,289.1 394.2,289.3 394.4,289.4 394.5,289.4 394.7,289.5 394.8,289.7 394.9,289.8 395.1,288.8 395.2,289.8 395.3,288.8 395.5,289.5 395.6,289.5 395.7,289.4 395.9,289.4 396.0,289.7 396.2,289.8 396.3,290.3 396.4,289.5 396.6,289.7 396.7,289.5 396.8,289.6 397.0,289.5 397.1,289.6 397.2,289.1 397.4,289.4 397.5,290.1 397.7,289.8 397.8,289.3 397.9,289.0 398.1,289.4 398.2,289.2 398.3,289.4 398.5,289.2 398.6,289.4 398.8,289.4 398.9,289.6 399.0,289.3 399.2,289.2 399.3,289.3 399.4,289.3 399.6,288.1 399.7,289.0 399.8,288.8 400.0,288.8 400.1,289.1 400.3,289.0 400.4,289.4 400.5,289.2 400.7,289.0 400.8,289.0 400.9,289.0 401.1,288.7 401.2,288.9 401.3,288.5 401.5,288.6 401.6,288.3 401.8,288.6 401.9,288.1 402.0,288.4 402.2,289.4 402.3,289.1 402.4,289.7 402.6,289.1 402.7,289.4 402.8,289.6 403.0,289.7 403.1,289.7 403.3,290.3 403.4,290.3 403.5,290.6 403.7,290.3 403.8,290.1 403.9,289.8 404.1,289.7 404.2,290.4 404.3,290.0 404.5,289.6 404.6,290.3 404.8,289.1 404.9,289.7 405.0,288.8 405.2,290.4 405.3,289.6 405.4,289.7 405.6,289.7 405.7,289.5 405.8,289.0 406.0,289.9 406.1,288.7 406.3,289.2 406.4,289.0 406.5,290.0 406.7,289.7 406.8,289.3 406.9,289.6 407.1,289.3 407.2,289.7 407.3,289.2 407.5,288.9 407.6,288.9 407.8,289.7 407.9,288.7 408.0,290.2 408.2,289.4 408.3,289.1 408.4,289.4 408.6,289.7 408.7,289.7 408.8,289.4 409.0,288.9 409.1,289.2 409.3,289.7 409.4,289.4 409.5,289.6 409.7,289.0 409.8,289.4 409.9,289.2 410.1,289.3 410.2,289.3 410.4,289.4 410.5,289.2 410.6,289.4 410.8,289.5 410.9,289.6 411.0,289.0 411.2,289.4 411.3,289.2 411.4,289.4 411.6,289.8 411.7,289.3 411.9,289.8 412.0,289.2 412.1,289.5 412.3,289.2 412.4,288.8 412.5,289.7 412.7,289.2 412.8,289.5 412.9,289.2 413.1,289.2 413.2,289.3 413.4,289.4 413.5,289.9 413.6,289.4 413.8,288.7 413.9,289.6 414.0,289.8 414.2,289.6 414.3,289.8 414.4,289.4 414.6,289.7 414.7,290.0 414.9,289.9 415.0,289.7 415.1,289.1 415.3,289.6 415.4,289.3 415.5,289.5 415.7,288.8 415.8,289.1 415.9,289.2 416.1,289.0 416.2,288.8 416.4,288.9 416.5,289.7 416.6,288.7 416.8,288.9 416.9,289.0 417.0,288.9 417.2,288.9 417.3,289.0 417.4,289.1 417.6,288.8 417.7,289.1 417.9,289.2 418.0,289.6 418.1,288.8 418.3,289.1 418.4,289.4 418.5,289.1 418.7,289.5 418.8,289.2 418.9,289.0 419.1,289.6 419.2,290.0 419.4,289.7 419.5,289.9 419.6,290.1 419.8,290.0 419.9,290.2 420.0,290.2 420.2,290.4 420.3,289.8 420.4,289.9 420.6,290.4 420.7,289.6 420.9,289.7 421.0,289.7 421.1,290.1 421.3,290.1 421.4,290.3 421.5,290.0 421.7,289.5 421.8,289.8 422.0,289.8 422.1,289.6 422.2,289.8 422.4,290.1 422.5,289.8 422.6,289.1 422.8,289.1 422.9,289.6 423.0,289.2 423.2,289.7 423.3,289.1 423.5,289.0 423.6,289.4 423.7,289.5 423.9,289.1 424.0,289.9 424.1,289.4 424.3,289.0 424.4,289.6 424.5,289.9 424.7,289.6 424.8,290.1 425.0,289.4 425.1,289.9 425.2,289.1 425.4,289.7 425.5,289.8 425.6,289.7 425.8,289.9 425.9,289.5 426.0,290.2 426.2,289.1 426.3,290.2 426.5,289.8 426.6,289.5 426.7,289.6 426.9,289.5 427.0,289.3 427.1,289.8 427.3,289.1 427.4,289.1 427.5,289.9 427.7,289.5 427.8,289.5 428.0,289.3 428.1,289.3 428.2,289.4 428.4,290.0 428.5,289.7 428.6,289.5 428.8,289.4 428.9,290.0 429.0,289.4 429.2,289.5 429.3,289.4 429.5,289.2 429.6,289.7 429.7,289.6 429.9,289.5 430.0,289.7 430.1,289.3 430.3,289.6 430.4,289.4 430.5,289.8 430.7,289.4 430.8,289.5 431.0,290.0 431.1,289.6 431.2,289.8 431.4,289.4 431.5,289.1 431.6,289.2 431.8,289.4 431.9,288.9 432.0,289.2 432.2,289.3 432.3,289.8 432.5,289.6 432.6,289.2 432.7,289.1 432.9,289.4 433.0,289.1 433.1,289.1 433.3,289.0 433.4,289.7 433.6,289.2 433.7,289.4 433.8,289.4 434.0,289.9 434.1,288.9 434.2,289.5 434.4,289.9 434.5,289.4 434.6,289.5 434.8,289.3 434.9,289.0 435.1,289.5 435.2,289.5 435.3,289.3 435.5,289.2 435.6,289.2 435.7,288.9 435.9,288.8 436.0,289.0 436.1,289.6 436.3,289.3 436.4,289.2 436.6,289.2 436.7,289.2 436.8,289.3 437.0,290.2 437.1,289.6 437.2,289.7 437.4,289.7 437.5,289.8 437.6,289.2 437.8,289.2 437.9,289.5 438.1,289.6 438.2,289.8 438.3,289.5 438.5,289.2 438.6,289.6 438.7,289.4 438.9,289.4 439.0,289.1 439.1,289.7 439.3,289.0 439.4,288.5 439.6,288.6 439.7,288.8 439.8,289.3 440.0,289.5 440.1,288.9 440.2,289.5 440.4,289.0 440.5,289.0 440.6,288.7 440.8,290.1 440.9,289.2 441.1,289.6 441.2,289.2 441.3,289.0 441.5,290.2 441.6,289.2 441.7,289.6 441.9,289.9 442.0,289.4 442.1,290.1 442.3,289.9 442.4,289.8 442.6,289.9 442.7,289.4 442.8,289.7 443.0,289.8 443.1,290.5 443.2,290.1 443.4,289.8 443.5,290.0 443.6,289.3 443.8,289.2 443.9,289.4 444.1,289.2 444.2,289.3 444.3,289.4 444.5,288.9 444.6,289.1 444.7,288.9 444.9,289.2 445.0,288.9 445.1,289.7 445.3,288.9 445.4,288.3 445.6,288.7 445.7,289.0 445.8,288.7 446.0,288.8 446.1,288.9 446.2,289.0 446.4,289.1 446.5,289.5 446.7,289.1 446.8,289.3 446.9,288.6 447.1,288.6 447.2,288.7 447.3,289.5 447.5,289.5 447.6,289.2 447.7,289.5 447.9,289.1 448.0,289.8 448.2,289.3 448.3,289.0 448.4,289.6 448.6,289.2 448.7,289.8 448.8,289.9 449.0,289.9 449.1,289.5 449.2,289.3 449.4,288.9 449.5,289.8 449.7,289.0 449.8,289.3 449.9,289.8 450.1,288.9 450.2,289.6 450.3,288.5 450.5,288.9 450.6,289.4 450.7,289.7 450.9,289.1 451.0,289.4 451.2,289.0 451.3,289.4 451.4,289.5 451.6,289.2 451.7,289.2 451.8,289.3 452.0,289.8 452.1,289.1 452.2,290.0 452.4,289.2 452.5,290.1 452.7,289.7 452.8,289.6 452.9,289.8 453.1,289.9 453.2,289.6 453.3,290.2 453.5,289.7 453.6,290.1 453.7,290.0 453.9,289.5 454.0,289.8 454.2,289.2 454.3,289.3 454.4,290.5 454.6,289.7 454.7,289.2 454.8,289.8 455.0,290.1 455.1,289.5 455.2,289.4 455.4,289.3 455.5,290.0 455.7,289.9 455.8,289.6 455.9,289.4 456.1,289.6 456.2,289.2 456.3,289.1 456.5,289.7 456.6,289.2 456.7,289.3 456.9,289.6 457.0,289.5 457.2,289.1 457.3,289.3 457.4,290.3 457.6,289.8 457.7,289.2 457.8,288.9 458.0,290.1 458.1,289.4 458.3,289.0 458.4,289.2 458.5,289.1 458.7,289.4 458.8,288.9 458.9,288.7 459.1,289.5 459.2,289.6 459.3,289.2 459.5,289.3 459.6,289.2 459.8,289.4 459.9,289.3 460.0,289.6 460.2,289.8 460.3,288.7 460.4,289.5 460.6,289.6 460.7,288.8 460.8,289.7 461.0,289.2 461.1,289.1 461.3,289.3 461.4,289.7 461.5,289.7 461.7,289.9 461.8,289.7 461.9,289.6 462.1,289.1 462.2,289.5 462.3,290.0 462.5,289.9 462.6,289.6 462.8,290.0 462.9,289.6 463.0,289.7 463.2,289.9 463.3,289.7 463.4,289.4 463.6,289.4 463.7,289.3 463.8,289.5 464.0,289.8 464.1,290.2 464.3,289.1 464.4,289.9 464.5,289.1 464.7,289.7 464.8,290.2 464.9,289.1 465.1,290.0 465.2,289.2 465.3,288.9 465.5,289.2 465.6,289.5 465.8,289.7 465.9,288.8 466.0,289.0 466.2,289.2 466.3,289.5 466.4,289.0 466.6,289.5 466.7,288.9 466.8,289.2 467.0,289.3 467.1,289.0 467.3,288.9 467.4,289.6 467.5,288.8 467.7,289.6 467.8,289.6 467.9,288.5 468.1,289.1 468.2,289.2 468.3,290.2 468.5,289.2 468.6,290.1 468.8,289.6 468.9,289.7 469.0,289.6 469.2,289.9 469.3,289.6 469.4,289.1 469.6,289.4 469.7,289.9 469.9,290.1 470.0,289.2 470.1,289.9 470.3,289.7 470.4,289.5 470.5,288.7 470.7,288.8 470.8,289.1 470.9,289.2 471.1,289.1 471.2,289.3 471.4,289.5 471.5,289.5 471.6,289.8 471.8,289.0 471.9,289.4 472.0,289.6 472.2,289.2 472.3,289.7 472.4,290.2 472.6,289.0 472.7,289.9 472.9,289.8 473.0,290.2 473.1,290.2 473.3,289.5 473.4,289.8 473.5,289.7 473.7,290.0 473.8,289.7 473.9,290.1 474.1,290.1 474.2,289.6 474.4,290.1 474.5,289.6 474.6,289.3 474.8,289.9 474.9,289.8 475.0,289.6 475.2,289.8 475.3,289.2 475.4,289.8 475.6,289.1 475.7,288.9 475.9,289.1 476.0,289.4 476.1,289.0 476.3,289.2 476.4,289.3 476.5,288.7 476.7,288.6 476.8,289.0 476.9,288.7 477.1,289.5 477.2,288.9 477.4,289.1 477.5,289.4 477.6,289.3 477.8,289.6 477.9,288.4 478.0,288.8 478.2,288.9 478.3,289.7 478.4,289.8 478.6,290.0 478.7,289.5 478.9,290.4 479.0,289.9 479.1,290.2 479.3,290.0 479.4,289.6 479.5,290.2 479.7,290.2 479.8,290.1 479.9,290.3 480.1,290.1 480.2,289.6 480.4,289.5 480.5,290.3 480.6,289.8 480.8,289.8 480.9,289.7 481.0,289.6 481.2,289.0 481.3,289.3 481.4,289.8 481.6,289.2 481.7,290.1 481.9,289.4 482.0,288.9 482.1,289.6 482.3,289.0 482.4,289.9 482.5,289.8 482.7,289.8 482.8,289.7 483.0,289.6 483.1,289.5 483.2,289.4 483.4,289.6 483.5,289.7 483.6,289.2 483.8,289.7 483.9,289.3 484.0,289.2 484.2,288.5 484.3,289.3 484.5,289.5 484.6,289.4 484.7,289.2 484.9,289.3 485.0,289.8 485.1,288.5 485.3,289.5 485.4,289.1 485.5,289.5 485.7,289.6 485.8,289.3 486.0,289.5 486.1,289.2 486.2,289.8 486.4,289.6 486.5,289.8 486.6,289.4 486.8,289.8 486.9,289.8 487.0,289.7 487.2,289.8 487.3,289.7 487.5,290.1 487.6,289.7 487.7,290.3 487.9,289.7 488.0,290.3 488.1,289.5 488.3,289.6 488.4,290.4 488.5,289.8 488.7,289.5 488.8,289.5 489.0,289.7 489.1,289.6 489.2,289.0 489.4,290.2 489.5,289.0 489.6,289.4 489.8,289.6 489.9,289.4 490.0,289.8 490.2,289.7 490.3,290.0 490.5,289.3 490.6,289.5 490.7,289.2 490.9,289.1 491.0,289.7 491.1,289.6 491.3,289.9 491.4,289.0 491.5,289.4 491.7,289.5 491.8,290.2 492.0,289.0 492.1,289.4 492.2,289.4 492.4,289.2 492.5,289.6 492.6,289.1 492.8,289.6 492.9,289.5 493.0,289.4 493.2,289.4 493.3,289.4 493.5,289.1 493.6,288.8 493.7,289.6 493.9,289.9 494.0,288.7 494.1,289.2 494.3,290.0 494.4,289.8 494.6,289.1 494.7,289.1 494.8,289.4 495.0,289.7 495.1,289.3 495.2,289.4 495.4,289.8 495.5,289.4 495.6,290.0 495.8,289.5 495.9,289.6 496.1,289.1 496.2,289.6 496.3,289.3 496.5,289.7 496.6,288.9 496.7,289.3 496.9,289.3 497.0,289.1 497.1,289.4 497.3,288.9 497.4,288.6 497.6,288.8 497.7,289.0 497.8,289.7 498.0,288.6 498.1,289.0 498.2,288.7 498.4,288.9 498.5,289.7 498.6,288.2 498.8,288.8 498.9,288.9 499.1,289.3 499.2,289.4 499.3,289.0 499.5,289.7 499.6,289.4 499.7,289.7 499.9,289.3 500.0,289.0 500.1,288.5 500.3,288.7 500.4,288.9 500.6,289.0 500.7,288.9 500.8,288.8 501.0,288.6 501.1,289.0 501.2,289.0 501.4,288.8 501.5,288.8 501.6,289.1 501.8,289.0 501.9,289.5 502.1,288.9 502.2,289.3 502.3,289.7 502.5,289.6 502.6,289.9 502.7,289.2 502.9,289.3 503.0,289.4 503.1,289.5 503.3,289.0 503.4,289.8 503.6,290.0 503.7,289.6 503.8,289.5 504.0,289.7 504.1,289.7 504.2,289.7 504.4,289.9 504.5,289.6 504.6,289.9 504.8,289.9 504.9,290.4 505.1,289.6 505.2,289.4 505.3,289.6 505.5,289.6 505.6,289.7 505.7,289.1 505.9,290.1 506.0,290.0 506.2,289.3 506.3,290.2 506.4,289.5 506.6,288.8 506.7,289.8 506.8,289.9 507.0,289.1 507.1,289.2 507.2,289.5 507.4,289.1 507.5,289.7 507.7,289.3 507.8,289.0 507.9,289.6 508.1,288.8 508.2,289.4 508.3,288.8 508.5,289.0 508.6,288.9 508.7,289.1 508.9,289.0 509.0,288.8 509.2,288.4 509.3,288.7 509.4,289.0 509.6,289.9 509.7,288.6 509.8,289.5 510.0,288.5 510.1,288.9 510.2,288.9 510.4,288.8 510.5,289.1 510.7,289.1 510.8,288.8 510.9,288.7 511.1,289.2 511.2,289.3 511.3,288.6 511.5,290.0 511.6,288.8 511.7,289.4 511.9,289.4 512.0,289.2 512.2,289.1 512.3,289.8 512.4,289.3 512.6,289.5 512.7,289.7 512.8,289.3 513.0,289.8 513.1,289.1 513.2,289.6 513.4,289.7 513.5,288.9 513.7,289.6 513.8,289.8 513.9,289.4 514.1,289.4 514.2,289.0 514.3,289.2 514.5,289.3 514.6,289.4 514.7,289.3 514.9,289.1 515.0,288.9 515.2,289.7 515.3,289.5 515.4,289.1 515.6,289.4 515.7,290.2 515.8,289.6 516.0,289.4 516.1,290.0 516.2,289.8 516.4,289.3 516.5,289.7 516.7,289.6 516.8,288.9 516.9,289.4 517.1,289.8 517.2,290.1 517.3,289.7 517.5,289.7 517.6,289.4 517.7,289.5 517.9,289.6 518.0,289.9 518.2,289.7 518.3,289.5 518.4,289.5 518.5,289.4 518.5,289.5 518.6,289.7 518.6,289.2 518.6,289.4 518.7,289.0 518.7,289.5 518.7,289.6 518.8,289.5 518.8,289.5 518.8,290.1 518.9,281.2 518.9,272.2 518.9,264.2 519.0,254.5 519.0,262.3 519.0,268.5 519.1,274.0 519.1,277.7 519.1,280.2 519.2,282.2 519.2,284.0 519.3,285.1 519.3,286.2 519.3,286.8 519.4,287.2 519.4,287.4 519.4,288.1 519.5,288.3 519.5,287.6 519.5,288.5 519.6,288.6 519.6,288.5 519.6,288.5 519.7,288.3 519.7,287.9 519.7,288.8 519.8,288.0 519.8,288.3 519.8,288.2 519.9,289.0 519.9,288.7 519.9,288.5 520.0,288.5 520.0,288.9 520.0,288.4 520.1,288.6 520.1,288.6 520.1,289.1 520.2,289.0 520.2,288.8 520.2,288.5 520.3,289.0 520.3,288.5 520.3,288.1 520.4,288.5 520.4,288.9 520.4,288.6 520.5,288.1 520.5,288.2 520.5,288.2 520.6,288.9 520.6,288.3 520.6,288.2 520.7,289.0 520.7,289.2 520.8,288.2 520.8,288.6 520.8,288.7 520.9,288.8 520.9,289.4 520.9,289.0 521.0,288.7 521.0,288.5 521.0,289.0 521.1,289.1 521.1,288.3 521.1,288.4 521.2,288.9 521.2,288.3 521.2,288.5 521.3,288.6 521.3,288.4 521.3,287.8 521.4,288.8 521.4,288.1 521.4,288.4 521.5,289.1 521.5,288.2 521.5,288.4 521.6,288.2 521.7,288.2 521.8,288.7 522.0,288.4 522.1,288.4 522.3,288.6 522.4,288.5 522.5,288.3 522.7,288.2 522.8,288.2 522.9,288.7 523.1,289.3 523.2,289.1 523.3,289.7 523.5,289.7 523.6,289.1 523.8,289.6 523.9,289.4 524.0,290.0 524.2,289.4 524.3,289.2 524.4,290.2 524.6,288.9 524.7,289.9 524.8,289.4 525.0,289.6 525.1,289.6 525.3,290.0 525.4,289.4 525.5,289.6 525.7,289.6 525.8,289.8" fill="none" stroke="#EDB120" stroke-width="0.8" stroke-linejoin="round" stroke-dasharray="7.2 3.7" stroke-dashoffset="0"/></g><text x="331.50" y="360.85" text-anchor="middle" font-size="16.3" textLength="7.73" lengthAdjust="spacingAndGlyphs">0</text><text x="399.73" y="360.85" text-anchor="middle" font-size="16.3" textLength="15.56" lengthAdjust="spacingAndGlyphs">20</text><text x="467.97" y="360.85" text-anchor="middle" font-size="16.3" textLength="15.56" lengthAdjust="spacingAndGlyphs">40</text><text x="536.20" y="360.85" text-anchor="middle" font-size="16.3" textLength="15.56" lengthAdjust="spacingAndGlyphs">60</text><text x="325.75" y="345.95" text-anchor="end" font-size="16.3" textLength="29.99" lengthAdjust="spacingAndGlyphs">-400</text><text x="325.75" y="281.38" text-anchor="end" font-size="16.3" textLength="29.99" lengthAdjust="spacingAndGlyphs">-200</text><text x="325.75" y="216.80" text-anchor="end" font-size="16.3" textLength="7.73" lengthAdjust="spacingAndGlyphs">0</text><text x="433.65" y="203.85" text-anchor="middle" font-size="17.3" textLength="22.6" lengthAdjust="spacingAndGlyphs">M4</text><text x="433.25" y="381.60" text-anchor="middle" font-size="17" textLength="66.6" lengthAdjust="spacingAndGlyphs" word-spacing="1.4">Times (s)</text></g>
<line x1="281.5" y1="34.7" x2="313.7" y2="34.7" stroke="#0072BD" stroke-width="1.5"/>
<text x="316.5" y="38.6" font-size="17" textLength="28.4" lengthAdjust="spacingAndGlyphs">PID</text>
<line x1="352.3" y1="34.7" x2="382.7" y2="34.7" stroke="#D95319" stroke-width="1.3" stroke-dasharray="5 2.35 1.2 2.05" opacity="0.85"/>
<text x="387" y="38.6" font-size="17" textLength="40.9" lengthAdjust="spacingAndGlyphs">APID</text>
<line x1="434.5" y1="34.7" x2="463.3" y2="34.7" stroke="#EDB120" stroke-width="1.3" stroke-dasharray="7.2 3.7" opacity="0.6"/>
<text x="470.3" y="38.6" font-size="17" textLength="62" lengthAdjust="spacingAndGlyphs">APIDFC</text>
</svg>
</body></html>
